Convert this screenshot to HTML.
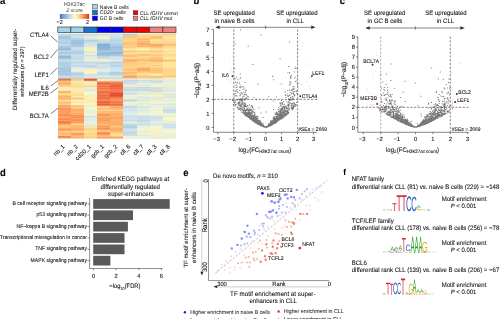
<!DOCTYPE html><html><head><meta charset="utf-8"><style>html,body{margin:0;padding:0;background:#fff;width:500px;height:319px;overflow:hidden}svg{display:block;will-change:transform}.w{width:500px;height:319px;overflow:hidden}text{font-family:"Liberation Sans",sans-serif;fill:#111;stroke:#111;stroke-width:0.8px;text-rendering:geometricPrecision}</style></head><body>
<div class="w"><svg width="500" height="319" viewBox="0 0 500 319">
<g font-weight="bold" style="fill:#000">
<text transform="translate(0,4.4) scale(1,1.05) scale(0.1)" font-size="95.0" style="font-weight:bold;fill:#000">a</text>
<text transform="translate(193.6,4.4) scale(1,1.05) scale(0.1)" font-size="95.0" style="font-weight:bold;fill:#000">b</text>
<text transform="translate(339.8,4.2) scale(1,1.05) scale(0.1)" font-size="95.0" style="font-weight:bold;fill:#000">c</text>
<text transform="translate(0,176) scale(1,1.05) scale(0.1)" font-size="95.0" style="font-weight:bold;fill:#000">d</text>
<text transform="translate(183.2,175.8) scale(1,1.05) scale(0.1)" font-size="95.0" style="font-weight:bold;fill:#000">e</text>
<text transform="translate(343.2,175.2) scale(1,1.05) scale(0.1)" font-size="80.0" style="font-weight:bold;fill:#000">f</text>
</g>
<defs><linearGradient id="cb" x1="0" x2="1" y1="0" y2="0">
<stop offset="0.000" stop-color="#4575b4"/>
<stop offset="0.125" stop-color="#77a3cd"/>
<stop offset="0.250" stop-color="#a2c4de"/>
<stop offset="0.375" stop-color="#cadeea"/>
<stop offset="0.500" stop-color="#fdfdc8"/>
<stop offset="0.625" stop-color="#fee094"/>
<stop offset="0.750" stop-color="#fdb068"/>
<stop offset="0.875" stop-color="#f47048"/>
<stop offset="1.000" stop-color="#d73027"/>
</linearGradient></defs>
<rect x="59.8" y="14" width="29.3" height="4.9" fill="url(#cb)"/>
<text transform="translate(74.4,5.6) scale(1,1.05) scale(0.1)" font-size="51.0" text-anchor="middle" style="fill:#444;stroke:#444;stroke-width:0.3px">H3K27ac</text>
<text transform="translate(74.45,11.5) scale(1,1.05) scale(0.1)" font-size="49.0" text-anchor="middle" style="fill:#444;stroke:#444;stroke-width:0.3px"><tspan font-style="italic">Z</tspan>-score</text>
<text transform="translate(59.6,24.4) scale(1,1.05) scale(0.1)" font-size="55.0" text-anchor="middle" >−2</text>
<text transform="translate(87.5,24.4) scale(1,1.05) scale(0.1)" font-size="55.0" text-anchor="middle" >2</text>
<rect x="92.3" y="4.3" width="5.3" height="4.6" fill="#a6d3e3" stroke="#444" stroke-width="0.5"/>
<text transform="translate(99.8,8.5) scale(1,1.05) scale(0.1)" font-size="50.0" style="fill:#222;stroke:#222;stroke-width:0.4px">Naive B cells</text>
<rect x="92.3" y="10.2" width="5.3" height="4.6" fill="#1b6fce" stroke="#444" stroke-width="0.5"/>
<text transform="translate(99.8,14.399999999999999) scale(1,1.05) scale(0.1)" font-size="50.0" style="fill:#222;stroke:#222;stroke-width:0.4px"><tspan font-style="italic">CD20</tspan><tspan baseline-shift="super" font-size="30.0">+</tspan> cells</text>
<rect x="92.3" y="16.0" width="5.3" height="4.6" fill="#0000f0" stroke="#444" stroke-width="0.5"/>
<text transform="translate(99.8,20.2) scale(1,1.05) scale(0.1)" font-size="50.0" style="fill:#222;stroke:#222;stroke-width:0.4px">GC B cells</text>
<rect x="133.2" y="10.7" width="4.6" height="4.2" fill="#ee0000" stroke="#444" stroke-width="0.5"/>
<text transform="translate(139.9,14.7) scale(1,1.05) scale(0.1)" font-size="50.0" style="fill:#222;stroke:#222;stroke-width:0.4px">CLL <tspan font-style="italic">IGHV</tspan> unmut</text>
<rect x="133.2" y="16.3" width="4.6" height="4.2" fill="#ee8080" stroke="#444" stroke-width="0.5"/>
<text transform="translate(139.9,20.3) scale(1,1.05) scale(0.1)" font-size="50.0" style="fill:#222;stroke:#222;stroke-width:0.4px">CLL <tspan font-style="italic">IGHV</tspan> mut</text>
<rect x="57.75" y="27" width="13.14" height="5.6" fill="#a6d3e3" stroke="#333" stroke-width="0.65"/>
<rect x="70.89" y="27" width="13.14" height="5.6" fill="#a6d3e3" stroke="#333" stroke-width="0.65"/>
<rect x="84.03" y="27" width="13.14" height="5.6" fill="#1b6fce" stroke="#333" stroke-width="0.65"/>
<rect x="97.17" y="27" width="13.14" height="5.6" fill="#0000f0" stroke="#333" stroke-width="0.65"/>
<rect x="110.31" y="27" width="13.14" height="5.6" fill="#0000f0" stroke="#333" stroke-width="0.65"/>
<rect x="123.44" y="27" width="13.14" height="5.6" fill="#ee0000" stroke="#333" stroke-width="0.65"/>
<rect x="136.58" y="27" width="13.14" height="5.6" fill="#ee0000" stroke="#333" stroke-width="0.65"/>
<rect x="149.72" y="27" width="13.14" height="5.6" fill="#ee8080" stroke="#333" stroke-width="0.65"/>
<rect x="162.86" y="27" width="13.14" height="5.6" fill="#ee8080" stroke="#333" stroke-width="0.65"/>
<defs><clipPath id="hc"><rect x="57.75" y="33.5" width="118.25" height="105.25"/></clipPath></defs>
<g clip-path="url(#hc)" shape-rendering="crispEdges">
<rect x="57.75" y="33" width="13.20" height="1" fill="#cadfea"/>
<rect x="70.89" y="33" width="13.20" height="1" fill="#dcebed"/>
<rect x="84.03" y="33" width="13.20" height="1" fill="#d0e2ea"/>
<rect x="97.17" y="33" width="13.20" height="1" fill="#d3e5ec"/>
<rect x="110.31" y="33" width="13.20" height="1" fill="#d1e4ec"/>
<rect x="123.44" y="33" width="13.20" height="1" fill="#bed6e6"/>
<rect x="136.58" y="33" width="13.20" height="1" fill="#fed88d"/>
<rect x="149.72" y="33" width="13.20" height="1" fill="#fed58b"/>
<rect x="162.86" y="33" width="13.20" height="1" fill="#fcae69"/>
<rect x="57.75" y="34" width="13.20" height="1" fill="#c5dbe8"/>
<rect x="70.89" y="34" width="13.20" height="1" fill="#c4dbe7"/>
<rect x="84.03" y="34" width="13.20" height="1" fill="#cce0e9"/>
<rect x="97.17" y="34" width="13.20" height="1" fill="#cde0e9"/>
<rect x="110.31" y="34" width="13.20" height="1" fill="#cadfe9"/>
<rect x="123.44" y="34" width="13.20" height="1" fill="#b3cbda"/>
<rect x="136.58" y="34" width="13.20" height="1" fill="#fee29d"/>
<rect x="149.72" y="34" width="13.20" height="1" fill="#fedf97"/>
<rect x="162.86" y="34" width="13.20" height="1" fill="#fdcf88"/>
<rect x="57.75" y="35" width="13.20" height="1" fill="#b8d3e5"/>
<rect x="70.89" y="35" width="13.20" height="1" fill="#c5dbe8"/>
<rect x="84.03" y="35" width="13.20" height="1" fill="#d2e4e9"/>
<rect x="97.17" y="35" width="13.20" height="1" fill="#e3ecdd"/>
<rect x="110.31" y="35" width="13.20" height="1" fill="#d6e7ed"/>
<rect x="123.44" y="35" width="13.20" height="1" fill="#e9ca9d"/>
<rect x="136.58" y="35" width="13.20" height="1" fill="#fecf86"/>
<rect x="149.72" y="35" width="13.20" height="1" fill="#fed48b"/>
<rect x="162.86" y="35" width="13.20" height="1" fill="#fddc95"/>
<rect x="57.75" y="36" width="13.20" height="1" fill="#adcbe2"/>
<rect x="70.89" y="36" width="13.20" height="1" fill="#d5e6ed"/>
<rect x="84.03" y="36" width="13.20" height="1" fill="#e4efe4"/>
<rect x="97.17" y="36" width="13.20" height="1" fill="#f9eeb8"/>
<rect x="110.31" y="36" width="13.20" height="1" fill="#d0e2eb"/>
<rect x="123.44" y="36" width="13.20" height="1" fill="#fcc57e"/>
<rect x="136.58" y="36" width="13.20" height="1" fill="#fed38b"/>
<rect x="149.72" y="36" width="13.20" height="1" fill="#fdc47b"/>
<rect x="162.86" y="36" width="13.20" height="1" fill="#f8e2ab"/>
<rect x="57.75" y="37" width="13.20" height="1" fill="#a3c4df"/>
<rect x="70.89" y="37" width="13.20" height="1" fill="#c9dee9"/>
<rect x="84.03" y="37" width="13.20" height="1" fill="#e2ebdb"/>
<rect x="97.17" y="37" width="13.20" height="1" fill="#f0f4d7"/>
<rect x="110.31" y="37" width="13.20" height="1" fill="#cee1eb"/>
<rect x="123.44" y="37" width="13.20" height="1" fill="#fec67d"/>
<rect x="136.58" y="37" width="13.20" height="1" fill="#fdd68f"/>
<rect x="149.72" y="37" width="13.20" height="1" fill="#fdb771"/>
<rect x="162.86" y="37" width="13.20" height="1" fill="#fde6a2"/>
<rect x="57.75" y="38" width="13.20" height="1" fill="#a8c8e0"/>
<rect x="70.89" y="38" width="13.20" height="1" fill="#bed6e6"/>
<rect x="84.03" y="38" width="13.20" height="1" fill="#dfebe1"/>
<rect x="97.17" y="38" width="13.20" height="1" fill="#f5f7ce"/>
<rect x="110.31" y="38" width="13.20" height="1" fill="#c5dce8"/>
<rect x="123.44" y="38" width="13.20" height="1" fill="#fed087"/>
<rect x="136.58" y="38" width="13.20" height="1" fill="#fcc07d"/>
<rect x="149.72" y="38" width="13.20" height="1" fill="#fdc67d"/>
<rect x="162.86" y="38" width="13.20" height="1" fill="#fee9a7"/>
<rect x="57.75" y="39" width="13.20" height="1" fill="#b6d1e4"/>
<rect x="70.89" y="39" width="13.20" height="1" fill="#b1cee3"/>
<rect x="84.03" y="39" width="13.20" height="1" fill="#d0e1e2"/>
<rect x="97.17" y="39" width="13.20" height="1" fill="#d6e5e1"/>
<rect x="110.31" y="39" width="13.20" height="1" fill="#c5dbe8"/>
<rect x="123.44" y="39" width="13.20" height="1" fill="#fed288"/>
<rect x="136.58" y="39" width="13.20" height="1" fill="#fcb570"/>
<rect x="149.72" y="39" width="13.20" height="1" fill="#fedb92"/>
<rect x="162.86" y="39" width="13.20" height="1" fill="#fedc95"/>
<rect x="57.75" y="40" width="13.20" height="1" fill="#b8d2e5"/>
<rect x="70.89" y="40" width="13.20" height="1" fill="#a1c3de"/>
<rect x="84.03" y="40" width="13.20" height="1" fill="#b2cee2"/>
<rect x="97.17" y="40" width="13.20" height="1" fill="#c5dbe8"/>
<rect x="110.31" y="40" width="13.20" height="1" fill="#b8d2e5"/>
<rect x="123.44" y="40" width="13.20" height="1" fill="#fed88e"/>
<rect x="136.58" y="40" width="13.20" height="1" fill="#fdc77e"/>
<rect x="149.72" y="40" width="13.20" height="1" fill="#fee39c"/>
<rect x="162.86" y="40" width="13.20" height="1" fill="#fee19c"/>
<rect x="57.75" y="41" width="13.20" height="1" fill="#bdd6e6"/>
<rect x="70.89" y="41" width="13.20" height="1" fill="#a6c6df"/>
<rect x="84.03" y="41" width="13.20" height="1" fill="#bed7e6"/>
<rect x="97.17" y="41" width="13.20" height="1" fill="#c6dce9"/>
<rect x="110.31" y="41" width="13.20" height="1" fill="#bed7e6"/>
<rect x="123.44" y="41" width="13.20" height="1" fill="#fed086"/>
<rect x="136.58" y="41" width="13.20" height="1" fill="#fdbd75"/>
<rect x="149.72" y="41" width="13.20" height="1" fill="#fed88e"/>
<rect x="162.86" y="41" width="13.20" height="1" fill="#fed68c"/>
<rect x="57.75" y="42" width="13.20" height="1" fill="#aac9e1"/>
<rect x="70.89" y="42" width="13.20" height="1" fill="#9bbedc"/>
<rect x="84.03" y="42" width="13.20" height="1" fill="#c4dbe8"/>
<rect x="97.17" y="42" width="13.20" height="1" fill="#bed6e6"/>
<rect x="110.31" y="42" width="13.20" height="1" fill="#c1d9e7"/>
<rect x="123.44" y="42" width="13.20" height="1" fill="#fec67c"/>
<rect x="136.58" y="42" width="13.20" height="1" fill="#fdb871"/>
<rect x="149.72" y="42" width="13.20" height="1" fill="#feda93"/>
<rect x="162.86" y="42" width="13.20" height="1" fill="#fed991"/>
<rect x="57.75" y="43" width="13.20" height="1" fill="#b8d2e5"/>
<rect x="70.89" y="43" width="13.20" height="1" fill="#9dc0dc"/>
<rect x="84.03" y="43" width="13.20" height="1" fill="#cfe2eb"/>
<rect x="97.17" y="43" width="13.20" height="1" fill="#a7c6de"/>
<rect x="110.31" y="43" width="13.20" height="1" fill="#b6d1e4"/>
<rect x="123.44" y="43" width="13.20" height="1" fill="#fdc178"/>
<rect x="136.58" y="43" width="13.20" height="1" fill="#fcae68"/>
<rect x="149.72" y="43" width="13.20" height="1" fill="#fdcd87"/>
<rect x="162.86" y="43" width="13.20" height="1" fill="#fecf85"/>
<rect x="57.75" y="44" width="13.20" height="1" fill="#c1d9e7"/>
<rect x="70.89" y="44" width="13.20" height="1" fill="#a6c6df"/>
<rect x="84.03" y="44" width="13.20" height="1" fill="#cfe2eb"/>
<rect x="97.17" y="44" width="13.20" height="1" fill="#89b1d5"/>
<rect x="110.31" y="44" width="13.20" height="1" fill="#aecce2"/>
<rect x="123.44" y="44" width="13.20" height="1" fill="#fdc47a"/>
<rect x="136.58" y="44" width="13.20" height="1" fill="#fba664"/>
<rect x="149.72" y="44" width="13.20" height="1" fill="#fba968"/>
<rect x="162.86" y="44" width="13.20" height="1" fill="#fdbd76"/>
<rect x="57.75" y="45" width="13.20" height="1" fill="#bad4e5"/>
<rect x="70.89" y="45" width="13.20" height="1" fill="#a7c7e0"/>
<rect x="84.03" y="45" width="13.20" height="1" fill="#d4e5ec"/>
<rect x="97.17" y="45" width="13.20" height="1" fill="#81acd2"/>
<rect x="110.31" y="45" width="13.20" height="1" fill="#accae1"/>
<rect x="123.44" y="45" width="13.20" height="1" fill="#fdcf85"/>
<rect x="136.58" y="45" width="13.20" height="1" fill="#fdbc74"/>
<rect x="149.72" y="45" width="13.20" height="1" fill="#fba765"/>
<rect x="162.86" y="45" width="13.20" height="1" fill="#fec77e"/>
<rect x="57.75" y="46" width="13.20" height="1" fill="#b0cde2"/>
<rect x="70.89" y="46" width="13.20" height="1" fill="#b2cee3"/>
<rect x="84.03" y="46" width="13.20" height="1" fill="#d8e6e6"/>
<rect x="97.17" y="46" width="13.20" height="1" fill="#8fb6d8"/>
<rect x="110.31" y="46" width="13.20" height="1" fill="#a7c7e0"/>
<rect x="123.44" y="46" width="13.20" height="1" fill="#fdc97f"/>
<rect x="136.58" y="46" width="13.20" height="1" fill="#fcae6b"/>
<rect x="149.72" y="46" width="13.20" height="1" fill="#fcb872"/>
<rect x="162.86" y="46" width="13.20" height="1" fill="#fed88d"/>
<rect x="57.75" y="47" width="13.20" height="1" fill="#a2c4de"/>
<rect x="70.89" y="47" width="13.20" height="1" fill="#c3dae8"/>
<rect x="84.03" y="47" width="13.20" height="1" fill="#f9f1ba"/>
<rect x="97.17" y="47" width="13.20" height="1" fill="#87b0d5"/>
<rect x="110.31" y="47" width="13.20" height="1" fill="#99bddb"/>
<rect x="123.44" y="47" width="13.20" height="1" fill="#fecc83"/>
<rect x="136.58" y="47" width="13.20" height="1" fill="#fddd97"/>
<rect x="149.72" y="47" width="13.20" height="1" fill="#fec87f"/>
<rect x="162.86" y="47" width="13.20" height="1" fill="#fedc94"/>
<rect x="57.75" y="48" width="13.20" height="1" fill="#9bbedc"/>
<rect x="70.89" y="48" width="13.20" height="1" fill="#c9deea"/>
<rect x="84.03" y="48" width="13.20" height="1" fill="#fcf1b7"/>
<rect x="97.17" y="48" width="13.20" height="1" fill="#8bb3d6"/>
<rect x="110.31" y="48" width="13.20" height="1" fill="#a2c3de"/>
<rect x="123.44" y="48" width="13.20" height="1" fill="#fee299"/>
<rect x="136.58" y="48" width="13.20" height="1" fill="#fdedac"/>
<rect x="149.72" y="48" width="13.20" height="1" fill="#fede94"/>
<rect x="162.86" y="48" width="13.20" height="1" fill="#fee49c"/>
<rect x="57.75" y="49" width="13.20" height="1" fill="#95bada"/>
<rect x="70.89" y="49" width="13.20" height="1" fill="#c7dde9"/>
<rect x="84.03" y="49" width="13.20" height="1" fill="#f1f1cf"/>
<rect x="97.17" y="49" width="13.20" height="1" fill="#98bcdb"/>
<rect x="110.31" y="49" width="13.20" height="1" fill="#a6c6df"/>
<rect x="123.44" y="49" width="13.20" height="1" fill="#fee9a6"/>
<rect x="136.58" y="49" width="13.20" height="1" fill="#fcf1b6"/>
<rect x="149.72" y="49" width="13.20" height="1" fill="#fede95"/>
<rect x="162.86" y="49" width="13.20" height="1" fill="#fee7a0"/>
<rect x="57.75" y="50" width="13.20" height="1" fill="#adcbe1"/>
<rect x="70.89" y="50" width="13.20" height="1" fill="#bfd7e7"/>
<rect x="84.03" y="50" width="13.20" height="1" fill="#f5f2c5"/>
<rect x="97.17" y="50" width="13.20" height="1" fill="#99bddb"/>
<rect x="110.31" y="50" width="13.20" height="1" fill="#a6c6df"/>
<rect x="123.44" y="50" width="13.20" height="1" fill="#fdd793"/>
<rect x="136.58" y="50" width="13.20" height="1" fill="#fce1a4"/>
<rect x="149.72" y="50" width="13.20" height="1" fill="#fedc93"/>
<rect x="162.86" y="50" width="13.20" height="1" fill="#fee69f"/>
<rect x="57.75" y="51" width="13.20" height="1" fill="#c8dde9"/>
<rect x="70.89" y="51" width="13.20" height="1" fill="#b4d0e3"/>
<rect x="84.03" y="51" width="13.20" height="1" fill="#eaeccc"/>
<rect x="97.17" y="51" width="13.20" height="1" fill="#b0cde2"/>
<rect x="110.31" y="51" width="13.20" height="1" fill="#accae1"/>
<rect x="123.44" y="51" width="13.20" height="1" fill="#fdc37b"/>
<rect x="136.58" y="51" width="13.20" height="1" fill="#fdcb85"/>
<rect x="149.72" y="51" width="13.20" height="1" fill="#fdc47b"/>
<rect x="162.86" y="51" width="13.20" height="1" fill="#fddd97"/>
<rect x="57.75" y="52" width="13.20" height="1" fill="#a4c4de"/>
<rect x="70.89" y="52" width="13.20" height="1" fill="#afcce2"/>
<rect x="84.03" y="52" width="13.20" height="1" fill="#d7e6e4"/>
<rect x="97.17" y="52" width="13.20" height="1" fill="#97bbd9"/>
<rect x="110.31" y="52" width="13.20" height="1" fill="#8ab2d5"/>
<rect x="123.44" y="52" width="13.20" height="1" fill="#fedd96"/>
<rect x="136.58" y="52" width="13.20" height="1" fill="#fee5a1"/>
<rect x="149.72" y="52" width="13.20" height="1" fill="#fedc95"/>
<rect x="162.86" y="52" width="13.20" height="1" fill="#faeab1"/>
<rect x="57.75" y="53" width="13.20" height="1" fill="#b3cfe3"/>
<rect x="70.89" y="53" width="13.20" height="1" fill="#bbd4e5"/>
<rect x="84.03" y="53" width="13.20" height="1" fill="#e9f0d4"/>
<rect x="97.17" y="53" width="13.20" height="1" fill="#98bcda"/>
<rect x="110.31" y="53" width="13.20" height="1" fill="#9cbfdc"/>
<rect x="123.44" y="53" width="13.20" height="1" fill="#fed88f"/>
<rect x="136.58" y="53" width="13.20" height="1" fill="#fdcf86"/>
<rect x="149.72" y="53" width="13.20" height="1" fill="#feda91"/>
<rect x="162.86" y="53" width="13.20" height="1" fill="#fee099"/>
<rect x="57.75" y="54" width="13.20" height="1" fill="#b7d2e4"/>
<rect x="70.89" y="54" width="13.20" height="1" fill="#bed6e6"/>
<rect x="84.03" y="54" width="13.20" height="1" fill="#eef2cf"/>
<rect x="97.17" y="54" width="13.20" height="1" fill="#95bad9"/>
<rect x="110.31" y="54" width="13.20" height="1" fill="#a3c4de"/>
<rect x="123.44" y="54" width="13.20" height="1" fill="#fed88e"/>
<rect x="136.58" y="54" width="13.20" height="1" fill="#fdc77e"/>
<rect x="149.72" y="54" width="13.20" height="1" fill="#fed48b"/>
<rect x="162.86" y="54" width="13.20" height="1" fill="#fedb90"/>
<rect x="57.75" y="55" width="13.20" height="1" fill="#b0cde2"/>
<rect x="70.89" y="55" width="13.20" height="1" fill="#cfe2eb"/>
<rect x="84.03" y="55" width="13.20" height="1" fill="#cbdfe5"/>
<rect x="97.17" y="55" width="13.20" height="1" fill="#9fc1db"/>
<rect x="110.31" y="55" width="13.20" height="1" fill="#aac9e0"/>
<rect x="123.44" y="55" width="13.20" height="1" fill="#fcbc77"/>
<rect x="136.58" y="55" width="13.20" height="1" fill="#fdc67d"/>
<rect x="149.72" y="55" width="13.20" height="1" fill="#fdc57d"/>
<rect x="162.86" y="55" width="13.20" height="1" fill="#fed98e"/>
<rect x="57.75" y="56" width="13.20" height="1" fill="#97bbda"/>
<rect x="70.89" y="56" width="13.20" height="1" fill="#c6dce8"/>
<rect x="84.03" y="56" width="13.20" height="1" fill="#d9e9ea"/>
<rect x="97.17" y="56" width="13.20" height="1" fill="#c1d8e4"/>
<rect x="110.31" y="56" width="13.20" height="1" fill="#c5dce8"/>
<rect x="123.44" y="56" width="13.20" height="1" fill="#fbc37f"/>
<rect x="136.58" y="56" width="13.20" height="1" fill="#fed38c"/>
<rect x="149.72" y="56" width="13.20" height="1" fill="#fdd08b"/>
<rect x="162.86" y="56" width="13.20" height="1" fill="#fedd94"/>
<rect x="57.75" y="57" width="13.20" height="1" fill="#97bcda"/>
<rect x="70.89" y="57" width="13.20" height="1" fill="#c5dbe8"/>
<rect x="84.03" y="57" width="13.20" height="1" fill="#e3efe0"/>
<rect x="97.17" y="57" width="13.20" height="1" fill="#c1d8e6"/>
<rect x="110.31" y="57" width="13.20" height="1" fill="#d2e4ec"/>
<rect x="123.44" y="57" width="13.20" height="1" fill="#fed68f"/>
<rect x="136.58" y="57" width="13.20" height="1" fill="#fedb91"/>
<rect x="149.72" y="57" width="13.20" height="1" fill="#fecf85"/>
<rect x="162.86" y="57" width="13.20" height="1" fill="#fee8a3"/>
<rect x="57.75" y="58" width="13.20" height="1" fill="#a7c6e0"/>
<rect x="70.89" y="58" width="13.20" height="1" fill="#c2d9e7"/>
<rect x="84.03" y="58" width="13.20" height="1" fill="#e4eede"/>
<rect x="97.17" y="58" width="13.20" height="1" fill="#cadfe5"/>
<rect x="110.31" y="58" width="13.20" height="1" fill="#cfe2eb"/>
<rect x="123.44" y="58" width="13.20" height="1" fill="#fed991"/>
<rect x="136.58" y="58" width="13.20" height="1" fill="#fdc77f"/>
<rect x="149.72" y="58" width="13.20" height="1" fill="#fdc178"/>
<rect x="162.86" y="58" width="13.20" height="1" fill="#fee7a1"/>
<rect x="57.75" y="59" width="13.20" height="1" fill="#bcd5e6"/>
<rect x="70.89" y="59" width="13.20" height="1" fill="#c6dce8"/>
<rect x="84.03" y="59" width="13.20" height="1" fill="#e8f0de"/>
<rect x="97.17" y="59" width="13.20" height="1" fill="#edf0ce"/>
<rect x="110.31" y="59" width="13.20" height="1" fill="#d6e6eb"/>
<rect x="123.44" y="59" width="13.20" height="1" fill="#fdba73"/>
<rect x="136.58" y="59" width="13.20" height="1" fill="#fdc57c"/>
<rect x="149.72" y="59" width="13.20" height="1" fill="#fdbf76"/>
<rect x="162.86" y="59" width="13.20" height="1" fill="#fed48b"/>
<rect x="57.75" y="60" width="13.20" height="1" fill="#c4dbe8"/>
<rect x="70.89" y="60" width="13.20" height="1" fill="#d2e4ea"/>
<rect x="84.03" y="60" width="13.20" height="1" fill="#ebefd5"/>
<rect x="97.17" y="60" width="13.20" height="1" fill="#f3efc4"/>
<rect x="110.31" y="60" width="13.20" height="1" fill="#e5efe2"/>
<rect x="123.44" y="60" width="13.20" height="1" fill="#fcad69"/>
<rect x="136.58" y="60" width="13.20" height="1" fill="#fcb974"/>
<rect x="149.72" y="60" width="13.20" height="1" fill="#fcb26c"/>
<rect x="162.86" y="60" width="13.20" height="1" fill="#fdc077"/>
<rect x="57.75" y="61" width="13.20" height="1" fill="#c6dce9"/>
<rect x="70.89" y="61" width="13.20" height="1" fill="#c8dde9"/>
<rect x="84.03" y="61" width="13.20" height="1" fill="#e1ebdd"/>
<rect x="97.17" y="61" width="13.20" height="1" fill="#eaeed1"/>
<rect x="110.31" y="61" width="13.20" height="1" fill="#cce0e8"/>
<rect x="123.44" y="61" width="13.20" height="1" fill="#fcb872"/>
<rect x="136.58" y="61" width="13.20" height="1" fill="#fdc980"/>
<rect x="149.72" y="61" width="13.20" height="1" fill="#fdbb73"/>
<rect x="162.86" y="61" width="13.20" height="1" fill="#fed087"/>
<rect x="57.75" y="62" width="13.20" height="1" fill="#accae1"/>
<rect x="70.89" y="62" width="13.20" height="1" fill="#c0d8e7"/>
<rect x="84.03" y="62" width="13.20" height="1" fill="#bfd7e5"/>
<rect x="97.17" y="62" width="13.20" height="1" fill="#c2d9e4"/>
<rect x="110.31" y="62" width="13.20" height="1" fill="#b5d1e4"/>
<rect x="123.44" y="62" width="13.20" height="1" fill="#fdc97f"/>
<rect x="136.58" y="62" width="13.20" height="1" fill="#fed88f"/>
<rect x="149.72" y="62" width="13.20" height="1" fill="#fed58a"/>
<rect x="162.86" y="62" width="13.20" height="1" fill="#fee49d"/>
<rect x="57.75" y="63" width="13.20" height="1" fill="#b4d0e4"/>
<rect x="70.89" y="63" width="13.20" height="1" fill="#c4dbe8"/>
<rect x="84.03" y="63" width="13.20" height="1" fill="#cbdfea"/>
<rect x="97.17" y="63" width="13.20" height="1" fill="#bfd7e7"/>
<rect x="110.31" y="63" width="13.20" height="1" fill="#c0d8e7"/>
<rect x="123.44" y="63" width="13.20" height="1" fill="#fecc81"/>
<rect x="136.58" y="63" width="13.20" height="1" fill="#fecb81"/>
<rect x="149.72" y="63" width="13.20" height="1" fill="#fed98f"/>
<rect x="162.86" y="63" width="13.20" height="1" fill="#fde7a3"/>
<rect x="57.75" y="64" width="13.20" height="1" fill="#b1cee3"/>
<rect x="70.89" y="64" width="13.20" height="1" fill="#cfe3eb"/>
<rect x="84.03" y="64" width="13.20" height="1" fill="#cee1eb"/>
<rect x="97.17" y="64" width="13.20" height="1" fill="#cfe2eb"/>
<rect x="110.31" y="64" width="13.20" height="1" fill="#c4dae8"/>
<rect x="123.44" y="64" width="13.20" height="1" fill="#fece83"/>
<rect x="136.58" y="64" width="13.20" height="1" fill="#fed288"/>
<rect x="149.72" y="64" width="13.20" height="1" fill="#fedb91"/>
<rect x="162.86" y="64" width="13.20" height="1" fill="#fee39d"/>
<rect x="57.75" y="65" width="13.20" height="1" fill="#b2cee3"/>
<rect x="70.89" y="65" width="13.20" height="1" fill="#c1d8e7"/>
<rect x="84.03" y="65" width="13.20" height="1" fill="#c3d9e8"/>
<rect x="97.17" y="65" width="13.20" height="1" fill="#d0e2eb"/>
<rect x="110.31" y="65" width="13.20" height="1" fill="#bad4e5"/>
<rect x="123.44" y="65" width="13.20" height="1" fill="#fece84"/>
<rect x="136.58" y="65" width="13.20" height="1" fill="#fed78d"/>
<rect x="149.72" y="65" width="13.20" height="1" fill="#fdcd83"/>
<rect x="162.86" y="65" width="13.20" height="1" fill="#fee8a6"/>
<rect x="57.75" y="66" width="13.20" height="1" fill="#b7d2e4"/>
<rect x="70.89" y="66" width="13.20" height="1" fill="#c8dde9"/>
<rect x="84.03" y="66" width="13.20" height="1" fill="#bed6e6"/>
<rect x="97.17" y="66" width="13.20" height="1" fill="#d0e2eb"/>
<rect x="110.31" y="66" width="13.20" height="1" fill="#bdd6e6"/>
<rect x="123.44" y="66" width="13.20" height="1" fill="#fed38c"/>
<rect x="136.58" y="66" width="13.20" height="1" fill="#fed68c"/>
<rect x="149.72" y="66" width="13.20" height="1" fill="#fed98f"/>
<rect x="162.86" y="66" width="13.20" height="1" fill="#fee5a1"/>
<rect x="57.75" y="67" width="13.20" height="1" fill="#accae1"/>
<rect x="70.89" y="67" width="13.20" height="1" fill="#dae9e9"/>
<rect x="84.03" y="67" width="13.20" height="1" fill="#c9dde5"/>
<rect x="97.17" y="67" width="13.20" height="1" fill="#cadee8"/>
<rect x="110.31" y="67" width="13.20" height="1" fill="#cbdfea"/>
<rect x="123.44" y="67" width="13.20" height="1" fill="#fed58c"/>
<rect x="136.58" y="67" width="13.20" height="1" fill="#fdc67e"/>
<rect x="149.72" y="67" width="13.20" height="1" fill="#fed48a"/>
<rect x="162.86" y="67" width="13.20" height="1" fill="#fedf97"/>
<rect x="57.75" y="68" width="13.20" height="1" fill="#aac9e0"/>
<rect x="70.89" y="68" width="13.20" height="1" fill="#e6efda"/>
<rect x="84.03" y="68" width="13.20" height="1" fill="#e9ead1"/>
<rect x="97.17" y="68" width="13.20" height="1" fill="#dbe9e5"/>
<rect x="110.31" y="68" width="13.20" height="1" fill="#d2e4ec"/>
<rect x="123.44" y="68" width="13.20" height="1" fill="#fdc87e"/>
<rect x="136.58" y="68" width="13.20" height="1" fill="#fba565"/>
<rect x="149.72" y="68" width="13.20" height="1" fill="#fdc57b"/>
<rect x="162.86" y="68" width="13.20" height="1" fill="#fed890"/>
<rect x="57.75" y="69" width="13.20" height="1" fill="#a5c5df"/>
<rect x="70.89" y="69" width="13.20" height="1" fill="#e3efe4"/>
<rect x="84.03" y="69" width="13.20" height="1" fill="#f0f4d7"/>
<rect x="97.17" y="69" width="13.20" height="1" fill="#dfebe1"/>
<rect x="110.31" y="69" width="13.20" height="1" fill="#cee1eb"/>
<rect x="123.44" y="69" width="13.20" height="1" fill="#fec87e"/>
<rect x="136.58" y="69" width="13.20" height="1" fill="#fba868"/>
<rect x="149.72" y="69" width="13.20" height="1" fill="#fdc47a"/>
<rect x="162.86" y="69" width="13.20" height="1" fill="#fdd993"/>
<rect x="57.75" y="70" width="13.20" height="1" fill="#adcbe2"/>
<rect x="70.89" y="70" width="13.20" height="1" fill="#e8f2e2"/>
<rect x="84.03" y="70" width="13.20" height="1" fill="#faf3bf"/>
<rect x="97.17" y="70" width="13.20" height="1" fill="#e2eee9"/>
<rect x="110.31" y="70" width="13.20" height="1" fill="#d8e8eb"/>
<rect x="123.44" y="70" width="13.20" height="1" fill="#fdbe78"/>
<rect x="136.58" y="70" width="13.20" height="1" fill="#fcad69"/>
<rect x="149.72" y="70" width="13.20" height="1" fill="#fdbd75"/>
<rect x="162.86" y="70" width="13.20" height="1" fill="#fecf85"/>
<rect x="57.75" y="71" width="13.20" height="1" fill="#a3c5df"/>
<rect x="70.89" y="71" width="13.20" height="1" fill="#e5efdd"/>
<rect x="84.03" y="71" width="13.20" height="1" fill="#fbf6bf"/>
<rect x="97.17" y="71" width="13.20" height="1" fill="#ddebed"/>
<rect x="110.31" y="71" width="13.20" height="1" fill="#cce0ea"/>
<rect x="123.44" y="71" width="13.20" height="1" fill="#fdd28a"/>
<rect x="136.58" y="71" width="13.20" height="1" fill="#fdbc74"/>
<rect x="149.72" y="71" width="13.20" height="1" fill="#fdca81"/>
<rect x="162.86" y="71" width="13.20" height="1" fill="#fed58a"/>
<rect x="57.75" y="72" width="13.20" height="1" fill="#a8c7e0"/>
<rect x="70.89" y="72" width="13.20" height="1" fill="#c6dbe6"/>
<rect x="84.03" y="72" width="13.20" height="1" fill="#fcf5bd"/>
<rect x="97.17" y="72" width="13.20" height="1" fill="#cbdfea"/>
<rect x="110.31" y="72" width="13.20" height="1" fill="#afcce2"/>
<rect x="123.44" y="72" width="13.20" height="1" fill="#fdb871"/>
<rect x="136.58" y="72" width="13.20" height="1" fill="#fecf84"/>
<rect x="149.72" y="72" width="13.20" height="1" fill="#fdc97f"/>
<rect x="162.86" y="72" width="13.20" height="1" fill="#fed98f"/>
<rect x="57.75" y="73" width="13.20" height="1" fill="#accae1"/>
<rect x="70.89" y="73" width="13.20" height="1" fill="#b1cee2"/>
<rect x="84.03" y="73" width="13.20" height="1" fill="#f5f3c6"/>
<rect x="97.17" y="73" width="13.20" height="1" fill="#c6dce9"/>
<rect x="110.31" y="73" width="13.20" height="1" fill="#aecbe2"/>
<rect x="123.44" y="73" width="13.20" height="1" fill="#fdbf76"/>
<rect x="136.58" y="73" width="13.20" height="1" fill="#fedd92"/>
<rect x="149.72" y="73" width="13.20" height="1" fill="#fed68c"/>
<rect x="162.86" y="73" width="13.20" height="1" fill="#fed38c"/>
<rect x="57.75" y="74" width="13.20" height="1" fill="#a2c4de"/>
<rect x="70.89" y="74" width="13.20" height="1" fill="#b8d2e4"/>
<rect x="84.03" y="74" width="13.20" height="1" fill="#d0e1e4"/>
<rect x="97.17" y="74" width="13.20" height="1" fill="#bdd5e4"/>
<rect x="110.31" y="74" width="13.20" height="1" fill="#b6d1e4"/>
<rect x="123.44" y="74" width="13.20" height="1" fill="#fdc67c"/>
<rect x="136.58" y="74" width="13.20" height="1" fill="#fee39c"/>
<rect x="149.72" y="74" width="13.20" height="1" fill="#fdecab"/>
<rect x="162.86" y="74" width="13.20" height="1" fill="#fed993"/>
<rect x="57.75" y="75" width="13.20" height="1" fill="#b7d2e4"/>
<rect x="70.89" y="75" width="13.20" height="1" fill="#bfd7e7"/>
<rect x="84.03" y="75" width="13.20" height="1" fill="#d6e4dc"/>
<rect x="97.17" y="75" width="13.20" height="1" fill="#d8e6dd"/>
<rect x="110.31" y="75" width="13.20" height="1" fill="#c6dce7"/>
<rect x="123.44" y="75" width="13.20" height="1" fill="#fdc37a"/>
<rect x="136.58" y="75" width="13.20" height="1" fill="#fdd791"/>
<rect x="149.72" y="75" width="13.20" height="1" fill="#fee29c"/>
<rect x="162.86" y="75" width="13.20" height="1" fill="#fed188"/>
<rect x="57.75" y="76" width="13.20" height="1" fill="#cce0e9"/>
<rect x="70.89" y="76" width="13.20" height="1" fill="#c9dee9"/>
<rect x="84.03" y="76" width="13.20" height="1" fill="#d9e8e5"/>
<rect x="97.17" y="76" width="13.20" height="1" fill="#e6eedb"/>
<rect x="110.31" y="76" width="13.20" height="1" fill="#deebe2"/>
<rect x="123.44" y="76" width="13.20" height="1" fill="#f99960"/>
<rect x="136.58" y="76" width="13.20" height="1" fill="#fdc37c"/>
<rect x="149.72" y="76" width="13.20" height="1" fill="#fdc179"/>
<rect x="162.86" y="76" width="13.20" height="1" fill="#fdc079"/>
<rect x="57.75" y="77" width="13.20" height="1" fill="#c4d6e2"/>
<rect x="70.89" y="77" width="13.20" height="1" fill="#c4d8e3"/>
<rect x="84.03" y="77" width="13.20" height="1" fill="#dce5e0"/>
<rect x="97.17" y="77" width="13.20" height="1" fill="#c9dee5"/>
<rect x="110.31" y="77" width="13.20" height="1" fill="#c7dde7"/>
<rect x="123.44" y="77" width="13.20" height="1" fill="#f9b276"/>
<rect x="136.58" y="77" width="13.20" height="1" fill="#fbcd8c"/>
<rect x="149.72" y="77" width="13.20" height="1" fill="#fcc780"/>
<rect x="162.86" y="77" width="13.20" height="1" fill="#fbdf9f"/>
<rect x="57.75" y="78" width="13.20" height="1" fill="#cfb2a7"/>
<rect x="70.89" y="78" width="13.20" height="1" fill="#d6d0bb"/>
<rect x="84.03" y="78" width="13.20" height="1" fill="#dcaca2"/>
<rect x="97.17" y="78" width="13.20" height="1" fill="#cadcdf"/>
<rect x="110.31" y="78" width="13.20" height="1" fill="#cedfe0"/>
<rect x="123.44" y="78" width="13.20" height="1" fill="#e5d9b3"/>
<rect x="136.58" y="78" width="13.20" height="1" fill="#eae4be"/>
<rect x="149.72" y="78" width="13.20" height="1" fill="#eddaae"/>
<rect x="162.86" y="78" width="13.20" height="1" fill="#eeefcf"/>
<rect x="57.75" y="79" width="13.20" height="1" fill="#eb7250"/>
<rect x="70.89" y="79" width="13.20" height="1" fill="#f9c783"/>
<rect x="84.03" y="79" width="13.20" height="1" fill="#e25540"/>
<rect x="97.17" y="79" width="13.20" height="1" fill="#f7ebb3"/>
<rect x="110.31" y="79" width="13.20" height="1" fill="#f5e7b3"/>
<rect x="123.44" y="79" width="13.20" height="1" fill="#e3ecda"/>
<rect x="136.58" y="79" width="13.20" height="1" fill="#edf0d3"/>
<rect x="149.72" y="79" width="13.20" height="1" fill="#eaeed1"/>
<rect x="162.86" y="79" width="13.20" height="1" fill="#eaeed6"/>
<rect x="57.75" y="80" width="13.20" height="1" fill="#f8985e"/>
<rect x="70.89" y="80" width="13.20" height="1" fill="#fcd48e"/>
<rect x="84.03" y="80" width="13.20" height="1" fill="#f07b54"/>
<rect x="97.17" y="80" width="13.20" height="1" fill="#f4ebc2"/>
<rect x="110.31" y="80" width="13.20" height="1" fill="#e4e5da"/>
<rect x="123.44" y="80" width="13.20" height="1" fill="#c3dae6"/>
<rect x="136.58" y="80" width="13.20" height="1" fill="#cddfe5"/>
<rect x="149.72" y="80" width="13.20" height="1" fill="#cce0e6"/>
<rect x="162.86" y="80" width="13.20" height="1" fill="#e2ede7"/>
<rect x="57.75" y="81" width="13.20" height="1" fill="#fdbe76"/>
<rect x="70.89" y="81" width="13.20" height="1" fill="#f1e7bc"/>
<rect x="84.03" y="81" width="13.20" height="1" fill="#ebddc0"/>
<rect x="97.17" y="81" width="13.20" height="1" fill="#f7a671"/>
<rect x="110.31" y="81" width="13.20" height="1" fill="#f6b07c"/>
<rect x="123.44" y="81" width="13.20" height="1" fill="#c4dae8"/>
<rect x="136.58" y="81" width="13.20" height="1" fill="#d5e5e2"/>
<rect x="149.72" y="81" width="13.20" height="1" fill="#c7dce8"/>
<rect x="162.86" y="81" width="13.20" height="1" fill="#dfece3"/>
<rect x="57.75" y="82" width="13.20" height="1" fill="#fdbb73"/>
<rect x="70.89" y="82" width="13.20" height="1" fill="#fcebad"/>
<rect x="84.03" y="82" width="13.20" height="1" fill="#ecefd8"/>
<rect x="97.17" y="82" width="13.20" height="1" fill="#f48453"/>
<rect x="110.31" y="82" width="13.20" height="1" fill="#f68352"/>
<rect x="123.44" y="82" width="13.20" height="1" fill="#c9deea"/>
<rect x="136.58" y="82" width="13.20" height="1" fill="#d9e7e4"/>
<rect x="149.72" y="82" width="13.20" height="1" fill="#cfe1e4"/>
<rect x="162.86" y="82" width="13.20" height="1" fill="#e8f0e1"/>
<rect x="57.75" y="83" width="13.20" height="1" fill="#fcab68"/>
<rect x="70.89" y="83" width="13.20" height="1" fill="#fee29c"/>
<rect x="84.03" y="83" width="13.20" height="1" fill="#fbf0b6"/>
<rect x="97.17" y="83" width="13.20" height="1" fill="#eb6140"/>
<rect x="110.31" y="83" width="13.20" height="1" fill="#f57a4d"/>
<rect x="123.44" y="83" width="13.20" height="1" fill="#ccdee5"/>
<rect x="136.58" y="83" width="13.20" height="1" fill="#e7eedd"/>
<rect x="149.72" y="83" width="13.20" height="1" fill="#e4eee0"/>
<rect x="162.86" y="83" width="13.20" height="1" fill="#f5f3c9"/>
<rect x="57.75" y="84" width="13.20" height="1" fill="#fdbf76"/>
<rect x="70.89" y="84" width="13.20" height="1" fill="#fedc95"/>
<rect x="84.03" y="84" width="13.20" height="1" fill="#fee7a4"/>
<rect x="97.17" y="84" width="13.20" height="1" fill="#f57d4e"/>
<rect x="110.31" y="84" width="13.20" height="1" fill="#f06a44"/>
<rect x="123.44" y="84" width="13.20" height="1" fill="#e8e8c6"/>
<rect x="136.58" y="84" width="13.20" height="1" fill="#e6f0e2"/>
<rect x="149.72" y="84" width="13.20" height="1" fill="#edf1d3"/>
<rect x="162.86" y="84" width="13.20" height="1" fill="#edefd2"/>
<rect x="57.75" y="85" width="13.20" height="1" fill="#fecc82"/>
<rect x="70.89" y="85" width="13.20" height="1" fill="#fee49e"/>
<rect x="84.03" y="85" width="13.20" height="1" fill="#fee097"/>
<rect x="97.17" y="85" width="13.20" height="1" fill="#f68251"/>
<rect x="110.31" y="85" width="13.20" height="1" fill="#ee6643"/>
<rect x="123.44" y="85" width="13.20" height="1" fill="#e7eedd"/>
<rect x="136.58" y="85" width="13.20" height="1" fill="#d8e7e7"/>
<rect x="149.72" y="85" width="13.20" height="1" fill="#f3f3cc"/>
<rect x="162.86" y="85" width="13.20" height="1" fill="#ebf1d7"/>
<rect x="57.75" y="86" width="13.20" height="1" fill="#fdd18b"/>
<rect x="70.89" y="86" width="13.20" height="1" fill="#fed68f"/>
<rect x="84.03" y="86" width="13.20" height="1" fill="#fcd590"/>
<rect x="97.17" y="86" width="13.20" height="1" fill="#f27148"/>
<rect x="110.31" y="86" width="13.20" height="1" fill="#ec5f3f"/>
<rect x="123.44" y="86" width="13.20" height="1" fill="#f5edbc"/>
<rect x="136.58" y="86" width="13.20" height="1" fill="#ebefd0"/>
<rect x="149.72" y="86" width="13.20" height="1" fill="#f2efc7"/>
<rect x="162.86" y="86" width="13.20" height="1" fill="#f0ebc4"/>
<rect x="57.75" y="87" width="13.20" height="1" fill="#faeeb6"/>
<rect x="70.89" y="87" width="13.20" height="1" fill="#fee39c"/>
<rect x="84.03" y="87" width="13.20" height="1" fill="#ededd4"/>
<rect x="97.17" y="87" width="13.20" height="1" fill="#f68653"/>
<rect x="110.31" y="87" width="13.20" height="1" fill="#f16f47"/>
<rect x="123.44" y="87" width="13.20" height="1" fill="#ccdee0"/>
<rect x="136.58" y="87" width="13.20" height="1" fill="#c2d8e1"/>
<rect x="149.72" y="87" width="13.20" height="1" fill="#d0e1e4"/>
<rect x="162.86" y="87" width="13.20" height="1" fill="#dfeae3"/>
<rect x="57.75" y="88" width="13.20" height="1" fill="#fdf0b2"/>
<rect x="70.89" y="88" width="13.20" height="1" fill="#fee9a7"/>
<rect x="84.03" y="88" width="13.20" height="1" fill="#ecefd1"/>
<rect x="97.17" y="88" width="13.20" height="1" fill="#f2764b"/>
<rect x="110.31" y="88" width="13.20" height="1" fill="#ef6844"/>
<rect x="123.44" y="88" width="13.20" height="1" fill="#cce0ea"/>
<rect x="136.58" y="88" width="13.20" height="1" fill="#cde1ea"/>
<rect x="149.72" y="88" width="13.20" height="1" fill="#cadfe9"/>
<rect x="162.86" y="88" width="13.20" height="1" fill="#e2ebd8"/>
<rect x="57.75" y="89" width="13.20" height="1" fill="#fcf3b9"/>
<rect x="70.89" y="89" width="13.20" height="1" fill="#fcf0b5"/>
<rect x="84.03" y="89" width="13.20" height="1" fill="#e3ecdb"/>
<rect x="97.17" y="89" width="13.20" height="1" fill="#f78954"/>
<rect x="110.31" y="89" width="13.20" height="1" fill="#f57d4e"/>
<rect x="123.44" y="89" width="13.20" height="1" fill="#c2d9e7"/>
<rect x="136.58" y="89" width="13.20" height="1" fill="#c3dae8"/>
<rect x="149.72" y="89" width="13.20" height="1" fill="#d0e3eb"/>
<rect x="162.86" y="89" width="13.20" height="1" fill="#e0ece4"/>
<rect x="57.75" y="90" width="13.20" height="1" fill="#fae4ab"/>
<rect x="70.89" y="90" width="13.20" height="1" fill="#f5e8bb"/>
<rect x="84.03" y="90" width="13.20" height="1" fill="#d8e7e3"/>
<rect x="97.17" y="90" width="13.20" height="1" fill="#f78e57"/>
<rect x="110.31" y="90" width="13.20" height="1" fill="#f47d4f"/>
<rect x="123.44" y="90" width="13.20" height="1" fill="#c2d9e5"/>
<rect x="136.58" y="90" width="13.20" height="1" fill="#c8dce5"/>
<rect x="149.72" y="90" width="13.20" height="1" fill="#c5d9e2"/>
<rect x="162.86" y="90" width="13.20" height="1" fill="#d8e6e1"/>
<rect x="57.75" y="91" width="13.20" height="1" fill="#fbbc82"/>
<rect x="70.89" y="91" width="13.20" height="1" fill="#fde9a7"/>
<rect x="84.03" y="91" width="13.20" height="1" fill="#eff4d4"/>
<rect x="97.17" y="91" width="13.20" height="1" fill="#f06f47"/>
<rect x="110.31" y="91" width="13.20" height="1" fill="#f4754b"/>
<rect x="123.44" y="91" width="13.20" height="1" fill="#dfeadb"/>
<rect x="136.58" y="91" width="13.20" height="1" fill="#e5ebce"/>
<rect x="149.72" y="91" width="13.20" height="1" fill="#ebe0b9"/>
<rect x="162.86" y="91" width="13.20" height="1" fill="#ececca"/>
<rect x="57.75" y="92" width="13.20" height="1" fill="#fbb476"/>
<rect x="70.89" y="92" width="13.20" height="1" fill="#fde9a7"/>
<rect x="84.03" y="92" width="13.20" height="1" fill="#f5f6ce"/>
<rect x="97.17" y="92" width="13.20" height="1" fill="#f17047"/>
<rect x="110.31" y="92" width="13.20" height="1" fill="#f16a45"/>
<rect x="123.44" y="92" width="13.20" height="1" fill="#d8e7e5"/>
<rect x="136.58" y="92" width="13.20" height="1" fill="#eeeac2"/>
<rect x="149.72" y="92" width="13.20" height="1" fill="#f3e4b2"/>
<rect x="162.86" y="92" width="13.20" height="1" fill="#eff1cd"/>
<rect x="57.75" y="93" width="13.20" height="1" fill="#fed78f"/>
<rect x="70.89" y="93" width="13.20" height="1" fill="#fee199"/>
<rect x="84.03" y="93" width="13.20" height="1" fill="#f7f7cc"/>
<rect x="97.17" y="93" width="13.20" height="1" fill="#f57e4f"/>
<rect x="110.31" y="93" width="13.20" height="1" fill="#e54f37"/>
<rect x="123.44" y="93" width="13.20" height="1" fill="#c7dce8"/>
<rect x="136.58" y="93" width="13.20" height="1" fill="#e4eee1"/>
<rect x="149.72" y="93" width="13.20" height="1" fill="#eaefd8"/>
<rect x="162.86" y="93" width="13.20" height="1" fill="#e5efe1"/>
<rect x="57.75" y="94" width="13.20" height="1" fill="#fede95"/>
<rect x="70.89" y="94" width="13.20" height="1" fill="#fedf97"/>
<rect x="84.03" y="94" width="13.20" height="1" fill="#f8f6c7"/>
<rect x="97.17" y="94" width="13.20" height="1" fill="#f4774b"/>
<rect x="110.31" y="94" width="13.20" height="1" fill="#e65238"/>
<rect x="123.44" y="94" width="13.20" height="1" fill="#d7e6e6"/>
<rect x="136.58" y="94" width="13.20" height="1" fill="#ddeae4"/>
<rect x="149.72" y="94" width="13.20" height="1" fill="#e5efdd"/>
<rect x="162.86" y="94" width="13.20" height="1" fill="#d1e2e6"/>
<rect x="57.75" y="95" width="13.20" height="1" fill="#fdc37a"/>
<rect x="70.89" y="95" width="13.20" height="1" fill="#fddb96"/>
<rect x="84.03" y="95" width="13.20" height="1" fill="#f4efc4"/>
<rect x="97.17" y="95" width="13.20" height="1" fill="#ef6e46"/>
<rect x="110.31" y="95" width="13.20" height="1" fill="#e24934"/>
<rect x="123.44" y="95" width="13.20" height="1" fill="#eef4d9"/>
<rect x="136.58" y="95" width="13.20" height="1" fill="#f4f6cf"/>
<rect x="149.72" y="95" width="13.20" height="1" fill="#f8f5c5"/>
<rect x="162.86" y="95" width="13.20" height="1" fill="#eaefd2"/>
<rect x="57.75" y="96" width="13.20" height="1" fill="#fcaf6b"/>
<rect x="70.89" y="96" width="13.20" height="1" fill="#fdedaf"/>
<rect x="84.03" y="96" width="13.20" height="1" fill="#fcebab"/>
<rect x="97.17" y="96" width="13.20" height="1" fill="#f4794d"/>
<rect x="110.31" y="96" width="13.20" height="1" fill="#ed6140"/>
<rect x="123.44" y="96" width="13.20" height="1" fill="#ebf1d4"/>
<rect x="136.58" y="96" width="13.20" height="1" fill="#efedc8"/>
<rect x="149.72" y="96" width="13.20" height="1" fill="#f9f2bb"/>
<rect x="162.86" y="96" width="13.20" height="1" fill="#dbe8e5"/>
<rect x="57.75" y="97" width="13.20" height="1" fill="#fdbe76"/>
<rect x="70.89" y="97" width="13.20" height="1" fill="#fed790"/>
<rect x="84.03" y="97" width="13.20" height="1" fill="#fdf3b6"/>
<rect x="97.17" y="97" width="13.20" height="1" fill="#ef6a45"/>
<rect x="110.31" y="97" width="13.20" height="1" fill="#f17249"/>
<rect x="123.44" y="97" width="13.20" height="1" fill="#e6f0de"/>
<rect x="136.58" y="97" width="13.20" height="1" fill="#d8e7e8"/>
<rect x="149.72" y="97" width="13.20" height="1" fill="#dfeadc"/>
<rect x="162.86" y="97" width="13.20" height="1" fill="#e3e9d7"/>
<rect x="57.75" y="98" width="13.20" height="1" fill="#fcb16d"/>
<rect x="70.89" y="98" width="13.20" height="1" fill="#fdc67e"/>
<rect x="84.03" y="98" width="13.20" height="1" fill="#fceeb2"/>
<rect x="97.17" y="98" width="13.20" height="1" fill="#f3784c"/>
<rect x="110.31" y="98" width="13.20" height="1" fill="#f89058"/>
<rect x="123.44" y="98" width="13.20" height="1" fill="#eff1d2"/>
<rect x="136.58" y="98" width="13.20" height="1" fill="#dceaec"/>
<rect x="149.72" y="98" width="13.20" height="1" fill="#ddebe8"/>
<rect x="162.86" y="98" width="13.20" height="1" fill="#eaefd4"/>
<rect x="57.75" y="99" width="13.20" height="1" fill="#fdbf7a"/>
<rect x="70.89" y="99" width="13.20" height="1" fill="#fbd595"/>
<rect x="84.03" y="99" width="13.20" height="1" fill="#f8efbc"/>
<rect x="97.17" y="99" width="13.20" height="1" fill="#f1784c"/>
<rect x="110.31" y="99" width="13.20" height="1" fill="#f88f5a"/>
<rect x="123.44" y="99" width="13.20" height="1" fill="#dde3cf"/>
<rect x="136.58" y="99" width="13.20" height="1" fill="#dbeaeb"/>
<rect x="149.72" y="99" width="13.20" height="1" fill="#e4eddc"/>
<rect x="162.86" y="99" width="13.20" height="1" fill="#eef3d2"/>
<rect x="57.75" y="100" width="13.20" height="1" fill="#fddf99"/>
<rect x="70.89" y="100" width="13.20" height="1" fill="#faf1bb"/>
<rect x="84.03" y="100" width="13.20" height="1" fill="#f9efbc"/>
<rect x="97.17" y="100" width="13.20" height="1" fill="#f79159"/>
<rect x="110.31" y="100" width="13.20" height="1" fill="#f99b5f"/>
<rect x="123.44" y="100" width="13.20" height="1" fill="#bad2de"/>
<rect x="136.58" y="100" width="13.20" height="1" fill="#d7e7e9"/>
<rect x="149.72" y="100" width="13.20" height="1" fill="#e8eed8"/>
<rect x="162.86" y="100" width="13.20" height="1" fill="#dce9e0"/>
<rect x="57.75" y="101" width="13.20" height="1" fill="#fdce84"/>
<rect x="70.89" y="101" width="13.20" height="1" fill="#fdeeaf"/>
<rect x="84.03" y="101" width="13.20" height="1" fill="#fde8a8"/>
<rect x="97.17" y="101" width="13.20" height="1" fill="#ef6b45"/>
<rect x="110.31" y="101" width="13.20" height="1" fill="#f37e50"/>
<rect x="123.44" y="101" width="13.20" height="1" fill="#e1e7d2"/>
<rect x="136.58" y="101" width="13.20" height="1" fill="#f2f3ce"/>
<rect x="149.72" y="101" width="13.20" height="1" fill="#f3f2cd"/>
<rect x="162.86" y="101" width="13.20" height="1" fill="#f0f4d6"/>
<rect x="57.75" y="102" width="13.20" height="1" fill="#fcbe78"/>
<rect x="70.89" y="102" width="13.20" height="1" fill="#fce3a3"/>
<rect x="84.03" y="102" width="13.20" height="1" fill="#fdf3b8"/>
<rect x="97.17" y="102" width="13.20" height="1" fill="#ec6140"/>
<rect x="110.31" y="102" width="13.20" height="1" fill="#f3794c"/>
<rect x="123.44" y="102" width="13.20" height="1" fill="#ecf0d3"/>
<rect x="136.58" y="102" width="13.20" height="1" fill="#f1efc6"/>
<rect x="149.72" y="102" width="13.20" height="1" fill="#faf3bf"/>
<rect x="162.86" y="102" width="13.20" height="1" fill="#f0f4d4"/>
<rect x="57.75" y="103" width="13.20" height="1" fill="#fdc47d"/>
<rect x="70.89" y="103" width="13.20" height="1" fill="#f4f1c9"/>
<rect x="84.03" y="103" width="13.20" height="1" fill="#f8f3c2"/>
<rect x="97.17" y="103" width="13.20" height="1" fill="#f1754a"/>
<rect x="110.31" y="103" width="13.20" height="1" fill="#f68754"/>
<rect x="123.44" y="103" width="13.20" height="1" fill="#f8f3c2"/>
<rect x="136.58" y="103" width="13.20" height="1" fill="#efecc7"/>
<rect x="149.72" y="103" width="13.20" height="1" fill="#eff3d6"/>
<rect x="162.86" y="103" width="13.20" height="1" fill="#e8efd3"/>
<rect x="57.75" y="104" width="13.20" height="1" fill="#fdcf88"/>
<rect x="70.89" y="104" width="13.20" height="1" fill="#f8f1c1"/>
<rect x="84.03" y="104" width="13.20" height="1" fill="#faf5c0"/>
<rect x="97.17" y="104" width="13.20" height="1" fill="#e75a3d"/>
<rect x="110.31" y="104" width="13.20" height="1" fill="#ef6c46"/>
<rect x="123.44" y="104" width="13.20" height="1" fill="#e4eee5"/>
<rect x="136.58" y="104" width="13.20" height="1" fill="#e6eede"/>
<rect x="149.72" y="104" width="13.20" height="1" fill="#dae9e8"/>
<rect x="162.86" y="104" width="13.20" height="1" fill="#d6e6e4"/>
<rect x="57.75" y="105" width="13.20" height="1" fill="#faa96e"/>
<rect x="70.89" y="105" width="13.20" height="1" fill="#fcc987"/>
<rect x="84.03" y="105" width="13.20" height="1" fill="#fbf0b8"/>
<rect x="97.17" y="105" width="13.20" height="1" fill="#ee8b5e"/>
<rect x="110.31" y="105" width="13.20" height="1" fill="#f17e50"/>
<rect x="123.44" y="105" width="13.20" height="1" fill="#dbeaed"/>
<rect x="136.58" y="105" width="13.20" height="1" fill="#e7efde"/>
<rect x="149.72" y="105" width="13.20" height="1" fill="#e1eee9"/>
<rect x="162.86" y="105" width="13.20" height="1" fill="#eaf1d8"/>
<rect x="57.75" y="106" width="13.20" height="1" fill="#fba767"/>
<rect x="70.89" y="106" width="13.20" height="1" fill="#fdc179"/>
<rect x="84.03" y="106" width="13.20" height="1" fill="#f5edc0"/>
<rect x="97.17" y="106" width="13.20" height="1" fill="#fcc57e"/>
<rect x="110.31" y="106" width="13.20" height="1" fill="#fbb874"/>
<rect x="123.44" y="106" width="13.20" height="1" fill="#c3dae8"/>
<rect x="136.58" y="106" width="13.20" height="1" fill="#d7e7e8"/>
<rect x="149.72" y="106" width="13.20" height="1" fill="#e4efe5"/>
<rect x="162.86" y="106" width="13.20" height="1" fill="#dceae5"/>
<rect x="57.75" y="107" width="13.20" height="1" fill="#fcac69"/>
<rect x="70.89" y="107" width="13.20" height="1" fill="#fece84"/>
<rect x="84.03" y="107" width="13.20" height="1" fill="#f4f5d0"/>
<rect x="97.17" y="107" width="13.20" height="1" fill="#fdd891"/>
<rect x="110.31" y="107" width="13.20" height="1" fill="#fba866"/>
<rect x="123.44" y="107" width="13.20" height="1" fill="#c3dae8"/>
<rect x="136.58" y="107" width="13.20" height="1" fill="#d4e5ea"/>
<rect x="149.72" y="107" width="13.20" height="1" fill="#e7f0e1"/>
<rect x="162.86" y="107" width="13.20" height="1" fill="#e0ede3"/>
<rect x="57.75" y="108" width="13.20" height="1" fill="#fa995d"/>
<rect x="70.89" y="108" width="13.20" height="1" fill="#fdc57d"/>
<rect x="84.03" y="108" width="13.20" height="1" fill="#f3f6d1"/>
<rect x="97.17" y="108" width="13.20" height="1" fill="#fcb973"/>
<rect x="110.31" y="108" width="13.20" height="1" fill="#fcb873"/>
<rect x="123.44" y="108" width="13.20" height="1" fill="#d5e6ed"/>
<rect x="136.58" y="108" width="13.20" height="1" fill="#e6f0e0"/>
<rect x="149.72" y="108" width="13.20" height="1" fill="#f3f3ce"/>
<rect x="162.86" y="108" width="13.20" height="1" fill="#d7e6e5"/>
<rect x="57.75" y="109" width="13.20" height="1" fill="#f99159"/>
<rect x="70.89" y="109" width="13.20" height="1" fill="#faa668"/>
<rect x="84.03" y="109" width="13.20" height="1" fill="#f0f4d3"/>
<rect x="97.17" y="109" width="13.20" height="1" fill="#fdc47c"/>
<rect x="110.31" y="109" width="13.20" height="1" fill="#fcc27e"/>
<rect x="123.44" y="109" width="13.20" height="1" fill="#d1e3ec"/>
<rect x="136.58" y="109" width="13.20" height="1" fill="#e1ede3"/>
<rect x="149.72" y="109" width="13.20" height="1" fill="#eff3d6"/>
<rect x="162.86" y="109" width="13.20" height="1" fill="#cadfe9"/>
<rect x="57.75" y="110" width="13.20" height="1" fill="#fba565"/>
<rect x="70.89" y="110" width="13.20" height="1" fill="#fcb470"/>
<rect x="84.03" y="110" width="13.20" height="1" fill="#e9f1e0"/>
<rect x="97.17" y="110" width="13.20" height="1" fill="#fed48d"/>
<rect x="110.31" y="110" width="13.20" height="1" fill="#fccd8c"/>
<rect x="123.44" y="110" width="13.20" height="1" fill="#d1e3eb"/>
<rect x="136.58" y="110" width="13.20" height="1" fill="#dae9e7"/>
<rect x="149.72" y="110" width="13.20" height="1" fill="#ebf0db"/>
<rect x="162.86" y="110" width="13.20" height="1" fill="#c5dbe8"/>
<rect x="57.75" y="111" width="13.20" height="1" fill="#fa9d5f"/>
<rect x="70.89" y="111" width="13.20" height="1" fill="#fbaf6e"/>
<rect x="84.03" y="111" width="13.20" height="1" fill="#e6efe2"/>
<rect x="97.17" y="111" width="13.20" height="1" fill="#fdbb73"/>
<rect x="110.31" y="111" width="13.20" height="1" fill="#fdba73"/>
<rect x="123.44" y="111" width="13.20" height="1" fill="#d7e8ed"/>
<rect x="136.58" y="111" width="13.20" height="1" fill="#e4efe4"/>
<rect x="149.72" y="111" width="13.20" height="1" fill="#f8f5c5"/>
<rect x="162.86" y="111" width="13.20" height="1" fill="#c9dee9"/>
<rect x="57.75" y="112" width="13.20" height="1" fill="#fa9e60"/>
<rect x="70.89" y="112" width="13.20" height="1" fill="#fdb972"/>
<rect x="84.03" y="112" width="13.20" height="1" fill="#e4eee2"/>
<rect x="97.17" y="112" width="13.20" height="1" fill="#fdc279"/>
<rect x="110.31" y="112" width="13.20" height="1" fill="#fdbd75"/>
<rect x="123.44" y="112" width="13.20" height="1" fill="#d9e8e9"/>
<rect x="136.58" y="112" width="13.20" height="1" fill="#ebf3d9"/>
<rect x="149.72" y="112" width="13.20" height="1" fill="#f9f9c8"/>
<rect x="162.86" y="112" width="13.20" height="1" fill="#cce0e9"/>
<rect x="57.75" y="113" width="13.20" height="1" fill="#fba261"/>
<rect x="70.89" y="113" width="13.20" height="1" fill="#fcaa67"/>
<rect x="84.03" y="113" width="13.20" height="1" fill="#f8f4c4"/>
<rect x="97.17" y="113" width="13.20" height="1" fill="#fcb570"/>
<rect x="110.31" y="113" width="13.20" height="1" fill="#fcb06b"/>
<rect x="123.44" y="113" width="13.20" height="1" fill="#e5f0e3"/>
<rect x="136.58" y="113" width="13.20" height="1" fill="#edf3da"/>
<rect x="149.72" y="113" width="13.20" height="1" fill="#e8f1e2"/>
<rect x="162.86" y="113" width="13.20" height="1" fill="#e3efe1"/>
<rect x="57.75" y="114" width="13.20" height="1" fill="#f9955a"/>
<rect x="70.89" y="114" width="13.20" height="1" fill="#fcab68"/>
<rect x="84.03" y="114" width="13.20" height="1" fill="#eef4db"/>
<rect x="97.17" y="114" width="13.20" height="1" fill="#f9975c"/>
<rect x="110.31" y="114" width="13.20" height="1" fill="#fcb06c"/>
<rect x="123.44" y="114" width="13.20" height="1" fill="#dcebed"/>
<rect x="136.58" y="114" width="13.20" height="1" fill="#eef5db"/>
<rect x="149.72" y="114" width="13.20" height="1" fill="#f6f7cc"/>
<rect x="162.86" y="114" width="13.20" height="1" fill="#f3f7d2"/>
<rect x="57.75" y="115" width="13.20" height="1" fill="#f78b56"/>
<rect x="70.89" y="115" width="13.20" height="1" fill="#f9975d"/>
<rect x="84.03" y="115" width="13.20" height="1" fill="#edf2d4"/>
<rect x="97.17" y="115" width="13.20" height="1" fill="#f9965c"/>
<rect x="110.31" y="115" width="13.20" height="1" fill="#fcb06c"/>
<rect x="123.44" y="115" width="13.20" height="1" fill="#d4e5ec"/>
<rect x="136.58" y="115" width="13.20" height="1" fill="#d8e8e7"/>
<rect x="149.72" y="115" width="13.20" height="1" fill="#e2ebd8"/>
<rect x="162.86" y="115" width="13.20" height="1" fill="#f2efc4"/>
<rect x="57.75" y="116" width="13.20" height="1" fill="#fba665"/>
<rect x="70.89" y="116" width="13.20" height="1" fill="#f9975c"/>
<rect x="84.03" y="116" width="13.20" height="1" fill="#d6e6e6"/>
<rect x="97.17" y="116" width="13.20" height="1" fill="#fcb16c"/>
<rect x="110.31" y="116" width="13.20" height="1" fill="#fcb06a"/>
<rect x="123.44" y="116" width="13.20" height="1" fill="#c9dee9"/>
<rect x="136.58" y="116" width="13.20" height="1" fill="#c6dce8"/>
<rect x="149.72" y="116" width="13.20" height="1" fill="#d1e3e5"/>
<rect x="162.86" y="116" width="13.20" height="1" fill="#f0f3d2"/>
<rect x="57.75" y="117" width="13.20" height="1" fill="#fbaa69"/>
<rect x="70.89" y="117" width="13.20" height="1" fill="#f78955"/>
<rect x="84.03" y="117" width="13.20" height="1" fill="#d3e4e7"/>
<rect x="97.17" y="117" width="13.20" height="1" fill="#fba663"/>
<rect x="110.31" y="117" width="13.20" height="1" fill="#fcac67"/>
<rect x="123.44" y="117" width="13.20" height="1" fill="#cee1eb"/>
<rect x="136.58" y="117" width="13.20" height="1" fill="#c9dee9"/>
<rect x="149.72" y="117" width="13.20" height="1" fill="#d0e2e7"/>
<rect x="162.86" y="117" width="13.20" height="1" fill="#fbf5bd"/>
<rect x="57.75" y="118" width="13.20" height="1" fill="#f99159"/>
<rect x="70.89" y="118" width="13.20" height="1" fill="#fba665"/>
<rect x="84.03" y="118" width="13.20" height="1" fill="#e6f0da"/>
<rect x="97.17" y="118" width="13.20" height="1" fill="#fba060"/>
<rect x="110.31" y="118" width="13.20" height="1" fill="#fba161"/>
<rect x="123.44" y="118" width="13.20" height="1" fill="#d7e8ed"/>
<rect x="136.58" y="118" width="13.20" height="1" fill="#cadee9"/>
<rect x="149.72" y="118" width="13.20" height="1" fill="#cbdfea"/>
<rect x="162.86" y="118" width="13.20" height="1" fill="#faf7c4"/>
<rect x="57.75" y="119" width="13.20" height="1" fill="#f88e57"/>
<rect x="70.89" y="119" width="13.20" height="1" fill="#f99159"/>
<rect x="84.03" y="119" width="13.20" height="1" fill="#e1ecdd"/>
<rect x="97.17" y="119" width="13.20" height="1" fill="#fba261"/>
<rect x="110.31" y="119" width="13.20" height="1" fill="#fdb36c"/>
<rect x="123.44" y="119" width="13.20" height="1" fill="#cde1ea"/>
<rect x="136.58" y="119" width="13.20" height="1" fill="#cde0ea"/>
<rect x="149.72" y="119" width="13.20" height="1" fill="#d4e6ed"/>
<rect x="162.86" y="119" width="13.20" height="1" fill="#f7f7cc"/>
<rect x="57.75" y="120" width="13.20" height="1" fill="#fa9d5f"/>
<rect x="70.89" y="120" width="13.20" height="1" fill="#f88d57"/>
<rect x="84.03" y="120" width="13.20" height="1" fill="#e1ece2"/>
<rect x="97.17" y="120" width="13.20" height="1" fill="#fa995d"/>
<rect x="110.31" y="120" width="13.20" height="1" fill="#fcb570"/>
<rect x="123.44" y="120" width="13.20" height="1" fill="#c6dbe7"/>
<rect x="136.58" y="120" width="13.20" height="1" fill="#c2d9e7"/>
<rect x="149.72" y="120" width="13.20" height="1" fill="#d0e3ea"/>
<rect x="162.86" y="120" width="13.20" height="1" fill="#f1f4d0"/>
<rect x="57.75" y="121" width="13.20" height="1" fill="#f78653"/>
<rect x="70.89" y="121" width="13.20" height="1" fill="#fba262"/>
<rect x="84.03" y="121" width="13.20" height="1" fill="#e6f0e0"/>
<rect x="97.17" y="121" width="13.20" height="1" fill="#fcaf6b"/>
<rect x="110.31" y="121" width="13.20" height="1" fill="#fcaf6b"/>
<rect x="123.44" y="121" width="13.20" height="1" fill="#dbe8dd"/>
<rect x="136.58" y="121" width="13.20" height="1" fill="#c5dbe7"/>
<rect x="149.72" y="121" width="13.20" height="1" fill="#e4ecdf"/>
<rect x="162.86" y="121" width="13.20" height="1" fill="#eaedcb"/>
<rect x="57.75" y="122" width="13.20" height="1" fill="#f4764b"/>
<rect x="70.89" y="122" width="13.20" height="1" fill="#fa9e61"/>
<rect x="84.03" y="122" width="13.20" height="1" fill="#ebf1d8"/>
<rect x="97.17" y="122" width="13.20" height="1" fill="#fba866"/>
<rect x="110.31" y="122" width="13.20" height="1" fill="#fba96a"/>
<rect x="123.44" y="122" width="13.20" height="1" fill="#e4edd8"/>
<rect x="136.58" y="122" width="13.20" height="1" fill="#dae9e4"/>
<rect x="149.72" y="122" width="13.20" height="1" fill="#ebeed4"/>
<rect x="162.86" y="122" width="13.20" height="1" fill="#e9efd5"/>
<rect x="57.75" y="123" width="13.20" height="1" fill="#f9945a"/>
<rect x="70.89" y="123" width="13.20" height="1" fill="#fdbe77"/>
<rect x="84.03" y="123" width="13.20" height="1" fill="#e9f2e2"/>
<rect x="97.17" y="123" width="13.20" height="1" fill="#fcaf6a"/>
<rect x="110.31" y="123" width="13.20" height="1" fill="#fcb671"/>
<rect x="123.44" y="123" width="13.20" height="1" fill="#d7e7e4"/>
<rect x="136.58" y="123" width="13.20" height="1" fill="#d2e4eb"/>
<rect x="149.72" y="123" width="13.20" height="1" fill="#dce9e5"/>
<rect x="162.86" y="123" width="13.20" height="1" fill="#dceae8"/>
<rect x="57.75" y="124" width="13.20" height="1" fill="#fbab6a"/>
<rect x="70.89" y="124" width="13.20" height="1" fill="#fed88f"/>
<rect x="84.03" y="124" width="13.20" height="1" fill="#e1ede7"/>
<rect x="97.17" y="124" width="13.20" height="1" fill="#fdc17a"/>
<rect x="110.31" y="124" width="13.20" height="1" fill="#fba665"/>
<rect x="123.44" y="124" width="13.20" height="1" fill="#c1d9e6"/>
<rect x="136.58" y="124" width="13.20" height="1" fill="#c8dde8"/>
<rect x="149.72" y="124" width="13.20" height="1" fill="#d9e8ea"/>
<rect x="162.86" y="124" width="13.20" height="1" fill="#cadfe9"/>
<rect x="57.75" y="125" width="13.20" height="1" fill="#fdc178"/>
<rect x="70.89" y="125" width="13.20" height="1" fill="#fcbc79"/>
<rect x="84.03" y="125" width="13.20" height="1" fill="#e1e6d2"/>
<rect x="97.17" y="125" width="13.20" height="1" fill="#faa86a"/>
<rect x="110.31" y="125" width="13.20" height="1" fill="#fdbb73"/>
<rect x="123.44" y="125" width="13.20" height="1" fill="#bbd4e5"/>
<rect x="136.58" y="125" width="13.20" height="1" fill="#dceae3"/>
<rect x="149.72" y="125" width="13.20" height="1" fill="#e7f0d9"/>
<rect x="162.86" y="125" width="13.20" height="1" fill="#d3e5ec"/>
<rect x="57.75" y="126" width="13.20" height="1" fill="#fdca80"/>
<rect x="70.89" y="126" width="13.20" height="1" fill="#fdba73"/>
<rect x="84.03" y="126" width="13.20" height="1" fill="#fbe9ab"/>
<rect x="97.17" y="126" width="13.20" height="1" fill="#fa9f62"/>
<rect x="110.31" y="126" width="13.20" height="1" fill="#fec67c"/>
<rect x="123.44" y="126" width="13.20" height="1" fill="#afcce2"/>
<rect x="136.58" y="126" width="13.20" height="1" fill="#e5efdf"/>
<rect x="149.72" y="126" width="13.20" height="1" fill="#eaf2e1"/>
<rect x="162.86" y="126" width="13.20" height="1" fill="#cee1eb"/>
<rect x="57.75" y="127" width="13.20" height="1" fill="#fdbd75"/>
<rect x="70.89" y="127" width="13.20" height="1" fill="#fdb872"/>
<rect x="84.03" y="127" width="13.20" height="1" fill="#fee7a2"/>
<rect x="97.17" y="127" width="13.20" height="1" fill="#fba161"/>
<rect x="110.31" y="127" width="13.20" height="1" fill="#fdba71"/>
<rect x="123.44" y="127" width="13.20" height="1" fill="#b7d1e4"/>
<rect x="136.58" y="127" width="13.20" height="1" fill="#eef4dc"/>
<rect x="149.72" y="127" width="13.20" height="1" fill="#f5f7d0"/>
<rect x="162.86" y="127" width="13.20" height="1" fill="#cfe2ea"/>
<rect x="57.75" y="128" width="13.20" height="1" fill="#faab6a"/>
<rect x="70.89" y="128" width="13.20" height="1" fill="#fcac69"/>
<rect x="84.03" y="128" width="13.20" height="1" fill="#fed28a"/>
<rect x="97.17" y="128" width="13.20" height="1" fill="#f88f58"/>
<rect x="110.31" y="128" width="13.20" height="1" fill="#fcb06c"/>
<rect x="123.44" y="128" width="13.20" height="1" fill="#c8dde9"/>
<rect x="136.58" y="128" width="13.20" height="1" fill="#edf4df"/>
<rect x="149.72" y="128" width="13.20" height="1" fill="#fdf2b7"/>
<rect x="162.86" y="128" width="13.20" height="1" fill="#ddebe4"/>
<rect x="57.75" y="129" width="13.20" height="1" fill="#f89e62"/>
<rect x="70.89" y="129" width="13.20" height="1" fill="#fcaf6b"/>
<rect x="84.03" y="129" width="13.20" height="1" fill="#fed78d"/>
<rect x="97.17" y="129" width="13.20" height="1" fill="#faa666"/>
<rect x="110.31" y="129" width="13.20" height="1" fill="#fcaf6c"/>
<rect x="123.44" y="129" width="13.20" height="1" fill="#d3e4e8"/>
<rect x="136.58" y="129" width="13.20" height="1" fill="#eff5d8"/>
<rect x="149.72" y="129" width="13.20" height="1" fill="#fdf4b7"/>
<rect x="162.86" y="129" width="13.20" height="1" fill="#eef4d5"/>
<rect x="57.75" y="130" width="13.20" height="1" fill="#fbaa67"/>
<rect x="70.89" y="130" width="13.20" height="1" fill="#fcb46e"/>
<rect x="84.03" y="130" width="13.20" height="1" fill="#fedc92"/>
<rect x="97.17" y="130" width="13.20" height="1" fill="#fdc077"/>
<rect x="110.31" y="130" width="13.20" height="1" fill="#fcb16b"/>
<rect x="123.44" y="130" width="13.20" height="1" fill="#cce0ea"/>
<rect x="136.58" y="130" width="13.20" height="1" fill="#eff2ce"/>
<rect x="149.72" y="130" width="13.20" height="1" fill="#faf5c0"/>
<rect x="162.86" y="130" width="13.20" height="1" fill="#f2f5d2"/>
<rect x="57.75" y="131" width="13.20" height="1" fill="#fdcc82"/>
<rect x="70.89" y="131" width="13.20" height="1" fill="#fed289"/>
<rect x="84.03" y="131" width="13.20" height="1" fill="#fee19c"/>
<rect x="97.17" y="131" width="13.20" height="1" fill="#fecb81"/>
<rect x="110.31" y="131" width="13.20" height="1" fill="#fdbc74"/>
<rect x="123.44" y="131" width="13.20" height="1" fill="#cadfea"/>
<rect x="136.58" y="131" width="13.20" height="1" fill="#e9f0da"/>
<rect x="149.72" y="131" width="13.20" height="1" fill="#e9f2df"/>
<rect x="162.86" y="131" width="13.20" height="1" fill="#f5f8d3"/>
<rect x="57.75" y="132" width="13.20" height="1" fill="#fdc078"/>
<rect x="70.89" y="132" width="13.20" height="1" fill="#fdc47b"/>
<rect x="84.03" y="132" width="13.20" height="1" fill="#feda93"/>
<rect x="97.17" y="132" width="13.20" height="1" fill="#fa9b5f"/>
<rect x="110.31" y="132" width="13.20" height="1" fill="#fece84"/>
<rect x="123.44" y="132" width="13.20" height="1" fill="#bad4e5"/>
<rect x="136.58" y="132" width="13.20" height="1" fill="#eff0ca"/>
<rect x="149.72" y="132" width="13.20" height="1" fill="#eaf1dc"/>
<rect x="162.86" y="132" width="13.20" height="1" fill="#eaf3e1"/>
<rect x="57.75" y="133" width="13.20" height="1" fill="#fcbe77"/>
<rect x="70.89" y="133" width="13.20" height="1" fill="#fa9c5f"/>
<rect x="84.03" y="133" width="13.20" height="1" fill="#feda91"/>
<rect x="97.17" y="133" width="13.20" height="1" fill="#f58150"/>
<rect x="110.31" y="133" width="13.20" height="1" fill="#fed389"/>
<rect x="123.44" y="133" width="13.20" height="1" fill="#c7dce9"/>
<rect x="136.58" y="133" width="13.20" height="1" fill="#faf3bc"/>
<rect x="149.72" y="133" width="13.20" height="1" fill="#eaf0d9"/>
<rect x="162.86" y="133" width="13.20" height="1" fill="#e9f1d8"/>
<rect x="57.75" y="134" width="13.20" height="1" fill="#fdba73"/>
<rect x="70.89" y="134" width="13.20" height="1" fill="#fa985d"/>
<rect x="84.03" y="134" width="13.20" height="1" fill="#fdce86"/>
<rect x="97.17" y="134" width="13.20" height="1" fill="#faa161"/>
<rect x="110.31" y="134" width="13.20" height="1" fill="#fede95"/>
<rect x="123.44" y="134" width="13.20" height="1" fill="#c2d9e8"/>
<rect x="136.58" y="134" width="13.20" height="1" fill="#e9efd9"/>
<rect x="149.72" y="134" width="13.20" height="1" fill="#f4f5ce"/>
<rect x="162.86" y="134" width="13.20" height="1" fill="#edf1d6"/>
<rect x="57.75" y="135" width="13.20" height="1" fill="#fcc983"/>
<rect x="70.89" y="135" width="13.20" height="1" fill="#fdb76f"/>
<rect x="84.03" y="135" width="13.20" height="1" fill="#fedd97"/>
<rect x="97.17" y="135" width="13.20" height="1" fill="#fdb46d"/>
<rect x="110.31" y="135" width="13.20" height="1" fill="#fedf96"/>
<rect x="123.44" y="135" width="13.20" height="1" fill="#d0e2e6"/>
<rect x="136.58" y="135" width="13.20" height="1" fill="#dceae6"/>
<rect x="149.72" y="135" width="13.20" height="1" fill="#ecf2da"/>
<rect x="162.86" y="135" width="13.20" height="1" fill="#e9f1de"/>
<rect x="57.75" y="136" width="13.20" height="1" fill="#f38454"/>
<rect x="70.89" y="136" width="13.20" height="1" fill="#fdba72"/>
<rect x="84.03" y="136" width="13.20" height="1" fill="#fed187"/>
<rect x="97.17" y="136" width="13.20" height="1" fill="#fdbb73"/>
<rect x="110.31" y="136" width="13.20" height="1" fill="#fdc57e"/>
<rect x="123.44" y="136" width="13.20" height="1" fill="#f0f2d0"/>
<rect x="136.58" y="136" width="13.20" height="1" fill="#f1f5d5"/>
<rect x="149.72" y="136" width="13.20" height="1" fill="#f2efc9"/>
<rect x="162.86" y="136" width="13.20" height="1" fill="#efecca"/>
<rect x="57.75" y="137" width="13.20" height="1" fill="#f7925f"/>
<rect x="70.89" y="137" width="13.20" height="1" fill="#fcb06d"/>
<rect x="84.03" y="137" width="13.20" height="1" fill="#fdd48d"/>
<rect x="97.17" y="137" width="13.20" height="1" fill="#fa9d60"/>
<rect x="110.31" y="137" width="13.20" height="1" fill="#faa464"/>
<rect x="123.44" y="137" width="13.20" height="1" fill="#f2f2cc"/>
<rect x="136.58" y="137" width="13.20" height="1" fill="#e7efdd"/>
<rect x="149.72" y="137" width="13.20" height="1" fill="#ebedd1"/>
<rect x="162.86" y="137" width="13.20" height="1" fill="#f1f1cc"/>
<rect x="57.75" y="138" width="13.20" height="1" fill="#fcc380"/>
<rect x="70.89" y="138" width="13.20" height="1" fill="#fdc980"/>
<rect x="84.03" y="138" width="13.20" height="1" fill="#fed991"/>
<rect x="97.17" y="138" width="13.20" height="1" fill="#fcbf7c"/>
<rect x="110.31" y="138" width="13.20" height="1" fill="#fcbd77"/>
<rect x="123.44" y="138" width="13.20" height="1" fill="#e7eed6"/>
<rect x="136.58" y="138" width="13.20" height="1" fill="#deebe6"/>
<rect x="149.72" y="138" width="13.20" height="1" fill="#ede4c3"/>
<rect x="162.86" y="138" width="13.20" height="1" fill="#eaedd2"/>
</g>
<text transform="translate(48.8,36.9) scale(1,1.05) scale(0.1)" font-size="60.0" text-anchor="end" >CTLA4</text>
<line x1="50.5" y1="35.5" x2="57.5" y2="42" stroke="#333" stroke-width="0.65"/>
<text transform="translate(48.8,59.3) scale(1,1.05) scale(0.1)" font-size="60.0" text-anchor="end" >BCL2</text>
<line x1="50.5" y1="58" x2="57.5" y2="49.5" stroke="#333" stroke-width="0.65"/>
<text transform="translate(48.8,76.7) scale(1,1.05) scale(0.1)" font-size="60.0" text-anchor="end" >LEF1</text>
<line x1="50.5" y1="74.5" x2="57.5" y2="67.8" stroke="#333" stroke-width="0.65"/>
<text transform="translate(48.8,89.5) scale(1,1.05) scale(0.1)" font-size="60.0" text-anchor="end" >IL6</text>
<line x1="50.7" y1="86" x2="57.9" y2="80.6" stroke="#333" stroke-width="0.65"/>
<text transform="translate(48.8,96.2) scale(1,1.05) scale(0.1)" font-size="60.0" text-anchor="end" >MEF2B</text>
<line x1="50.7" y1="93.2" x2="57.9" y2="87.5" stroke="#333" stroke-width="0.65"/>
<text transform="translate(48.8,117.5) scale(1,1.05) scale(0.1)" font-size="60.0" text-anchor="end" >BCL7A</text>
<line x1="50.7" y1="113.9" x2="57.9" y2="108.2" stroke="#333" stroke-width="0.65"/>
<text transform="translate(16.7,69.4) rotate(-90) scale(0.1)" font-size="62.5" text-anchor="middle">Differentially regulated super-</text>
<text transform="translate(24.2,71.6) rotate(-90) scale(0.1)" font-size="56.0" text-anchor="middle">enhancers (<tspan font-style="italic">n</tspan> = 297)</text>
<text transform="translate(65.22,146.8) rotate(-45) scale(0.1)" font-size="60" text-anchor="end">nb_1</text>
<text transform="translate(78.36,146.8) rotate(-45) scale(0.1)" font-size="60" text-anchor="end">nb_2</text>
<text transform="translate(91.50,146.8) rotate(-45) scale(0.1)" font-size="60" text-anchor="end">cd20_1</text>
<text transform="translate(104.64,146.8) rotate(-45) scale(0.1)" font-size="60" text-anchor="end">gcb_1</text>
<text transform="translate(117.78,146.8) rotate(-45) scale(0.1)" font-size="60" text-anchor="end">gcb_2</text>
<text transform="translate(130.91,146.8) rotate(-45) scale(0.1)" font-size="60" text-anchor="end">cll_6</text>
<text transform="translate(144.05,146.8) rotate(-45) scale(0.1)" font-size="60" text-anchor="end">cll_7</text>
<text transform="translate(157.19,146.8) rotate(-45) scale(0.1)" font-size="60" text-anchor="end">cll_3</text>
<text transform="translate(170.33,146.8) rotate(-45) scale(0.1)" font-size="60" text-anchor="end">cll_8</text>
<path d="M252.7 117.7h1v1h-1zM275.4 121.4h1v1h-1zM247.4 115.2h1v1h-1zM277.2 116.9h1v1h-1zM278.3 117.8h1v1h-1zM274.0 119.6h1v1h-1zM242.2 102.8h1v1h-1zM255.7 121.0h1v1h-1zM272.0 123.6h1v1h-1zM259.4 123.4h1v1h-1zM288.8 95.0h1v1h-1zM292.6 97.2h1v1h-1zM262.1 124.9h1v1h-1zM281.6 106.2h1v1h-1zM264.3 126.5h1v1h-1zM258.0 124.1h1v1h-1zM266.7 126.0h1v1h-1zM261.8 124.5h1v1h-1zM249.4 111.7h1v1h-1zM249.6 108.4h1v1h-1zM266.6 126.3h1v1h-1zM280.2 113.2h1v1h-1zM281.2 103.5h1v1h-1zM290.6 89.3h1v1h-1zM256.3 121.6h1v1h-1zM259.2 122.4h1v1h-1zM275.5 118.6h1v1h-1zM245.3 110.0h1v1h-1zM270.5 123.2h1v1h-1zM261.9 125.0h1v1h-1zM278.6 114.4h1v1h-1zM284.1 113.1h1v1h-1zM280.8 118.0h1v1h-1zM283.7 106.9h1v1h-1zM275.3 119.8h1v1h-1zM261.3 123.5h1v1h-1zM280.4 118.1h1v1h-1zM275.4 122.1h1v1h-1zM282.0 103.1h1v1h-1zM276.5 120.2h1v1h-1zM255.7 122.1h1v1h-1zM255.1 119.1h1v1h-1zM240.2 77.6h1v1h-1zM235.5 84.9h1v1h-1zM263.4 126.0h1v1h-1zM235.3 95.1h1v1h-1zM274.3 116.0h1v1h-1zM250.8 113.0h1v1h-1zM250.6 115.8h1v1h-1zM250.8 114.8h1v1h-1zM289.7 98.6h1v1h-1zM240.9 111.6h1v1h-1zM286.2 107.9h1v1h-1zM253.0 117.0h1v1h-1zM246.8 114.0h1v1h-1zM278.0 113.6h1v1h-1zM252.0 107.1h1v1h-1zM286.6 111.0h1v1h-1zM269.3 124.8h1v1h-1zM263.1 125.6h1v1h-1zM258.3 122.4h1v1h-1zM271.0 123.9h1v1h-1zM276.4 117.0h1v1h-1zM287.8 104.5h1v1h-1zM247.4 110.3h1v1h-1zM281.5 116.7h1v1h-1zM262.1 125.7h1v1h-1zM274.8 121.0h1v1h-1zM262.1 125.2h1v1h-1zM259.2 123.8h1v1h-1zM268.6 124.2h1v1h-1zM275.7 121.2h1v1h-1zM277.6 114.2h1v1h-1zM255.0 122.2h1v1h-1zM252.5 117.1h1v1h-1zM267.4 126.0h1v1h-1zM249.0 104.4h1v1h-1zM277.8 113.5h1v1h-1zM256.9 122.9h1v1h-1zM247.8 116.0h1v1h-1zM239.6 100.1h1v1h-1zM272.3 122.4h1v1h-1zM269.9 123.4h1v1h-1zM277.1 119.1h1v1h-1zM272.6 123.7h1v1h-1zM272.6 123.2h1v1h-1zM236.9 99.5h1v1h-1zM244.5 93.7h1v1h-1zM271.2 124.1h1v1h-1zM270.9 124.6h1v1h-1zM248.8 117.1h1v1h-1zM274.8 121.7h1v1h-1zM239.7 77.7h1v1h-1zM244.4 104.8h1v1h-1zM255.5 122.2h1v1h-1zM268.3 124.8h1v1h-1zM293.8 71.5h1v1h-1zM263.9 126.4h1v1h-1zM258.4 121.2h1v1h-1zM292.0 106.8h1v1h-1zM245.4 110.6h1v1h-1zM269.3 124.9h1v1h-1zM258.7 122.7h1v1h-1zM295.2 66.4h1v1h-1zM286.6 114.0h1v1h-1zM269.2 125.2h1v1h-1zM284.8 106.2h1v1h-1zM258.5 123.3h1v1h-1zM249.1 117.8h1v1h-1zM280.5 118.6h1v1h-1zM292.9 105.1h1v1h-1zM244.8 103.4h1v1h-1zM274.3 123.0h1v1h-1zM262.0 125.6h1v1h-1zM267.3 125.8h1v1h-1zM257.2 117.8h1v1h-1zM237.6 79.2h1v1h-1zM251.7 114.4h1v1h-1zM268.8 124.1h1v1h-1zM271.5 123.6h1v1h-1zM236.5 103.6h1v1h-1zM278.5 119.0h1v1h-1zM266.0 126.7h1v1h-1zM279.9 115.3h1v1h-1zM242.7 104.3h1v1h-1zM287.9 106.4h1v1h-1zM244.7 112.1h1v1h-1zM244.0 114.0h1v1h-1zM278.0 119.8h1v1h-1zM243.7 112.8h1v1h-1zM293.0 106.5h1v1h-1zM292.9 91.7h1v1h-1zM249.0 115.0h1v1h-1zM264.1 126.1h1v1h-1zM251.8 118.3h1v1h-1zM255.6 120.0h1v1h-1zM257.6 123.9h1v1h-1zM257.8 123.1h1v1h-1zM239.6 86.1h1v1h-1zM248.5 116.7h1v1h-1zM273.5 122.5h1v1h-1zM257.6 122.5h1v1h-1zM291.3 90.1h1v1h-1zM290.4 76.0h1v1h-1zM245.9 112.2h1v1h-1zM255.4 119.4h1v1h-1zM283.4 104.5h1v1h-1zM277.3 117.5h1v1h-1zM274.0 122.6h1v1h-1zM275.4 120.6h1v1h-1zM238.5 107.7h1v1h-1zM246.3 97.9h1v1h-1zM276.4 118.1h1v1h-1zM278.7 114.1h1v1h-1zM260.0 124.5h1v1h-1zM275.1 122.2h1v1h-1zM274.9 120.7h1v1h-1zM269.0 125.3h1v1h-1zM269.4 124.8h1v1h-1zM296.3 90.5h1v1h-1zM260.0 120.9h1v1h-1zM264.2 126.7h1v1h-1zM282.8 114.9h1v1h-1zM289.5 94.6h1v1h-1zM258.8 123.9h1v1h-1zM272.7 122.9h1v1h-1zM261.5 124.1h1v1h-1zM278.9 114.8h1v1h-1zM234.9 99.5h1v1h-1zM244.0 107.5h1v1h-1zM279.1 117.7h1v1h-1zM246.7 113.0h1v1h-1zM278.3 118.7h1v1h-1zM247.7 116.2h1v1h-1zM265.8 126.6h1v1h-1zM245.7 90.0h1v1h-1zM279.9 118.3h1v1h-1zM280.8 112.9h1v1h-1zM267.7 125.9h1v1h-1zM281.7 114.3h1v1h-1zM273.7 119.6h1v1h-1zM270.4 123.1h1v1h-1zM266.7 126.3h1v1h-1zM269.7 123.8h1v1h-1zM282.6 106.7h1v1h-1zM282.4 110.8h1v1h-1zM277.8 118.4h1v1h-1zM278.6 119.4h1v1h-1zM288.5 108.1h1v1h-1zM242.7 111.6h1v1h-1zM274.1 121.9h1v1h-1zM280.2 116.0h1v1h-1zM259.7 124.3h1v1h-1zM275.2 119.6h1v1h-1zM258.5 107.2h1v1h-1zM279.0 114.9h1v1h-1zM234.9 90.7h1v1h-1zM279.0 119.6h1v1h-1zM288.2 98.2h1v1h-1zM271.2 123.6h1v1h-1zM247.1 116.1h1v1h-1zM283.3 112.2h1v1h-1zM260.4 125.3h1v1h-1zM236.9 106.6h1v1h-1zM234.8 101.8h1v1h-1zM272.2 122.5h1v1h-1zM258.2 123.1h1v1h-1zM238.8 100.7h1v1h-1zM276.0 119.7h1v1h-1zM245.7 112.8h1v1h-1zM256.4 122.9h1v1h-1zM284.9 112.4h1v1h-1zM282.5 116.7h1v1h-1zM242.5 109.1h1v1h-1zM262.5 126.1h1v1h-1zM287.6 96.1h1v1h-1zM279.7 105.8h1v1h-1zM243.5 105.9h1v1h-1zM260.9 124.4h1v1h-1zM253.1 115.8h1v1h-1zM262.0 125.3h1v1h-1zM247.4 108.7h1v1h-1zM281.4 117.2h1v1h-1zM289.1 99.1h1v1h-1zM277.2 119.9h1v1h-1zM287.9 103.9h1v1h-1zM285.5 111.1h1v1h-1zM273.5 121.4h1v1h-1zM257.1 120.8h1v1h-1zM265.7 126.7h1v1h-1zM279.9 116.4h1v1h-1zM242.2 100.3h1v1h-1zM258.7 124.1h1v1h-1zM256.0 122.5h1v1h-1zM236.4 95.6h1v1h-1zM240.4 109.4h1v1h-1zM253.9 114.1h1v1h-1zM270.7 124.0h1v1h-1zM256.7 121.8h1v1h-1zM259.2 122.4h1v1h-1zM248.1 113.1h1v1h-1zM256.6 119.7h1v1h-1zM266.7 126.4h1v1h-1zM244.9 114.7h1v1h-1zM269.0 124.6h1v1h-1zM282.0 115.3h1v1h-1zM285.5 114.6h1v1h-1zM275.1 119.3h1v1h-1zM269.6 125.0h1v1h-1zM254.7 120.3h1v1h-1zM284.1 114.1h1v1h-1zM269.9 122.5h1v1h-1zM265.4 126.8h1v1h-1zM279.8 117.7h1v1h-1zM272.7 117.9h1v1h-1zM256.8 122.5h1v1h-1zM279.9 118.0h1v1h-1zM240.2 93.7h1v1h-1zM272.4 123.4h1v1h-1zM284.6 114.9h1v1h-1zM286.8 107.8h1v1h-1zM251.0 118.2h1v1h-1zM288.2 108.9h1v1h-1zM256.0 117.5h1v1h-1zM254.8 122.0h1v1h-1zM282.8 116.3h1v1h-1zM284.4 113.7h1v1h-1zM241.7 99.3h1v1h-1zM247.4 116.2h1v1h-1zM263.5 126.2h1v1h-1zM257.0 120.7h1v1h-1zM239.4 108.5h1v1h-1zM247.7 114.8h1v1h-1zM248.9 108.5h1v1h-1zM276.4 119.8h1v1h-1zM280.5 110.4h1v1h-1zM247.8 110.3h1v1h-1zM246.8 112.4h1v1h-1zM245.9 97.1h1v1h-1zM291.5 92.8h1v1h-1zM271.8 123.9h1v1h-1zM290.6 103.1h1v1h-1zM274.9 120.7h1v1h-1zM246.1 113.2h1v1h-1zM257.7 121.8h1v1h-1zM235.0 104.8h1v1h-1zM261.6 124.7h1v1h-1zM279.6 113.9h1v1h-1zM251.1 116.9h1v1h-1zM268.6 124.5h1v1h-1zM244.3 98.7h1v1h-1zM256.8 123.2h1v1h-1zM261.3 125.2h1v1h-1zM249.8 118.7h1v1h-1zM272.9 120.7h1v1h-1zM286.7 108.4h1v1h-1zM249.0 116.7h1v1h-1zM251.4 115.7h1v1h-1zM267.8 124.9h1v1h-1zM268.7 123.8h1v1h-1zM289.6 99.7h1v1h-1zM251.6 118.8h1v1h-1zM269.1 125.4h1v1h-1zM232.1 99.9h1v1h-1zM282.2 116.2h1v1h-1zM276.4 118.8h1v1h-1zM274.1 117.1h1v1h-1zM234.3 43.2h1v1h-1zM284.5 114.3h1v1h-1zM292.4 107.7h1v1h-1zM267.6 125.4h1v1h-1zM263.6 125.9h1v1h-1zM283.4 115.5h1v1h-1zM255.7 121.0h1v1h-1zM292.2 103.1h1v1h-1zM267.9 125.0h1v1h-1zM269.7 125.1h1v1h-1zM272.6 121.2h1v1h-1zM244.3 106.0h1v1h-1zM283.3 114.7h1v1h-1zM254.1 116.8h1v1h-1zM271.4 124.1h1v1h-1zM238.0 104.3h1v1h-1zM236.8 107.5h1v1h-1zM248.0 116.9h1v1h-1zM241.5 107.6h1v1h-1zM271.8 123.7h1v1h-1zM285.0 105.8h1v1h-1zM288.4 109.5h1v1h-1zM289.0 84.2h1v1h-1zM281.5 115.0h1v1h-1zM257.1 122.2h1v1h-1zM250.1 118.6h1v1h-1zM270.1 124.7h1v1h-1zM268.5 124.9h1v1h-1zM244.0 105.3h1v1h-1zM240.6 102.3h1v1h-1zM275.6 117.6h1v1h-1zM244.6 113.0h1v1h-1zM286.1 106.6h1v1h-1zM276.0 117.1h1v1h-1zM256.3 118.0h1v1h-1zM287.2 90.1h1v1h-1zM293.7 104.1h1v1h-1zM247.4 108.2h1v1h-1zM281.7 117.8h1v1h-1zM275.6 121.8h1v1h-1zM272.9 118.4h1v1h-1zM253.4 118.3h1v1h-1zM284.1 115.5h1v1h-1zM257.6 122.2h1v1h-1zM273.9 123.0h1v1h-1zM246.9 112.2h1v1h-1zM272.9 122.3h1v1h-1zM272.6 122.7h1v1h-1zM260.7 124.7h1v1h-1zM273.9 122.9h1v1h-1zM250.7 117.6h1v1h-1zM266.7 126.5h1v1h-1zM239.1 102.4h1v1h-1zM287.2 111.0h1v1h-1zM261.3 123.5h1v1h-1zM268.4 125.1h1v1h-1zM255.3 122.4h1v1h-1zM273.4 122.4h1v1h-1zM274.1 121.9h1v1h-1zM288.3 105.5h1v1h-1zM283.6 104.0h1v1h-1zM245.5 110.4h1v1h-1zM277.0 116.2h1v1h-1zM265.4 126.9h1v1h-1zM267.3 125.5h1v1h-1zM247.4 112.5h1v1h-1zM272.6 122.1h1v1h-1zM276.0 114.1h1v1h-1zM280.1 117.4h1v1h-1zM247.4 114.6h1v1h-1zM289.6 92.0h1v1h-1zM267.6 125.8h1v1h-1zM281.9 109.5h1v1h-1zM260.9 125.5h1v1h-1zM273.2 121.2h1v1h-1zM250.6 118.8h1v1h-1zM280.9 100.0h1v1h-1zM275.9 96.5h1v1h-1zM280.7 109.3h1v1h-1zM264.4 126.5h1v1h-1zM247.0 105.2h1v1h-1zM256.2 121.2h1v1h-1zM283.3 106.3h1v1h-1zM293.7 95.6h1v1h-1zM238.5 106.5h1v1h-1zM268.2 124.6h1v1h-1zM276.0 121.3h1v1h-1zM265.7 111.5h1v1h-1zM270.1 124.5h1v1h-1zM281.6 115.2h1v1h-1zM263.7 126.5h1v1h-1zM266.7 126.1h1v1h-1zM235.5 90.2h1v1h-1zM286.2 113.8h1v1h-1zM271.2 123.1h1v1h-1zM262.4 125.6h1v1h-1zM272.2 123.8h1v1h-1zM294.1 94.9h1v1h-1zM292.0 89.5h1v1h-1zM274.1 119.8h1v1h-1zM235.8 87.0h1v1h-1zM268.5 124.1h1v1h-1zM278.7 119.4h1v1h-1zM279.7 109.5h1v1h-1zM263.4 126.3h1v1h-1zM272.6 119.8h1v1h-1zM272.1 124.2h1v1h-1zM241.4 103.7h1v1h-1zM262.2 125.9h1v1h-1zM277.0 119.8h1v1h-1zM254.4 118.7h1v1h-1zM270.1 123.7h1v1h-1zM246.4 108.3h1v1h-1zM269.8 124.3h1v1h-1zM243.6 93.8h1v1h-1zM282.2 117.1h1v1h-1zM248.3 111.0h1v1h-1zM283.1 115.1h1v1h-1zM245.2 104.4h1v1h-1zM253.8 121.4h1v1h-1zM283.8 109.0h1v1h-1zM253.2 114.8h1v1h-1zM271.9 75.7h1v1h-1zM239.4 87.0h1v1h-1zM257.8 117.6h1v1h-1zM294.1 103.0h1v1h-1zM275.6 119.9h1v1h-1zM258.7 122.3h1v1h-1zM253.4 119.2h1v1h-1zM238.8 108.9h1v1h-1zM234.7 105.2h1v1h-1zM272.6 122.6h1v1h-1zM287.5 102.5h1v1h-1zM249.0 112.1h1v1h-1zM271.5 123.6h1v1h-1zM273.9 122.3h1v1h-1zM256.4 115.8h1v1h-1zM289.5 84.6h1v1h-1zM248.3 113.4h1v1h-1zM274.8 120.8h1v1h-1zM271.5 123.3h1v1h-1zM241.3 86.6h1v1h-1zM266.5 126.5h1v1h-1zM240.9 103.7h1v1h-1zM280.0 114.9h1v1h-1zM244.3 113.5h1v1h-1zM250.3 117.1h1v1h-1zM275.2 117.9h1v1h-1zM287.0 110.1h1v1h-1zM285.7 113.3h1v1h-1zM269.1 124.4h1v1h-1zM280.0 110.3h1v1h-1zM280.7 111.7h1v1h-1zM290.1 76.9h1v1h-1zM270.0 124.9h1v1h-1zM246.6 116.1h1v1h-1zM255.8 116.4h1v1h-1zM270.2 125.0h1v1h-1zM247.6 106.4h1v1h-1zM270.0 122.1h1v1h-1zM284.7 115.4h1v1h-1zM259.7 123.5h1v1h-1zM252.6 107.5h1v1h-1zM283.8 107.7h1v1h-1zM252.4 117.2h1v1h-1zM276.1 120.5h1v1h-1zM235.2 81.5h1v1h-1zM292.3 86.0h1v1h-1zM275.8 122.0h1v1h-1zM291.4 105.1h1v1h-1zM264.2 126.5h1v1h-1zM249.0 113.8h1v1h-1zM276.4 117.0h1v1h-1zM267.2 125.7h1v1h-1zM262.3 126.0h1v1h-1zM277.3 119.8h1v1h-1zM242.8 111.6h1v1h-1zM284.9 110.3h1v1h-1zM270.7 124.5h1v1h-1zM244.5 103.6h1v1h-1zM255.9 117.6h1v1h-1zM256.2 122.4h1v1h-1zM272.2 123.2h1v1h-1zM253.2 116.8h1v1h-1zM260.3 124.9h1v1h-1zM265.8 126.6h1v1h-1zM248.4 112.0h1v1h-1zM276.8 116.2h1v1h-1zM241.8 102.6h1v1h-1zM269.4 124.8h1v1h-1zM264.6 126.7h1v1h-1zM263.6 126.5h1v1h-1zM274.2 120.3h1v1h-1zM242.1 103.7h1v1h-1zM272.0 121.2h1v1h-1zM257.1 123.5h1v1h-1zM269.4 125.0h1v1h-1zM269.3 125.3h1v1h-1zM285.5 106.7h1v1h-1zM296.3 80.5h1v1h-1zM272.4 123.6h1v1h-1zM272.8 122.9h1v1h-1zM264.7 126.8h1v1h-1zM251.8 113.5h1v1h-1zM237.2 92.0h1v1h-1zM285.1 95.1h1v1h-1zM242.5 97.8h1v1h-1zM251.7 114.1h1v1h-1zM280.1 103.2h1v1h-1zM290.4 82.2h1v1h-1zM251.2 117.6h1v1h-1zM242.8 110.4h1v1h-1zM293.3 102.4h1v1h-1zM264.7 126.2h1v1h-1zM271.5 123.0h1v1h-1zM249.2 116.0h1v1h-1zM249.9 113.6h1v1h-1zM258.8 123.6h1v1h-1zM254.6 116.9h1v1h-1zM248.4 114.0h1v1h-1zM259.0 124.2h1v1h-1zM252.4 118.2h1v1h-1zM248.0 111.9h1v1h-1zM268.6 125.8h1v1h-1zM258.0 124.0h1v1h-1zM264.1 126.6h1v1h-1zM272.4 121.4h1v1h-1zM295.4 76.6h1v1h-1zM259.4 120.0h1v1h-1zM287.9 95.7h1v1h-1zM257.3 123.0h1v1h-1zM246.5 115.6h1v1h-1zM261.5 124.8h1v1h-1zM263.4 125.8h1v1h-1zM270.7 124.7h1v1h-1zM243.6 102.2h1v1h-1zM276.7 112.2h1v1h-1zM295.2 104.4h1v1h-1zM248.8 110.8h1v1h-1zM244.9 111.7h1v1h-1zM246.3 109.0h1v1h-1zM281.6 105.9h1v1h-1zM280.0 114.2h1v1h-1zM259.2 124.5h1v1h-1zM250.2 117.9h1v1h-1zM279.4 114.4h1v1h-1zM272.1 122.4h1v1h-1zM283.3 106.0h1v1h-1zM240.3 109.9h1v1h-1zM290.7 75.1h1v1h-1zM268.0 124.5h1v1h-1zM293.9 91.1h1v1h-1zM271.7 120.5h1v1h-1zM272.3 122.5h1v1h-1zM258.3 124.0h1v1h-1zM277.7 119.7h1v1h-1zM296.4 68.2h1v1h-1zM255.3 116.0h1v1h-1zM293.7 86.4h1v1h-1zM273.9 118.3h1v1h-1zM257.6 122.7h1v1h-1zM284.4 114.3h1v1h-1zM288.6 104.8h1v1h-1zM280.3 115.8h1v1h-1zM275.5 119.8h1v1h-1zM252.5 117.2h1v1h-1zM261.7 125.3h1v1h-1zM281.9 113.8h1v1h-1zM286.4 112.3h1v1h-1zM258.1 122.9h1v1h-1zM286.2 111.3h1v1h-1zM266.4 126.6h1v1h-1zM282.1 116.1h1v1h-1zM276.9 117.2h1v1h-1zM256.0 121.0h1v1h-1zM274.1 117.8h1v1h-1zM241.7 97.8h1v1h-1zM270.0 124.9h1v1h-1zM279.9 112.5h1v1h-1zM241.6 100.7h1v1h-1zM256.3 122.2h1v1h-1zM273.7 122.9h1v1h-1zM244.3 114.2h1v1h-1zM246.2 114.5h1v1h-1zM282.2 116.8h1v1h-1zM254.5 120.1h1v1h-1zM243.4 87.5h1v1h-1zM266.8 125.8h1v1h-1zM294.1 77.5h1v1h-1zM262.7 125.8h1v1h-1zM239.9 104.5h1v1h-1zM234.9 93.1h1v1h-1zM269.5 125.4h1v1h-1zM284.2 107.2h1v1h-1zM233.3 99.9h1v1h-1zM286.4 107.3h1v1h-1zM251.4 109.4h1v1h-1zM243.9 106.2h1v1h-1zM284.1 110.3h1v1h-1zM246.6 112.1h1v1h-1zM253.5 111.8h1v1h-1zM255.2 119.9h1v1h-1zM271.9 120.4h1v1h-1zM275.2 119.6h1v1h-1zM294.2 88.6h1v1h-1zM264.0 126.4h1v1h-1zM268.2 96.2h1v1h-1zM265.5 126.8h1v1h-1zM277.5 118.9h1v1h-1zM235.2 104.1h1v1h-1zM278.4 117.5h1v1h-1zM269.1 125.1h1v1h-1zM244.2 112.5h1v1h-1zM239.3 89.7h1v1h-1zM278.5 118.8h1v1h-1zM249.0 114.5h1v1h-1zM272.7 123.4h1v1h-1zM248.6 109.4h1v1h-1zM295.1 103.9h1v1h-1zM266.2 126.6h1v1h-1zM273.5 123.1h1v1h-1zM266.4 126.6h1v1h-1zM251.5 111.6h1v1h-1zM273.1 117.9h1v1h-1zM282.1 107.7h1v1h-1zM274.3 122.9h1v1h-1zM274.9 120.1h1v1h-1zM268.3 125.2h1v1h-1zM244.7 89.6h1v1h-1zM273.4 119.2h1v1h-1zM290.0 97.1h1v1h-1zM244.4 110.1h1v1h-1zM256.1 118.9h1v1h-1zM254.2 119.4h1v1h-1zM257.2 122.8h1v1h-1zM245.0 114.5h1v1h-1zM256.3 121.4h1v1h-1zM273.9 119.7h1v1h-1zM291.2 103.5h1v1h-1zM267.3 125.7h1v1h-1zM240.7 105.8h1v1h-1zM259.7 124.7h1v1h-1zM262.0 125.7h1v1h-1zM240.8 99.9h1v1h-1zM262.8 125.9h1v1h-1zM265.5 126.8h1v1h-1zM264.7 126.5h1v1h-1zM254.3 119.5h1v1h-1zM273.7 121.4h1v1h-1zM258.3 121.1h1v1h-1zM280.5 113.0h1v1h-1zM288.5 109.8h1v1h-1zM242.4 110.0h1v1h-1zM261.4 124.7h1v1h-1zM259.9 123.4h1v1h-1zM258.9 119.8h1v1h-1zM283.5 115.8h1v1h-1zM238.7 105.1h1v1h-1zM249.4 116.1h1v1h-1zM285.6 114.9h1v1h-1zM286.3 100.8h1v1h-1zM293.1 107.6h1v1h-1zM255.4 119.7h1v1h-1zM247.4 115.8h1v1h-1zM251.0 116.6h1v1h-1zM244.1 99.5h1v1h-1zM290.6 105.6h1v1h-1zM284.4 114.0h1v1h-1zM280.7 117.2h1v1h-1zM249.9 115.7h1v1h-1zM270.3 124.5h1v1h-1zM256.6 123.1h1v1h-1zM279.7 118.1h1v1h-1zM246.1 110.1h1v1h-1zM248.0 109.4h1v1h-1zM261.0 125.5h1v1h-1zM269.7 124.8h1v1h-1zM272.7 123.3h1v1h-1zM238.8 102.0h1v1h-1zM292.7 107.2h1v1h-1zM281.0 114.8h1v1h-1zM276.9 119.4h1v1h-1zM281.4 118.2h1v1h-1zM291.7 97.8h1v1h-1zM259.8 121.1h1v1h-1zM266.5 126.6h1v1h-1zM275.2 120.1h1v1h-1zM257.7 123.2h1v1h-1zM256.9 121.6h1v1h-1zM275.8 119.9h1v1h-1zM280.4 110.3h1v1h-1zM234.5 95.7h1v1h-1zM258.4 122.5h1v1h-1zM274.5 120.4h1v1h-1zM255.9 121.4h1v1h-1zM267.7 125.7h1v1h-1zM257.5 120.5h1v1h-1zM289.4 99.4h1v1h-1zM243.7 106.2h1v1h-1zM275.8 119.0h1v1h-1zM255.1 120.0h1v1h-1zM296.0 104.4h1v1h-1zM250.0 118.1h1v1h-1zM262.4 125.3h1v1h-1zM285.4 97.0h1v1h-1zM284.0 112.5h1v1h-1zM271.6 123.6h1v1h-1zM235.2 82.1h1v1h-1zM246.8 113.6h1v1h-1zM282.4 117.0h1v1h-1zM283.8 112.9h1v1h-1zM287.1 110.6h1v1h-1zM252.2 116.3h1v1h-1zM295.1 105.8h1v1h-1zM279.5 108.2h1v1h-1zM242.9 112.6h1v1h-1zM292.7 91.5h1v1h-1zM294.6 67.9h1v1h-1zM268.0 126.1h1v1h-1zM262.5 125.7h1v1h-1zM288.6 99.6h1v1h-1zM248.8 113.3h1v1h-1zM271.3 124.6h1v1h-1zM281.7 117.4h1v1h-1zM270.3 120.3h1v1h-1zM278.8 119.6h1v1h-1zM247.1 113.3h1v1h-1zM257.1 123.2h1v1h-1zM276.9 116.4h1v1h-1zM260.6 123.8h1v1h-1zM249.2 113.8h1v1h-1zM271.0 122.0h1v1h-1zM237.6 102.4h1v1h-1zM268.8 124.6h1v1h-1zM262.6 124.6h1v1h-1zM243.4 110.0h1v1h-1zM245.6 94.0h1v1h-1zM260.0 121.6h1v1h-1zM243.2 107.6h1v1h-1zM248.4 113.1h1v1h-1zM261.9 125.3h1v1h-1zM286.0 108.0h1v1h-1zM248.8 116.8h1v1h-1zM250.6 106.4h1v1h-1zM254.9 119.8h1v1h-1zM271.1 124.0h1v1h-1zM236.4 88.9h1v1h-1zM255.9 119.9h1v1h-1zM260.8 125.1h1v1h-1zM254.1 120.2h1v1h-1zM242.5 96.1h1v1h-1zM262.7 124.9h1v1h-1zM266.0 126.5h1v1h-1zM286.5 93.4h1v1h-1zM257.8 122.6h1v1h-1zM292.0 109.3h1v1h-1zM282.4 111.6h1v1h-1zM280.7 112.8h1v1h-1zM249.8 115.7h1v1h-1zM257.0 122.6h1v1h-1zM289.1 101.7h1v1h-1zM260.7 124.7h1v1h-1zM248.9 114.5h1v1h-1zM273.2 117.4h1v1h-1zM256.0 121.9h1v1h-1zM280.7 116.3h1v1h-1zM295.7 90.9h1v1h-1zM268.1 126.0h1v1h-1zM249.0 113.1h1v1h-1zM239.5 104.9h1v1h-1zM259.0 122.3h1v1h-1zM276.3 121.1h1v1h-1zM248.2 116.1h1v1h-1zM236.6 86.4h1v1h-1zM275.1 121.4h1v1h-1zM244.5 102.6h1v1h-1zM279.8 101.9h1v1h-1zM254.0 121.5h1v1h-1zM267.0 125.8h1v1h-1zM259.4 123.3h1v1h-1zM271.5 122.1h1v1h-1zM275.8 117.4h1v1h-1zM257.0 121.9h1v1h-1zM267.0 126.4h1v1h-1zM285.4 110.5h1v1h-1zM280.0 114.9h1v1h-1zM267.0 126.4h1v1h-1zM231.7 99.2h1v1h-1zM277.1 121.1h1v1h-1zM252.9 111.2h1v1h-1zM240.4 102.5h1v1h-1zM278.8 113.4h1v1h-1zM236.0 76.8h1v1h-1zM270.0 124.0h1v1h-1zM239.7 73.4h1v1h-1zM293.1 105.5h1v1h-1zM253.6 119.4h1v1h-1zM248.8 109.9h1v1h-1zM252.0 110.7h1v1h-1zM241.4 101.1h1v1h-1zM254.8 120.9h1v1h-1zM274.6 122.4h1v1h-1zM275.7 113.3h1v1h-1zM281.2 108.3h1v1h-1zM280.9 110.5h1v1h-1zM268.5 125.8h1v1h-1zM273.3 122.0h1v1h-1zM284.5 113.6h1v1h-1zM278.6 119.6h1v1h-1zM233.9 67.9h1v1h-1zM276.0 121.2h1v1h-1zM296.8 84.1h1v1h-1zM285.8 110.6h1v1h-1zM261.9 125.1h1v1h-1zM284.2 109.7h1v1h-1zM251.3 119.3h1v1h-1zM296.0 102.0h1v1h-1zM259.8 124.2h1v1h-1zM266.6 126.5h1v1h-1zM251.4 112.7h1v1h-1zM241.7 106.4h1v1h-1zM278.7 115.1h1v1h-1zM261.8 125.2h1v1h-1zM236.4 83.8h1v1h-1zM281.4 109.2h1v1h-1zM284.5 113.6h1v1h-1zM252.0 111.4h1v1h-1zM291.6 109.0h1v1h-1zM278.3 116.0h1v1h-1zM279.0 116.7h1v1h-1zM242.5 108.9h1v1h-1zM254.3 115.2h1v1h-1zM276.8 120.1h1v1h-1zM266.0 126.7h1v1h-1zM266.9 125.9h1v1h-1zM241.9 109.1h1v1h-1zM259.9 124.0h1v1h-1zM240.1 98.2h1v1h-1zM270.5 121.3h1v1h-1zM278.9 111.7h1v1h-1zM272.9 116.5h1v1h-1zM281.7 108.0h1v1h-1zM238.7 103.1h1v1h-1zM243.2 102.6h1v1h-1zM265.5 126.8h1v1h-1zM272.5 122.9h1v1h-1zM274.8 122.7h1v1h-1zM269.1 125.1h1v1h-1zM269.6 124.0h1v1h-1zM250.6 117.9h1v1h-1zM277.6 118.7h1v1h-1zM279.1 118.3h1v1h-1zM274.3 118.8h1v1h-1zM273.1 109.0h1v1h-1zM274.0 119.4h1v1h-1zM271.5 123.5h1v1h-1zM269.2 125.2h1v1h-1zM257.2 119.6h1v1h-1zM252.9 120.1h1v1h-1zM262.8 124.7h1v1h-1zM251.4 118.2h1v1h-1zM276.6 111.9h1v1h-1zM253.6 120.9h1v1h-1zM233.9 103.3h1v1h-1zM272.3 123.6h1v1h-1zM283.6 110.6h1v1h-1zM273.7 122.7h1v1h-1zM255.9 117.6h1v1h-1zM259.9 121.8h1v1h-1zM271.5 124.0h1v1h-1zM278.4 111.0h1v1h-1zM257.6 123.7h1v1h-1zM253.5 97.0h1v1h-1zM251.6 116.9h1v1h-1zM256.0 99.3h1v1h-1zM261.1 124.7h1v1h-1zM289.4 80.9h1v1h-1zM291.2 105.5h1v1h-1zM283.4 115.1h1v1h-1zM287.2 95.2h1v1h-1zM234.5 78.3h1v1h-1zM250.9 116.5h1v1h-1zM256.9 123.3h1v1h-1zM262.8 126.1h1v1h-1zM239.4 104.0h1v1h-1zM274.6 117.8h1v1h-1zM250.5 116.7h1v1h-1zM276.8 113.5h1v1h-1zM244.0 108.4h1v1h-1zM244.2 109.4h1v1h-1zM282.1 114.3h1v1h-1zM250.4 115.3h1v1h-1zM253.1 111.4h1v1h-1zM264.4 126.7h1v1h-1zM263.0 126.1h1v1h-1zM281.5 112.6h1v1h-1zM256.8 123.0h1v1h-1zM268.9 123.7h1v1h-1zM258.8 121.5h1v1h-1zM265.2 126.9h1v1h-1zM279.4 115.6h1v1h-1zM265.9 126.1h1v1h-1zM277.7 114.5h1v1h-1zM284.4 111.3h1v1h-1zM255.4 117.1h1v1h-1zM271.4 123.9h1v1h-1zM288.1 112.3h1v1h-1zM279.0 119.1h1v1h-1zM272.4 75.7h1v1h-1zM288.7 104.0h1v1h-1zM252.9 120.5h1v1h-1zM287.1 110.5h1v1h-1zM277.6 109.2h1v1h-1zM266.7 125.8h1v1h-1zM277.9 110.9h1v1h-1zM263.9 126.3h1v1h-1zM239.9 107.5h1v1h-1zM293.0 88.7h1v1h-1zM269.4 124.1h1v1h-1zM256.1 117.7h1v1h-1zM283.2 111.8h1v1h-1zM277.5 118.5h1v1h-1zM244.9 112.2h1v1h-1zM286.9 113.4h1v1h-1zM277.8 117.1h1v1h-1zM282.8 116.2h1v1h-1zM281.9 103.8h1v1h-1zM244.9 105.9h1v1h-1zM278.7 110.7h1v1h-1zM244.8 109.6h1v1h-1zM248.2 116.1h1v1h-1zM277.0 119.6h1v1h-1zM283.6 109.6h1v1h-1zM236.9 82.2h1v1h-1zM275.7 115.9h1v1h-1zM253.9 121.1h1v1h-1zM242.7 85.9h1v1h-1zM250.8 110.2h1v1h-1zM281.3 115.8h1v1h-1zM247.3 109.2h1v1h-1zM274.3 119.8h1v1h-1zM271.4 121.9h1v1h-1zM271.1 124.7h1v1h-1zM245.5 99.1h1v1h-1zM252.5 118.9h1v1h-1zM287.9 112.9h1v1h-1zM262.7 117.1h1v1h-1zM243.6 105.5h1v1h-1zM283.2 101.3h1v1h-1zM283.9 109.4h1v1h-1zM257.2 116.1h1v1h-1zM263.3 126.4h1v1h-1zM253.2 116.4h1v1h-1zM266.4 126.4h1v1h-1zM260.8 123.6h1v1h-1zM257.6 120.9h1v1h-1zM260.1 124.8h1v1h-1zM271.1 123.7h1v1h-1zM289.2 107.5h1v1h-1zM260.4 125.0h1v1h-1zM280.6 113.5h1v1h-1zM240.8 99.3h1v1h-1zM274.2 121.2h1v1h-1zM257.0 122.2h1v1h-1zM264.0 125.8h1v1h-1zM251.1 105.2h1v1h-1zM261.2 125.5h1v1h-1zM258.2 120.8h1v1h-1zM251.6 105.6h1v1h-1zM260.5 125.0h1v1h-1zM276.6 112.5h1v1h-1zM251.9 116.5h1v1h-1zM237.9 108.8h1v1h-1zM286.0 111.2h1v1h-1zM270.9 123.2h1v1h-1zM276.5 119.4h1v1h-1zM287.4 112.0h1v1h-1zM240.0 29.5h1v1h-1zM264.6 126.7h1v1h-1zM266.4 126.2h1v1h-1zM285.8 110.2h1v1h-1zM269.9 123.5h1v1h-1zM249.8 110.1h1v1h-1zM242.9 113.1h1v1h-1zM254.7 121.4h1v1h-1zM249.1 116.6h1v1h-1zM237.8 103.1h1v1h-1zM272.0 122.8h1v1h-1zM271.4 120.9h1v1h-1zM277.8 113.5h1v1h-1zM282.4 113.4h1v1h-1zM288.1 108.7h1v1h-1zM269.0 125.4h1v1h-1zM283.3 116.8h1v1h-1zM286.2 108.5h1v1h-1zM250.8 115.8h1v1h-1zM251.8 120.1h1v1h-1zM270.8 124.0h1v1h-1zM256.5 118.8h1v1h-1zM274.1 120.9h1v1h-1zM268.9 125.6h1v1h-1zM274.6 122.5h1v1h-1zM243.4 91.8h1v1h-1zM281.9 111.8h1v1h-1zM261.8 124.9h1v1h-1zM235.4 104.0h1v1h-1zM283.9 112.1h1v1h-1zM293.0 93.1h1v1h-1zM256.1 121.8h1v1h-1zM284.4 106.2h1v1h-1zM258.9 121.8h1v1h-1zM274.0 120.0h1v1h-1zM245.7 114.0h1v1h-1zM280.1 113.9h1v1h-1zM281.1 108.1h1v1h-1zM278.8 114.1h1v1h-1zM262.7 126.0h1v1h-1zM254.8 117.8h1v1h-1zM271.4 124.3h1v1h-1zM271.3 123.7h1v1h-1zM242.5 89.2h1v1h-1zM280.9 108.2h1v1h-1zM281.5 116.8h1v1h-1zM254.0 118.8h1v1h-1zM269.9 121.4h1v1h-1zM259.0 124.5h1v1h-1zM255.7 120.4h1v1h-1zM267.9 123.6h1v1h-1zM245.1 113.9h1v1h-1zM270.0 123.2h1v1h-1zM272.7 123.2h1v1h-1zM260.7 125.4h1v1h-1zM271.0 124.0h1v1h-1zM239.6 84.4h1v1h-1zM260.4 125.1h1v1h-1zM259.7 123.7h1v1h-1zM291.5 108.0h1v1h-1zM254.5 119.7h1v1h-1zM254.3 120.3h1v1h-1zM273.3 119.4h1v1h-1zM261.5 125.2h1v1h-1zM262.3 126.0h1v1h-1zM256.5 121.7h1v1h-1zM290.7 99.8h1v1h-1zM260.3 124.6h1v1h-1zM281.4 113.5h1v1h-1zM285.5 113.8h1v1h-1zM243.9 110.1h1v1h-1zM260.8 125.4h1v1h-1zM266.6 126.1h1v1h-1zM278.4 114.1h1v1h-1zM234.6 100.3h1v1h-1zM276.5 121.1h1v1h-1zM268.2 126.1h1v1h-1zM238.7 98.7h1v1h-1zM289.0 72.5h1v1h-1zM282.1 113.8h1v1h-1zM243.3 112.7h1v1h-1zM266.1 126.6h1v1h-1zM257.6 121.4h1v1h-1zM272.2 123.1h1v1h-1zM241.1 92.1h1v1h-1zM285.1 114.8h1v1h-1zM271.1 123.8h1v1h-1zM274.7 118.1h1v1h-1zM251.9 106.0h1v1h-1zM278.6 117.5h1v1h-1zM252.7 120.6h1v1h-1zM286.8 105.0h1v1h-1zM251.3 112.5h1v1h-1zM267.7 125.3h1v1h-1zM270.4 124.9h1v1h-1zM253.8 118.2h1v1h-1zM274.4 121.3h1v1h-1zM266.1 126.1h1v1h-1zM260.9 123.9h1v1h-1zM254.9 120.2h1v1h-1zM262.3 125.5h1v1h-1zM251.0 119.0h1v1h-1zM284.3 108.1h1v1h-1zM274.4 120.3h1v1h-1zM280.8 83.4h1v1h-1zM254.4 114.3h1v1h-1zM269.4 124.0h1v1h-1zM256.2 122.4h1v1h-1zM251.5 117.0h1v1h-1zM242.5 99.5h1v1h-1zM284.5 112.5h1v1h-1zM243.6 110.0h1v1h-1zM257.2 122.7h1v1h-1zM248.2 110.3h1v1h-1zM244.8 103.5h1v1h-1zM278.2 115.0h1v1h-1zM246.5 112.0h1v1h-1zM254.4 115.9h1v1h-1zM243.4 107.5h1v1h-1zM261.2 124.9h1v1h-1zM245.6 105.5h1v1h-1zM288.1 112.1h1v1h-1zM287.0 107.7h1v1h-1zM271.4 123.3h1v1h-1zM272.6 122.6h1v1h-1zM251.0 117.6h1v1h-1zM257.9 119.9h1v1h-1zM270.2 121.8h1v1h-1zM249.8 118.0h1v1h-1zM258.5 123.3h1v1h-1zM264.5 126.3h1v1h-1zM263.8 126.4h1v1h-1zM277.1 121.0h1v1h-1zM272.1 124.1h1v1h-1zM261.2 122.8h1v1h-1zM272.1 123.2h1v1h-1zM259.9 124.5h1v1h-1zM254.5 118.9h1v1h-1zM241.7 108.8h1v1h-1zM284.7 94.4h1v1h-1zM254.1 112.0h1v1h-1zM297.0 94.1h1v1h-1zM260.4 121.9h1v1h-1zM260.5 125.1h1v1h-1zM255.3 121.6h1v1h-1zM276.3 121.2h1v1h-1zM281.6 108.8h1v1h-1zM261.2 123.3h1v1h-1zM258.0 121.8h1v1h-1zM273.1 121.2h1v1h-1zM245.0 91.8h1v1h-1zM284.5 109.4h1v1h-1zM292.3 98.5h1v1h-1zM259.3 124.3h1v1h-1zM279.4 110.1h1v1h-1zM274.9 114.1h1v1h-1zM270.3 124.0h1v1h-1zM267.2 125.6h1v1h-1zM258.3 123.5h1v1h-1zM278.8 117.9h1v1h-1zM288.1 98.9h1v1h-1zM271.9 123.5h1v1h-1zM268.9 124.7h1v1h-1zM246.3 112.1h1v1h-1zM288.3 109.7h1v1h-1zM252.7 116.5h1v1h-1zM266.7 126.2h1v1h-1zM273.1 119.0h1v1h-1zM283.3 106.9h1v1h-1zM282.4 113.4h1v1h-1zM271.6 122.8h1v1h-1zM264.9 126.8h1v1h-1zM274.6 112.7h1v1h-1zM291.0 104.8h1v1h-1zM271.2 124.2h1v1h-1zM234.0 77.8h1v1h-1zM249.3 114.0h1v1h-1zM260.1 124.7h1v1h-1zM278.6 115.5h1v1h-1zM234.2 102.1h1v1h-1zM241.2 105.3h1v1h-1zM269.8 124.6h1v1h-1zM273.5 120.7h1v1h-1zM290.8 107.7h1v1h-1zM279.5 102.7h1v1h-1zM278.4 111.6h1v1h-1zM256.6 119.3h1v1h-1zM275.7 115.7h1v1h-1zM271.0 123.2h1v1h-1zM278.8 118.4h1v1h-1zM257.9 119.9h1v1h-1zM276.3 112.3h1v1h-1zM272.7 100.4h1v1h-1zM280.1 118.3h1v1h-1zM260.0 125.0h1v1h-1zM253.2 118.1h1v1h-1zM262.5 124.9h1v1h-1zM262.4 125.8h1v1h-1zM275.2 119.6h1v1h-1zM264.2 126.3h1v1h-1zM293.4 106.2h1v1h-1zM239.5 92.8h1v1h-1zM247.2 112.4h1v1h-1zM289.6 102.3h1v1h-1zM272.5 123.1h1v1h-1zM250.4 115.4h1v1h-1zM269.9 124.8h1v1h-1zM244.8 113.9h1v1h-1zM274.8 121.9h1v1h-1zM268.1 125.7h1v1h-1zM245.7 106.6h1v1h-1zM252.3 118.0h1v1h-1zM249.9 108.6h1v1h-1zM253.6 117.0h1v1h-1zM245.8 94.6h1v1h-1zM275.4 118.7h1v1h-1zM278.6 118.1h1v1h-1zM292.4 86.1h1v1h-1zM293.5 93.9h1v1h-1zM279.8 118.6h1v1h-1zM264.3 126.7h1v1h-1zM273.0 121.2h1v1h-1zM257.5 120.7h1v1h-1zM275.4 118.5h1v1h-1zM272.7 123.4h1v1h-1zM263.2 125.8h1v1h-1zM253.1 121.1h1v1h-1zM288.6 103.5h1v1h-1zM240.9 111.7h1v1h-1zM271.5 120.5h1v1h-1zM273.9 122.5h1v1h-1zM275.6 121.0h1v1h-1zM273.2 120.3h1v1h-1zM266.7 126.1h1v1h-1zM244.8 105.3h1v1h-1zM253.9 117.2h1v1h-1zM294.9 81.1h1v1h-1zM243.2 102.4h1v1h-1zM292.2 103.4h1v1h-1zM294.2 105.4h1v1h-1zM272.0 122.9h1v1h-1zM274.4 121.5h1v1h-1zM254.8 116.8h1v1h-1zM278.3 117.7h1v1h-1zM253.2 120.6h1v1h-1zM269.8 122.0h1v1h-1zM263.3 126.3h1v1h-1zM292.9 108.3h1v1h-1zM244.9 112.0h1v1h-1zM268.5 125.5h1v1h-1zM261.2 125.0h1v1h-1zM259.7 122.5h1v1h-1zM260.7 123.4h1v1h-1zM291.2 93.5h1v1h-1zM268.1 125.5h1v1h-1zM244.7 97.8h1v1h-1zM247.2 105.1h1v1h-1zM269.9 125.0h1v1h-1zM248.2 110.2h1v1h-1zM257.1 121.6h1v1h-1zM236.6 106.6h1v1h-1zM294.3 94.4h1v1h-1zM241.8 97.4h1v1h-1zM292.4 102.4h1v1h-1zM258.6 124.2h1v1h-1zM244.2 105.9h1v1h-1zM260.8 122.9h1v1h-1zM250.5 112.5h1v1h-1zM239.5 94.9h1v1h-1zM259.2 124.3h1v1h-1zM278.2 117.2h1v1h-1zM276.7 114.5h1v1h-1zM281.2 117.2h1v1h-1zM275.0 119.8h1v1h-1zM243.0 104.6h1v1h-1zM269.3 124.9h1v1h-1zM240.2 105.9h1v1h-1zM259.6 124.2h1v1h-1zM240.1 108.2h1v1h-1zM254.0 117.3h1v1h-1zM254.8 119.3h1v1h-1zM249.6 118.3h1v1h-1zM288.0 101.2h1v1h-1zM277.0 117.9h1v1h-1zM262.5 125.6h1v1h-1zM266.3 126.7h1v1h-1zM254.8 121.9h1v1h-1zM260.3 124.2h1v1h-1zM248.2 115.9h1v1h-1zM251.8 116.2h1v1h-1zM278.8 115.0h1v1h-1zM248.5 113.3h1v1h-1zM273.9 122.5h1v1h-1zM280.2 112.4h1v1h-1zM255.6 118.3h1v1h-1zM249.8 108.8h1v1h-1zM262.6 123.2h1v1h-1zM281.5 115.2h1v1h-1zM257.7 122.1h1v1h-1zM284.7 91.4h1v1h-1zM257.4 121.9h1v1h-1zM252.4 119.5h1v1h-1zM275.2 120.3h1v1h-1zM273.7 117.4h1v1h-1zM278.1 107.3h1v1h-1zM282.7 115.4h1v1h-1zM257.4 122.5h1v1h-1zM272.4 123.4h1v1h-1zM261.3 125.1h1v1h-1zM266.8 125.9h1v1h-1zM257.8 120.7h1v1h-1zM274.8 120.3h1v1h-1zM263.0 126.0h1v1h-1zM280.7 109.2h1v1h-1zM267.3 126.0h1v1h-1zM266.9 126.4h1v1h-1zM239.9 105.5h1v1h-1zM248.7 114.8h1v1h-1zM259.4 123.6h1v1h-1zM277.1 119.6h1v1h-1zM249.9 114.4h1v1h-1zM247.8 113.3h1v1h-1zM271.4 124.3h1v1h-1zM266.7 126.5h1v1h-1zM256.1 122.1h1v1h-1zM232.8 103.9h1v1h-1zM237.6 98.9h1v1h-1zM282.1 112.1h1v1h-1zM259.8 124.2h1v1h-1zM280.6 115.2h1v1h-1zM265.9 126.4h1v1h-1zM276.6 115.5h1v1h-1zM257.3 122.2h1v1h-1zM253.7 119.4h1v1h-1zM274.8 122.0h1v1h-1zM273.4 121.8h1v1h-1zM257.3 123.6h1v1h-1zM250.6 117.6h1v1h-1zM260.5 112.5h1v1h-1zM258.6 121.5h1v1h-1zM256.9 121.9h1v1h-1zM278.7 115.2h1v1h-1zM275.3 120.4h1v1h-1zM246.4 114.5h1v1h-1zM280.3 117.1h1v1h-1zM261.5 125.4h1v1h-1zM247.5 114.4h1v1h-1zM259.9 123.5h1v1h-1zM292.6 87.9h1v1h-1zM281.8 102.1h1v1h-1zM288.1 66.1h1v1h-1zM262.0 125.5h1v1h-1zM270.7 122.8h1v1h-1zM280.8 117.1h1v1h-1zM239.2 98.9h1v1h-1zM253.7 117.1h1v1h-1zM279.6 114.2h1v1h-1zM275.6 115.7h1v1h-1zM275.3 119.1h1v1h-1zM270.5 124.1h1v1h-1zM264.5 126.4h1v1h-1zM275.9 111.7h1v1h-1zM258.8 124.0h1v1h-1zM278.5 113.0h1v1h-1zM239.6 100.2h1v1h-1zM289.2 89.7h1v1h-1zM243.9 111.6h1v1h-1zM247.9 96.6h1v1h-1zM263.1 126.3h1v1h-1zM270.7 123.3h1v1h-1zM279.1 117.5h1v1h-1zM280.9 109.5h1v1h-1zM293.3 99.3h1v1h-1zM272.0 122.1h1v1h-1zM237.7 102.1h1v1h-1zM289.3 98.8h1v1h-1zM270.1 125.1h1v1h-1zM272.0 123.7h1v1h-1zM233.5 93.4h1v1h-1zM245.0 110.8h1v1h-1zM266.7 126.4h1v1h-1zM290.4 78.1h1v1h-1zM247.0 115.3h1v1h-1zM262.0 125.7h1v1h-1zM258.2 122.3h1v1h-1zM292.8 105.8h1v1h-1zM259.4 124.6h1v1h-1zM269.8 124.6h1v1h-1zM282.3 114.3h1v1h-1zM252.8 119.3h1v1h-1zM278.6 115.4h1v1h-1zM291.4 98.8h1v1h-1zM257.5 121.3h1v1h-1zM256.0 121.9h1v1h-1zM286.3 107.4h1v1h-1zM282.6 108.7h1v1h-1zM289.6 82.5h1v1h-1zM281.4 116.4h1v1h-1zM252.0 120.3h1v1h-1zM257.5 83.7h1v1h-1zM250.3 112.1h1v1h-1zM287.6 104.9h1v1h-1zM284.9 109.8h1v1h-1zM279.4 116.0h1v1h-1zM276.3 119.3h1v1h-1zM239.4 95.3h1v1h-1zM268.6 124.9h1v1h-1zM254.0 121.6h1v1h-1zM241.8 93.3h1v1h-1zM257.7 123.4h1v1h-1zM244.4 113.5h1v1h-1zM272.6 122.2h1v1h-1zM254.4 112.8h1v1h-1zM241.2 108.1h1v1h-1zM262.1 125.3h1v1h-1zM276.9 119.9h1v1h-1zM271.3 124.1h1v1h-1zM249.3 116.5h1v1h-1zM255.8 119.2h1v1h-1zM250.6 114.7h1v1h-1zM282.8 112.8h1v1h-1zM239.9 87.3h1v1h-1zM238.7 98.5h1v1h-1zM283.8 113.7h1v1h-1zM266.2 126.5h1v1h-1zM282.9 111.0h1v1h-1zM291.8 96.1h1v1h-1zM280.1 118.6h1v1h-1zM239.0 82.5h1v1h-1zM273.9 123.1h1v1h-1zM258.5 122.2h1v1h-1zM243.6 105.5h1v1h-1zM252.3 115.5h1v1h-1zM257.0 121.4h1v1h-1zM271.5 120.3h1v1h-1zM279.2 119.1h1v1h-1zM275.8 120.8h1v1h-1zM270.5 124.4h1v1h-1zM247.1 95.8h1v1h-1zM270.0 123.8h1v1h-1zM275.4 120.4h1v1h-1zM296.3 92.8h1v1h-1zM268.0 125.6h1v1h-1zM256.9 122.8h1v1h-1zM253.3 108.9h1v1h-1zM252.3 120.1h1v1h-1zM236.7 90.8h1v1h-1zM269.2 123.4h1v1h-1zM281.5 106.6h1v1h-1zM262.2 125.6h1v1h-1zM244.8 104.3h1v1h-1zM275.7 119.6h1v1h-1zM275.1 118.6h1v1h-1zM282.4 116.8h1v1h-1zM252.7 118.2h1v1h-1zM287.0 112.9h1v1h-1zM251.9 119.9h1v1h-1zM261.2 124.1h1v1h-1zM273.5 122.3h1v1h-1zM246.6 109.2h1v1h-1zM246.6 108.3h1v1h-1zM269.4 123.2h1v1h-1zM258.3 124.0h1v1h-1zM272.4 123.1h1v1h-1zM252.3 117.3h1v1h-1zM240.9 98.9h1v1h-1zM281.5 112.6h1v1h-1zM282.0 114.2h1v1h-1zM273.1 119.9h1v1h-1zM264.0 126.5h1v1h-1zM250.8 108.9h1v1h-1zM280.2 104.7h1v1h-1zM279.5 118.9h1v1h-1zM279.8 111.6h1v1h-1zM281.5 115.7h1v1h-1zM273.1 119.9h1v1h-1zM253.8 117.2h1v1h-1zM277.5 118.2h1v1h-1zM278.8 114.7h1v1h-1zM291.0 107.0h1v1h-1zM280.1 109.8h1v1h-1zM274.9 120.4h1v1h-1zM278.4 115.9h1v1h-1zM243.6 95.6h1v1h-1zM284.2 108.0h1v1h-1zM264.0 126.3h1v1h-1zM267.2 125.9h1v1h-1zM245.5 115.5h1v1h-1zM267.7 126.0h1v1h-1zM242.4 112.3h1v1h-1zM281.9 117.0h1v1h-1zM266.3 126.3h1v1h-1zM254.3 119.4h1v1h-1zM284.9 111.1h1v1h-1zM280.7 111.5h1v1h-1zM288.1 111.7h1v1h-1zM277.2 113.9h1v1h-1zM284.8 91.6h1v1h-1zM272.1 123.1h1v1h-1zM247.7 45.7h1v1h-1zM260.4 34.5h1v1h-1zM289.1 41.5h1v1h-1zM279.6 58.3h1v1h-1zM252.4 63.9h1v1h-1zM287.5 72.3h1v1h-1zM244.5 82.1h1v1h-1zM273.2 79.3h1v1h-1z" fill="#4a4a4a" fill-opacity="0.75"/>
<path d="M297.8 83.1h.9v.9h-.9zM233.3 89.3h.9v.9h-.9zM299.2 83.0h.9v.9h-.9zM297.5 76.0h.9v.9h-.9zM232.8 98.2h.9v.9h-.9zM231.4 71.2h.9v.9h-.9zM233.1 70.2h.9v.9h-.9zM297.6 87.5h.9v.9h-.9zM231.3 80.6h.9v.9h-.9zM297.3 78.2h.9v.9h-.9zM300.3 96.6h.9v.9h-.9zM232.1 95.5h.9v.9h-.9zM298.2 85.7h.9v.9h-.9zM298.2 48.9h.9v.9h-.9zM297.2 61.5h.9v.9h-.9zM232.8 85.9h.9v.9h-.9zM223.3 95.2h.9v.9h-.9zM229.8 68.7h.9v.9h-.9zM226.3 95.8h.9v.9h-.9zM221.8 96.3h.9v.9h-.9zM232.2 90.3h.9v.9h-.9zM228.9 57.6h.9v.9h-.9zM228.6 81.8h.9v.9h-.9zM221.5 97.9h.9v.9h-.9zM300.2 70.2h.9v.9h-.9zM310.3 88.8h.9v.9h-.9zM310.6 77.1h.9v.9h-.9zM306.5 95.5h.9v.9h-.9zM308.3 86.0h.9v.9h-.9zM300.0 95.7h.9v.9h-.9zM301.1 84.1h.9v.9h-.9zM299.4 94.1h.9v.9h-.9zM308.5 64.2h.9v.9h-.9zM309.2 77.3h.9v.9h-.9zM306.3 94.6h.9v.9h-.9zM308.7 61.3h.9v.9h-.9zM306.0 81.7h.9v.9h-.9zM298.8 98.0h.9v.9h-.9zM302.7 42.7h.9v.9h-.9zM302.6 45.3h.9v.9h-.9z" fill="#f07070" fill-opacity="0.45"/>
<g stroke="#333" stroke-width="0.6" fill="none">
<path d="M213.5 29.4V132.3H317"/>
<path d="M211.6 127.4H213.5"/>
<path d="M211.6 113.4H213.5"/>
<path d="M211.6 99.4H213.5"/>
<path d="M211.6 85.4H213.5"/>
<path d="M211.6 71.4H213.5"/>
<path d="M211.6 57.4H213.5"/>
<path d="M211.6 43.4H213.5"/>
<path d="M211.6 29.4H213.5"/>
<path d="M217.8 132.3V134.2"/>
<path d="M233.8 132.3V134.2"/>
<path d="M249.8 132.3V134.2"/>
<path d="M265.7 132.3V134.2"/>
<path d="M281.6 132.3V134.2"/>
<path d="M297.6 132.3V134.2"/>
<path d="M313.5 132.3V134.2"/>
</g>
<g stroke="#333" stroke-width="0.6" stroke-dasharray="2.3,1.45" fill="none">
<path d="M233.8 29.4V132.3M297.6 29.4V132.3M213.5 99.4H317"/>
</g>
<text transform="translate(209.6,129.5) scale(1,1.05) scale(0.1)" font-size="58.0" text-anchor="end" >0</text>
<text transform="translate(209.6,115.5) scale(1,1.05) scale(0.1)" font-size="58.0" text-anchor="end" >1</text>
<text transform="translate(209.6,101.5) scale(1,1.05) scale(0.1)" font-size="58.0" text-anchor="end" >2</text>
<text transform="translate(209.6,87.5) scale(1,1.05) scale(0.1)" font-size="58.0" text-anchor="end" >3</text>
<text transform="translate(209.6,73.5) scale(1,1.05) scale(0.1)" font-size="58.0" text-anchor="end" >4</text>
<text transform="translate(209.6,59.50000000000001) scale(1,1.05) scale(0.1)" font-size="58.0" text-anchor="end" >5</text>
<text transform="translate(209.6,45.50000000000001) scale(1,1.05) scale(0.1)" font-size="58.0" text-anchor="end" >6</text>
<text transform="translate(209.6,31.500000000000007) scale(1,1.05) scale(0.1)" font-size="58.0" text-anchor="end" >7</text>
<text transform="translate(216.65,141.3) scale(1,1.05) scale(0.1)" font-size="58.0" text-anchor="middle" >−3</text>
<text transform="translate(232.6,141.3) scale(1,1.05) scale(0.1)" font-size="58.0" text-anchor="middle" >−2</text>
<text transform="translate(248.55,141.3) scale(1,1.05) scale(0.1)" font-size="58.0" text-anchor="middle" >−1</text>
<text transform="translate(265.7,141.3) scale(1,1.05) scale(0.1)" font-size="58.0" text-anchor="middle" >0</text>
<text transform="translate(281.65,141.3) scale(1,1.05) scale(0.1)" font-size="58.0" text-anchor="middle" >1</text>
<text transform="translate(297.59999999999997,141.3) scale(1,1.05) scale(0.1)" font-size="58.0" text-anchor="middle" >2</text>
<text transform="translate(313.54999999999995,141.3) scale(1,1.05) scale(0.1)" font-size="58.0" text-anchor="middle" >3</text>
<text transform="translate(238.4,151.6) scale(1,1.1) scale(0.1)" font-size="60.0">log<tspan font-size="43.0" dy="15.0">2</tspan><tspan dy="-15.0" dx="4.0">(FC</tspan><tspan font-size="44.0" dy="16.0">H3K27ac count</tspan><tspan dy="-16.0">)</tspan></text>
<text transform="translate(298.2,130.6) scale(1,1.05) scale(0.1)" font-size="50.0" >#SEs = 2669</text>
<g stroke="#333" stroke-width="0.6" fill="none"><path d="M217 27.3H314M265.6 25.6V29"/></g>
<path d="M215.2 27.3L219.6 25.5V29.1Z" fill="#333"/><path d="M315.6 27.3L311.2 25.5V29.1Z" fill="#333"/>
<text transform="translate(234.2,15.4) scale(1,1.05) scale(0.1)" font-size="60.0" text-anchor="middle" >SE upregulated</text>
<text transform="translate(234.5,22.6) scale(1,1.05) scale(0.1)" font-size="60.0" text-anchor="middle" >in naive B cells</text>
<text transform="translate(296.9,15.4) scale(1,1.05) scale(0.1)" font-size="60.0" text-anchor="middle" >SE upregulated</text>
<text transform="translate(295.2,22.6) scale(1,1.05) scale(0.1)" font-size="60.0" text-anchor="middle" >in CLL</text>
<circle cx="232.5" cy="76.2" r="0.95" fill="#6a1818"/>
<text transform="translate(228.9,76.9) scale(1,1.05) scale(0.1)" font-size="50.0" text-anchor="end" >IL6</text>
<circle cx="311.9" cy="75.9" r="0.95" fill="#6a1818"/>
<text transform="translate(312.3,75.1) scale(1,1.05) scale(0.1)" font-size="50.0" >LEF1</text>
<circle cx="300.3" cy="96.3" r="0.95" fill="#6a1818"/>
<text transform="translate(301.8,97.6) scale(1,1.05) scale(0.1)" font-size="50.0" >CTLA4</text>
<path d="M397.6 117.8h1v1h-1zM393.2 117.7h1v1h-1zM428.8 118.5h1v1h-1zM427.5 122.1h1v1h-1zM413.5 126.5h1v1h-1zM444.6 102.7h1v1h-1zM400.5 106.1h1v1h-1zM428.4 114.1h1v1h-1zM389.7 96.2h1v1h-1zM423.6 123.7h1v1h-1zM420.1 124.4h1v1h-1zM424.2 122.2h1v1h-1zM397.0 106.0h1v1h-1zM399.9 116.8h1v1h-1zM392.8 110.5h1v1h-1zM430.8 120.6h1v1h-1zM403.6 122.1h1v1h-1zM421.0 124.9h1v1h-1zM397.9 116.9h1v1h-1zM428.5 121.9h1v1h-1zM422.0 124.4h1v1h-1zM432.6 117.3h1v1h-1zM392.8 117.2h1v1h-1zM424.8 119.5h1v1h-1zM424.3 123.7h1v1h-1zM407.7 124.1h1v1h-1zM403.7 122.1h1v1h-1zM420.1 124.6h1v1h-1zM382.4 107.5h1v1h-1zM422.5 124.2h1v1h-1zM412.5 126.3h1v1h-1zM431.9 117.4h1v1h-1zM406.7 118.8h1v1h-1zM441.7 107.0h1v1h-1zM416.9 126.3h1v1h-1zM381.5 109.2h1v1h-1zM427.0 120.6h1v1h-1zM406.7 121.4h1v1h-1zM420.8 124.5h1v1h-1zM428.2 121.9h1v1h-1zM397.8 110.9h1v1h-1zM447.2 97.4h1v1h-1zM404.0 116.7h1v1h-1zM397.1 117.0h1v1h-1zM429.8 111.1h1v1h-1zM448.2 101.2h1v1h-1zM443.7 107.7h1v1h-1zM401.8 117.4h1v1h-1zM424.7 120.5h1v1h-1zM422.1 123.8h1v1h-1zM417.3 125.1h1v1h-1zM412.1 125.8h1v1h-1zM411.6 126.1h1v1h-1zM431.5 119.1h1v1h-1zM426.4 116.9h1v1h-1zM424.0 120.7h1v1h-1zM416.1 126.6h1v1h-1zM448.9 109.7h1v1h-1zM385.9 105.9h1v1h-1zM420.2 125.1h1v1h-1zM403.4 122.6h1v1h-1zM411.1 120.7h1v1h-1zM423.0 123.8h1v1h-1zM403.5 122.6h1v1h-1zM384.3 106.7h1v1h-1zM414.9 126.4h1v1h-1zM426.4 122.7h1v1h-1zM389.0 113.6h1v1h-1zM385.7 109.3h1v1h-1zM392.0 106.7h1v1h-1zM386.4 97.5h1v1h-1zM438.1 115.8h1v1h-1zM427.3 122.0h1v1h-1zM432.4 110.2h1v1h-1zM439.6 116.6h1v1h-1zM438.1 114.5h1v1h-1zM423.9 123.6h1v1h-1zM428.4 121.5h1v1h-1zM430.1 119.4h1v1h-1zM391.6 108.7h1v1h-1zM423.7 122.5h1v1h-1zM408.0 124.1h1v1h-1zM404.7 120.7h1v1h-1zM386.5 105.9h1v1h-1zM429.6 116.7h1v1h-1zM439.5 108.8h1v1h-1zM443.8 98.5h1v1h-1zM429.9 119.8h1v1h-1zM397.1 114.3h1v1h-1zM434.4 113.9h1v1h-1zM406.1 123.7h1v1h-1zM403.0 121.2h1v1h-1zM431.1 118.7h1v1h-1zM403.1 118.7h1v1h-1zM381.8 109.2h1v1h-1zM413.4 126.4h1v1h-1zM435.6 115.8h1v1h-1zM408.2 124.3h1v1h-1zM409.5 122.0h1v1h-1zM399.9 97.0h1v1h-1zM438.8 113.7h1v1h-1zM384.0 108.2h1v1h-1zM409.4 124.7h1v1h-1zM404.8 122.1h1v1h-1zM401.2 116.4h1v1h-1zM411.0 125.4h1v1h-1zM425.6 123.2h1v1h-1zM380.8 98.7h1v1h-1zM433.1 117.7h1v1h-1zM430.8 121.1h1v1h-1zM434.5 117.3h1v1h-1zM408.0 124.9h1v1h-1zM396.8 119.5h1v1h-1zM411.5 125.8h1v1h-1zM434.9 113.9h1v1h-1zM419.5 125.2h1v1h-1zM381.0 101.7h1v1h-1zM396.4 114.5h1v1h-1zM381.9 108.3h1v1h-1zM445.2 112.7h1v1h-1zM403.2 118.4h1v1h-1zM425.5 122.9h1v1h-1zM391.3 99.7h1v1h-1zM430.6 120.4h1v1h-1zM404.9 119.6h1v1h-1zM444.2 113.4h1v1h-1zM415.8 126.6h1v1h-1zM380.5 74.2h1v1h-1zM428.5 121.6h1v1h-1zM446.6 111.1h1v1h-1zM426.6 121.3h1v1h-1zM418.5 125.9h1v1h-1zM406.4 122.9h1v1h-1zM423.8 123.0h1v1h-1zM424.0 121.8h1v1h-1zM396.0 116.5h1v1h-1zM396.7 118.1h1v1h-1zM428.5 113.4h1v1h-1zM415.3 126.8h1v1h-1zM419.5 125.3h1v1h-1zM396.3 115.7h1v1h-1zM417.7 125.5h1v1h-1zM449.6 86.5h1v1h-1zM435.6 108.8h1v1h-1zM416.4 126.2h1v1h-1zM391.6 94.0h1v1h-1zM404.2 120.5h1v1h-1zM397.5 118.4h1v1h-1zM393.2 109.2h1v1h-1zM426.5 120.2h1v1h-1zM429.1 119.6h1v1h-1zM436.6 117.5h1v1h-1zM430.0 119.1h1v1h-1zM420.6 123.5h1v1h-1zM424.1 123.1h1v1h-1zM398.9 117.3h1v1h-1zM432.5 119.9h1v1h-1zM424.4 123.6h1v1h-1zM445.1 113.5h1v1h-1zM394.5 116.4h1v1h-1zM444.2 112.6h1v1h-1zM414.1 126.6h1v1h-1zM401.5 122.0h1v1h-1zM428.0 119.3h1v1h-1zM396.0 115.9h1v1h-1zM444.3 112.6h1v1h-1zM392.7 114.0h1v1h-1zM434.3 119.2h1v1h-1zM402.1 120.8h1v1h-1zM410.8 125.2h1v1h-1zM379.0 109.5h1v1h-1zM394.8 117.1h1v1h-1zM385.6 108.2h1v1h-1zM433.9 118.7h1v1h-1zM406.9 123.9h1v1h-1zM433.7 108.7h1v1h-1zM434.2 110.8h1v1h-1zM434.4 118.3h1v1h-1zM416.7 126.5h1v1h-1zM422.1 120.4h1v1h-1zM395.8 108.6h1v1h-1zM425.2 117.1h1v1h-1zM422.2 123.5h1v1h-1zM388.7 112.3h1v1h-1zM423.8 122.1h1v1h-1zM448.3 99.7h1v1h-1zM430.9 118.8h1v1h-1zM447.5 91.6h1v1h-1zM426.3 121.9h1v1h-1zM428.4 122.1h1v1h-1zM413.2 126.2h1v1h-1zM429.9 120.3h1v1h-1zM440.8 112.9h1v1h-1zM417.6 125.7h1v1h-1zM425.9 120.7h1v1h-1zM385.7 84.0h1v1h-1zM433.0 117.5h1v1h-1zM437.1 118.0h1v1h-1zM386.4 94.1h1v1h-1zM432.0 120.1h1v1h-1zM428.4 121.7h1v1h-1zM389.2 114.4h1v1h-1zM435.8 116.2h1v1h-1zM400.0 118.7h1v1h-1zM400.2 119.3h1v1h-1zM444.7 104.2h1v1h-1zM426.1 122.8h1v1h-1zM421.0 124.9h1v1h-1zM385.3 109.4h1v1h-1zM418.4 125.7h1v1h-1zM405.7 122.0h1v1h-1zM408.9 123.7h1v1h-1zM432.5 116.3h1v1h-1zM402.6 122.4h1v1h-1zM419.4 125.3h1v1h-1zM392.3 116.6h1v1h-1zM402.8 121.8h1v1h-1zM398.8 117.3h1v1h-1zM396.4 115.0h1v1h-1zM420.5 124.9h1v1h-1zM417.7 126.3h1v1h-1zM437.0 113.1h1v1h-1zM410.6 124.0h1v1h-1zM410.7 125.0h1v1h-1zM383.6 106.5h1v1h-1zM417.1 126.2h1v1h-1zM421.0 124.3h1v1h-1zM396.7 116.8h1v1h-1zM390.4 110.5h1v1h-1zM429.5 120.5h1v1h-1zM437.6 114.2h1v1h-1zM447.6 91.4h1v1h-1zM393.6 116.2h1v1h-1zM438.9 106.3h1v1h-1zM409.6 123.6h1v1h-1zM400.6 120.5h1v1h-1zM428.1 117.4h1v1h-1zM406.2 123.9h1v1h-1zM417.8 125.2h1v1h-1zM427.0 122.7h1v1h-1zM392.9 116.5h1v1h-1zM407.1 123.2h1v1h-1zM387.3 112.4h1v1h-1zM412.7 126.1h1v1h-1zM414.3 126.7h1v1h-1zM437.4 113.4h1v1h-1zM404.7 100.9h1v1h-1zM428.9 116.1h1v1h-1zM435.5 104.3h1v1h-1zM400.8 120.8h1v1h-1zM390.7 116.2h1v1h-1zM390.2 101.3h1v1h-1zM400.7 119.5h1v1h-1zM422.0 123.3h1v1h-1zM400.6 116.1h1v1h-1zM424.3 117.2h1v1h-1zM400.0 112.9h1v1h-1zM443.0 114.3h1v1h-1zM439.8 114.5h1v1h-1zM404.8 121.2h1v1h-1zM428.1 118.5h1v1h-1zM431.2 118.7h1v1h-1zM424.0 122.7h1v1h-1zM392.8 116.2h1v1h-1zM422.8 121.9h1v1h-1zM439.0 114.7h1v1h-1zM434.7 115.2h1v1h-1zM421.1 124.7h1v1h-1zM402.8 121.6h1v1h-1zM424.0 122.4h1v1h-1zM391.8 117.0h1v1h-1zM420.6 124.1h1v1h-1zM447.9 81.9h1v1h-1zM404.0 122.1h1v1h-1zM434.1 110.5h1v1h-1zM424.1 123.0h1v1h-1zM420.3 124.7h1v1h-1zM410.6 125.5h1v1h-1zM415.8 126.5h1v1h-1zM434.2 119.2h1v1h-1zM390.3 109.4h1v1h-1zM421.8 124.1h1v1h-1zM417.4 125.8h1v1h-1zM393.9 101.5h1v1h-1zM391.8 105.9h1v1h-1zM413.1 126.3h1v1h-1zM406.4 121.7h1v1h-1zM407.8 124.4h1v1h-1zM397.7 118.6h1v1h-1zM405.7 122.3h1v1h-1zM396.1 116.1h1v1h-1zM430.3 119.5h1v1h-1zM419.8 125.4h1v1h-1zM406.7 124.2h1v1h-1zM421.7 124.5h1v1h-1zM428.8 117.9h1v1h-1zM417.0 126.4h1v1h-1zM394.8 115.0h1v1h-1zM399.6 109.8h1v1h-1zM429.7 119.5h1v1h-1zM424.6 120.9h1v1h-1zM441.1 115.3h1v1h-1zM444.6 109.2h1v1h-1zM424.4 123.4h1v1h-1zM417.3 105.3h1v1h-1zM400.1 115.1h1v1h-1zM401.4 121.6h1v1h-1zM406.7 123.4h1v1h-1zM388.5 114.7h1v1h-1zM441.8 96.3h1v1h-1zM383.4 89.0h1v1h-1zM407.9 123.0h1v1h-1zM434.3 118.5h1v1h-1zM417.3 126.1h1v1h-1zM427.8 107.6h1v1h-1zM438.3 115.8h1v1h-1zM403.0 122.2h1v1h-1zM404.4 123.5h1v1h-1zM444.2 106.0h1v1h-1zM395.5 118.0h1v1h-1zM413.5 126.4h1v1h-1zM430.9 120.7h1v1h-1zM425.4 122.3h1v1h-1zM393.2 114.9h1v1h-1zM434.5 106.1h1v1h-1zM409.5 125.3h1v1h-1zM400.5 117.4h1v1h-1zM444.2 113.0h1v1h-1zM389.3 114.1h1v1h-1zM381.2 94.9h1v1h-1zM413.3 126.0h1v1h-1zM402.7 116.5h1v1h-1zM398.1 118.4h1v1h-1zM442.7 109.8h1v1h-1zM388.0 95.3h1v1h-1zM392.9 117.6h1v1h-1zM430.5 118.2h1v1h-1zM386.8 100.4h1v1h-1zM446.2 108.3h1v1h-1zM438.7 113.7h1v1h-1zM401.6 115.3h1v1h-1zM421.1 122.8h1v1h-1zM401.4 119.5h1v1h-1zM428.0 119.2h1v1h-1zM391.4 116.9h1v1h-1zM423.8 121.3h1v1h-1zM422.5 123.7h1v1h-1zM426.2 123.1h1v1h-1zM427.8 120.1h1v1h-1zM385.7 113.5h1v1h-1zM425.4 122.5h1v1h-1zM435.0 118.2h1v1h-1zM387.1 114.0h1v1h-1zM433.3 118.7h1v1h-1zM407.9 124.6h1v1h-1zM392.6 115.8h1v1h-1zM413.7 126.4h1v1h-1zM425.4 119.7h1v1h-1zM389.7 108.4h1v1h-1zM407.0 123.5h1v1h-1zM396.2 118.2h1v1h-1zM441.5 108.7h1v1h-1zM389.7 112.1h1v1h-1zM402.2 121.3h1v1h-1zM404.5 123.4h1v1h-1zM408.6 124.6h1v1h-1zM431.2 119.3h1v1h-1zM423.5 123.7h1v1h-1zM431.2 114.7h1v1h-1zM393.0 108.4h1v1h-1zM436.1 110.0h1v1h-1zM402.8 121.3h1v1h-1zM409.1 121.5h1v1h-1zM391.7 116.0h1v1h-1zM439.4 115.9h1v1h-1zM435.2 112.9h1v1h-1zM431.4 116.8h1v1h-1zM411.0 125.0h1v1h-1zM410.8 123.7h1v1h-1zM417.8 125.3h1v1h-1zM419.5 125.0h1v1h-1zM408.4 124.4h1v1h-1zM423.1 124.1h1v1h-1zM391.0 111.9h1v1h-1zM407.1 122.5h1v1h-1zM403.2 120.7h1v1h-1zM400.8 117.8h1v1h-1zM401.2 121.5h1v1h-1zM411.4 125.8h1v1h-1zM399.5 120.7h1v1h-1zM419.8 125.3h1v1h-1zM436.7 103.9h1v1h-1zM404.9 121.5h1v1h-1zM425.9 122.3h1v1h-1zM431.3 120.1h1v1h-1zM405.9 123.8h1v1h-1zM420.6 122.5h1v1h-1zM406.6 123.0h1v1h-1zM429.1 113.2h1v1h-1zM412.2 126.2h1v1h-1zM410.4 124.2h1v1h-1zM438.0 109.4h1v1h-1zM445.2 108.9h1v1h-1zM389.8 94.7h1v1h-1zM391.4 105.6h1v1h-1zM423.6 123.4h1v1h-1zM434.8 117.1h1v1h-1zM437.9 108.4h1v1h-1zM426.0 122.3h1v1h-1zM394.2 108.9h1v1h-1zM401.0 117.6h1v1h-1zM446.5 100.9h1v1h-1zM401.8 120.2h1v1h-1zM443.2 96.0h1v1h-1zM421.8 124.6h1v1h-1zM431.7 113.1h1v1h-1zM412.5 125.8h1v1h-1zM435.8 116.7h1v1h-1zM401.0 119.5h1v1h-1zM406.5 119.5h1v1h-1zM395.8 114.5h1v1h-1zM394.9 118.6h1v1h-1zM410.0 123.6h1v1h-1zM398.5 116.7h1v1h-1zM434.4 114.7h1v1h-1zM422.8 121.7h1v1h-1zM401.8 120.5h1v1h-1zM441.8 113.1h1v1h-1zM390.7 102.5h1v1h-1zM397.8 114.4h1v1h-1zM423.2 123.1h1v1h-1zM433.4 106.7h1v1h-1zM443.1 113.0h1v1h-1zM391.9 116.1h1v1h-1zM419.6 125.4h1v1h-1zM434.6 116.5h1v1h-1zM395.1 113.8h1v1h-1zM387.6 112.0h1v1h-1zM418.2 125.7h1v1h-1zM438.2 113.3h1v1h-1zM397.4 117.5h1v1h-1zM429.9 120.0h1v1h-1zM385.6 107.2h1v1h-1zM433.8 111.7h1v1h-1zM423.8 123.8h1v1h-1zM430.2 113.8h1v1h-1zM399.5 114.4h1v1h-1zM438.7 94.1h1v1h-1zM403.8 121.1h1v1h-1zM441.6 103.3h1v1h-1zM397.8 119.1h1v1h-1zM434.0 118.1h1v1h-1zM444.0 108.2h1v1h-1zM409.4 125.4h1v1h-1zM436.3 117.3h1v1h-1zM401.7 121.0h1v1h-1zM386.0 73.6h1v1h-1zM406.4 123.6h1v1h-1zM393.0 114.7h1v1h-1zM386.3 103.5h1v1h-1zM403.9 119.4h1v1h-1zM406.4 123.2h1v1h-1zM444.1 104.9h1v1h-1zM383.0 104.9h1v1h-1zM402.1 122.0h1v1h-1zM412.5 126.3h1v1h-1zM431.2 117.4h1v1h-1zM399.7 114.9h1v1h-1zM411.3 124.7h1v1h-1zM422.5 123.4h1v1h-1zM437.0 116.7h1v1h-1zM444.1 107.0h1v1h-1zM440.4 95.5h1v1h-1zM423.2 122.6h1v1h-1zM409.2 124.3h1v1h-1zM401.1 121.2h1v1h-1zM430.0 120.4h1v1h-1zM411.2 124.8h1v1h-1zM406.4 118.6h1v1h-1zM396.1 108.5h1v1h-1zM407.9 123.8h1v1h-1zM389.7 116.0h1v1h-1zM440.8 106.1h1v1h-1zM428.4 117.3h1v1h-1zM417.9 125.5h1v1h-1zM425.2 120.7h1v1h-1zM424.7 121.6h1v1h-1zM389.8 109.9h1v1h-1zM404.5 120.9h1v1h-1zM410.5 124.3h1v1h-1zM389.4 113.9h1v1h-1zM417.3 126.3h1v1h-1zM409.7 124.6h1v1h-1zM402.5 121.3h1v1h-1zM402.4 122.0h1v1h-1zM423.1 124.1h1v1h-1zM412.7 125.4h1v1h-1zM449.0 105.4h1v1h-1zM397.9 120.4h1v1h-1zM412.3 125.6h1v1h-1zM397.8 115.4h1v1h-1zM407.2 121.6h1v1h-1zM407.5 123.6h1v1h-1zM424.2 122.7h1v1h-1zM395.4 117.4h1v1h-1zM403.6 121.9h1v1h-1zM435.9 115.9h1v1h-1zM440.5 111.5h1v1h-1zM428.5 113.2h1v1h-1zM417.0 125.6h1v1h-1zM426.6 122.4h1v1h-1zM422.5 124.6h1v1h-1zM432.9 119.7h1v1h-1zM379.0 107.2h1v1h-1zM447.7 110.4h1v1h-1zM420.1 125.2h1v1h-1zM410.5 125.3h1v1h-1zM425.0 121.9h1v1h-1zM397.2 110.3h1v1h-1zM436.5 114.8h1v1h-1zM411.9 124.7h1v1h-1zM426.9 122.6h1v1h-1zM405.4 123.2h1v1h-1zM423.9 122.1h1v1h-1zM395.2 113.5h1v1h-1zM403.3 119.7h1v1h-1zM396.1 109.3h1v1h-1zM439.0 116.0h1v1h-1zM409.1 125.1h1v1h-1zM416.7 126.4h1v1h-1zM430.6 119.0h1v1h-1zM419.7 125.6h1v1h-1zM424.2 123.1h1v1h-1zM418.9 125.3h1v1h-1zM399.1 107.6h1v1h-1zM432.5 118.1h1v1h-1zM432.7 113.6h1v1h-1zM432.7 118.4h1v1h-1zM397.4 117.3h1v1h-1zM407.3 123.7h1v1h-1zM411.2 125.1h1v1h-1zM408.4 123.9h1v1h-1zM438.4 100.2h1v1h-1zM393.8 100.8h1v1h-1zM432.5 118.5h1v1h-1zM446.9 87.6h1v1h-1zM425.5 120.1h1v1h-1zM434.3 117.9h1v1h-1zM435.8 117.5h1v1h-1zM387.4 115.0h1v1h-1zM405.8 121.9h1v1h-1zM418.6 125.2h1v1h-1zM400.6 115.9h1v1h-1zM413.4 125.8h1v1h-1zM396.5 116.0h1v1h-1zM423.8 123.2h1v1h-1zM436.8 105.1h1v1h-1zM404.8 121.2h1v1h-1zM390.3 102.0h1v1h-1zM405.0 122.8h1v1h-1zM439.6 115.7h1v1h-1zM426.9 118.5h1v1h-1zM401.0 119.0h1v1h-1zM418.2 125.0h1v1h-1zM382.3 81.5h1v1h-1zM423.1 121.0h1v1h-1zM398.7 118.0h1v1h-1zM441.1 112.0h1v1h-1zM408.2 124.3h1v1h-1zM440.5 111.3h1v1h-1zM403.3 114.4h1v1h-1zM399.4 120.9h1v1h-1zM430.3 112.9h1v1h-1zM437.4 116.7h1v1h-1zM382.1 109.0h1v1h-1zM401.0 118.5h1v1h-1zM397.9 120.2h1v1h-1zM447.7 103.2h1v1h-1zM444.5 97.8h1v1h-1zM385.6 100.1h1v1h-1zM393.0 112.1h1v1h-1zM431.1 107.8h1v1h-1zM388.4 114.6h1v1h-1zM427.2 118.5h1v1h-1zM432.4 117.0h1v1h-1zM401.6 122.0h1v1h-1zM446.6 93.2h1v1h-1zM429.7 112.5h1v1h-1zM428.5 119.6h1v1h-1zM437.0 114.7h1v1h-1zM383.3 94.5h1v1h-1zM395.6 118.3h1v1h-1zM436.4 118.1h1v1h-1zM418.2 126.1h1v1h-1zM449.2 87.8h1v1h-1zM443.5 110.9h1v1h-1zM431.1 116.8h1v1h-1zM399.8 119.9h1v1h-1zM435.3 115.5h1v1h-1zM447.3 98.7h1v1h-1zM424.6 121.9h1v1h-1zM391.4 108.9h1v1h-1zM388.9 100.6h1v1h-1zM396.2 112.3h1v1h-1zM398.0 109.4h1v1h-1zM427.0 115.0h1v1h-1zM413.1 126.1h1v1h-1zM383.9 103.0h1v1h-1zM421.6 122.8h1v1h-1zM406.2 123.4h1v1h-1zM429.7 121.4h1v1h-1zM410.6 125.4h1v1h-1zM408.1 123.6h1v1h-1zM425.6 122.2h1v1h-1zM425.8 122.0h1v1h-1zM384.2 89.7h1v1h-1zM440.7 114.3h1v1h-1zM423.1 124.2h1v1h-1zM389.1 103.0h1v1h-1zM381.5 101.2h1v1h-1zM400.9 116.6h1v1h-1zM407.5 124.4h1v1h-1zM439.3 112.3h1v1h-1zM424.3 122.6h1v1h-1zM406.8 123.5h1v1h-1zM392.4 112.6h1v1h-1zM428.3 118.3h1v1h-1zM432.3 116.8h1v1h-1zM422.3 123.7h1v1h-1zM437.8 114.9h1v1h-1zM416.9 126.2h1v1h-1zM439.7 111.2h1v1h-1zM441.3 115.0h1v1h-1zM430.2 120.9h1v1h-1zM446.7 112.4h1v1h-1zM416.8 126.2h1v1h-1zM406.8 119.8h1v1h-1zM421.1 124.5h1v1h-1zM417.2 125.8h1v1h-1zM399.6 116.5h1v1h-1zM426.0 120.8h1v1h-1zM427.9 115.5h1v1h-1zM403.9 120.9h1v1h-1zM392.0 105.6h1v1h-1zM426.8 122.8h1v1h-1zM423.6 123.0h1v1h-1zM400.7 117.5h1v1h-1zM396.5 119.4h1v1h-1zM419.5 124.9h1v1h-1zM430.4 118.4h1v1h-1zM439.0 110.1h1v1h-1zM393.0 117.2h1v1h-1zM417.1 125.4h1v1h-1zM424.1 122.7h1v1h-1zM426.8 121.2h1v1h-1zM396.8 114.5h1v1h-1zM391.6 110.4h1v1h-1zM426.6 122.1h1v1h-1zM408.9 124.8h1v1h-1zM445.7 106.4h1v1h-1zM388.3 111.3h1v1h-1zM418.5 125.8h1v1h-1zM410.1 124.6h1v1h-1zM385.2 111.0h1v1h-1zM433.2 116.9h1v1h-1zM402.2 119.2h1v1h-1zM395.7 115.8h1v1h-1zM442.6 111.5h1v1h-1zM421.9 123.9h1v1h-1zM387.3 91.7h1v1h-1zM418.5 125.7h1v1h-1zM392.4 116.1h1v1h-1zM424.6 121.4h1v1h-1zM410.4 125.4h1v1h-1zM438.0 109.8h1v1h-1zM426.2 119.2h1v1h-1zM392.5 112.3h1v1h-1zM415.5 126.8h1v1h-1zM406.8 120.6h1v1h-1zM402.2 121.9h1v1h-1zM393.1 116.3h1v1h-1zM430.4 115.7h1v1h-1zM428.0 121.0h1v1h-1zM409.6 125.3h1v1h-1zM414.3 126.7h1v1h-1zM422.3 124.5h1v1h-1zM423.1 122.4h1v1h-1zM402.0 106.5h1v1h-1zM424.8 121.0h1v1h-1zM405.5 123.6h1v1h-1zM418.4 125.8h1v1h-1zM410.4 125.4h1v1h-1zM422.1 124.4h1v1h-1zM415.3 126.6h1v1h-1zM417.8 125.8h1v1h-1zM395.4 108.2h1v1h-1zM405.4 122.1h1v1h-1zM404.2 122.3h1v1h-1zM404.7 121.7h1v1h-1zM399.8 119.1h1v1h-1zM420.9 122.2h1v1h-1zM434.9 111.7h1v1h-1zM389.9 112.1h1v1h-1zM441.8 92.2h1v1h-1zM423.2 121.3h1v1h-1zM410.8 125.6h1v1h-1zM385.1 106.0h1v1h-1zM437.4 117.4h1v1h-1zM417.8 125.6h1v1h-1zM426.7 122.7h1v1h-1zM434.1 118.1h1v1h-1zM408.1 122.1h1v1h-1zM400.6 117.4h1v1h-1zM434.9 117.2h1v1h-1zM409.0 124.4h1v1h-1zM422.8 123.5h1v1h-1zM385.9 107.9h1v1h-1zM401.8 116.7h1v1h-1zM441.5 109.5h1v1h-1zM441.3 115.5h1v1h-1zM434.5 119.2h1v1h-1zM378.3 108.2h1v1h-1zM423.0 123.1h1v1h-1zM428.1 121.9h1v1h-1zM383.7 110.2h1v1h-1zM424.3 123.1h1v1h-1zM412.5 125.4h1v1h-1zM396.6 116.8h1v1h-1zM430.8 108.5h1v1h-1zM409.6 124.8h1v1h-1zM437.7 112.5h1v1h-1zM420.1 125.5h1v1h-1zM423.5 124.2h1v1h-1zM427.0 116.1h1v1h-1zM409.1 125.2h1v1h-1zM400.4 118.7h1v1h-1zM424.9 120.8h1v1h-1zM436.4 107.6h1v1h-1zM420.4 125.1h1v1h-1zM444.1 100.6h1v1h-1zM388.1 114.7h1v1h-1zM402.1 117.0h1v1h-1zM409.2 123.8h1v1h-1zM419.5 124.8h1v1h-1zM412.7 125.7h1v1h-1zM449.5 105.9h1v1h-1zM424.2 122.7h1v1h-1zM419.8 125.1h1v1h-1zM396.9 113.7h1v1h-1zM436.7 115.7h1v1h-1zM392.5 111.7h1v1h-1zM408.7 123.7h1v1h-1zM434.6 116.7h1v1h-1zM413.4 126.2h1v1h-1zM406.1 120.5h1v1h-1zM387.8 102.6h1v1h-1zM395.9 114.2h1v1h-1zM440.0 111.9h1v1h-1zM442.9 103.7h1v1h-1zM401.9 119.6h1v1h-1zM421.0 124.5h1v1h-1zM415.6 126.7h1v1h-1zM415.2 126.8h1v1h-1zM420.3 122.6h1v1h-1zM417.9 126.1h1v1h-1zM400.3 114.3h1v1h-1zM398.4 110.7h1v1h-1zM438.2 98.9h1v1h-1zM414.5 126.4h1v1h-1zM430.7 116.0h1v1h-1zM419.8 124.9h1v1h-1zM411.8 125.5h1v1h-1zM404.3 120.2h1v1h-1zM405.0 119.2h1v1h-1zM433.5 104.3h1v1h-1zM423.1 122.6h1v1h-1zM403.9 120.9h1v1h-1zM409.9 124.0h1v1h-1zM379.5 110.4h1v1h-1zM415.4 126.8h1v1h-1zM441.0 115.8h1v1h-1zM439.7 71.4h1v1h-1zM389.4 100.3h1v1h-1zM411.9 125.8h1v1h-1zM408.4 123.1h1v1h-1zM405.3 123.6h1v1h-1zM428.7 121.1h1v1h-1zM425.6 122.6h1v1h-1zM444.4 110.4h1v1h-1zM398.7 120.6h1v1h-1zM437.3 117.2h1v1h-1zM411.6 125.9h1v1h-1zM386.0 98.7h1v1h-1zM411.6 125.1h1v1h-1zM434.8 117.7h1v1h-1zM398.9 120.3h1v1h-1zM435.7 92.0h1v1h-1zM426.0 116.3h1v1h-1zM406.3 123.6h1v1h-1zM424.6 122.5h1v1h-1zM409.7 125.1h1v1h-1zM403.1 121.3h1v1h-1zM389.4 112.8h1v1h-1zM419.4 125.5h1v1h-1zM426.8 120.6h1v1h-1zM412.6 126.3h1v1h-1zM385.9 112.5h1v1h-1zM406.9 124.0h1v1h-1zM410.8 123.5h1v1h-1zM408.0 124.7h1v1h-1zM416.9 126.2h1v1h-1zM390.8 104.0h1v1h-1zM418.4 125.7h1v1h-1zM441.0 109.5h1v1h-1zM411.9 125.9h1v1h-1zM407.6 124.7h1v1h-1zM415.1 126.8h1v1h-1zM442.1 113.3h1v1h-1zM420.4 124.0h1v1h-1zM393.7 118.2h1v1h-1zM418.3 125.8h1v1h-1zM391.7 115.5h1v1h-1zM430.2 121.0h1v1h-1zM444.7 113.0h1v1h-1zM443.8 104.0h1v1h-1zM420.0 125.3h1v1h-1zM384.9 93.9h1v1h-1zM426.6 122.6h1v1h-1zM398.6 119.1h1v1h-1zM435.2 108.3h1v1h-1zM390.8 112.0h1v1h-1zM420.3 124.2h1v1h-1zM422.7 123.9h1v1h-1zM387.4 111.8h1v1h-1zM429.4 120.7h1v1h-1zM426.5 121.9h1v1h-1zM398.2 111.4h1v1h-1zM384.1 111.5h1v1h-1zM389.4 110.9h1v1h-1zM436.3 114.3h1v1h-1zM419.1 125.7h1v1h-1zM405.8 124.0h1v1h-1zM387.7 106.1h1v1h-1zM436.1 117.0h1v1h-1zM433.6 118.6h1v1h-1zM408.0 123.2h1v1h-1zM413.3 126.4h1v1h-1zM438.6 102.9h1v1h-1zM446.7 111.1h1v1h-1zM426.7 119.9h1v1h-1zM444.0 107.1h1v1h-1zM387.6 112.5h1v1h-1zM406.0 121.0h1v1h-1zM381.6 111.3h1v1h-1zM402.2 121.6h1v1h-1zM422.6 119.9h1v1h-1zM422.9 121.8h1v1h-1zM412.0 125.4h1v1h-1zM437.9 78.5h1v1h-1zM402.4 116.5h1v1h-1zM443.7 109.8h1v1h-1zM426.3 122.6h1v1h-1zM405.2 123.7h1v1h-1zM411.3 125.1h1v1h-1zM416.6 126.0h1v1h-1zM417.2 126.1h1v1h-1zM403.9 119.5h1v1h-1zM425.7 122.9h1v1h-1zM416.9 123.2h1v1h-1zM434.7 118.5h1v1h-1zM430.6 117.7h1v1h-1zM422.9 124.0h1v1h-1zM401.7 113.4h1v1h-1zM413.5 126.4h1v1h-1zM422.2 124.3h1v1h-1zM412.5 126.3h1v1h-1zM422.0 124.2h1v1h-1zM416.5 126.5h1v1h-1zM437.8 104.9h1v1h-1zM423.9 121.7h1v1h-1zM449.0 94.3h1v1h-1zM438.8 115.1h1v1h-1zM419.4 124.2h1v1h-1zM404.3 120.7h1v1h-1zM412.5 125.8h1v1h-1zM393.2 115.9h1v1h-1zM435.1 103.2h1v1h-1zM424.3 122.1h1v1h-1zM424.3 116.0h1v1h-1zM380.0 108.9h1v1h-1zM420.2 125.2h1v1h-1zM426.6 120.2h1v1h-1zM407.6 123.5h1v1h-1zM395.6 118.6h1v1h-1zM441.0 109.8h1v1h-1zM430.9 118.4h1v1h-1zM395.3 117.6h1v1h-1zM383.2 92.3h1v1h-1zM400.8 116.6h1v1h-1zM391.7 111.3h1v1h-1zM447.6 110.8h1v1h-1zM408.9 125.1h1v1h-1zM421.3 121.4h1v1h-1zM446.7 97.2h1v1h-1zM394.3 118.2h1v1h-1zM426.3 119.9h1v1h-1zM407.4 120.2h1v1h-1zM385.6 109.7h1v1h-1zM407.4 124.2h1v1h-1zM404.7 119.8h1v1h-1zM415.0 126.7h1v1h-1zM403.7 122.1h1v1h-1zM381.8 111.7h1v1h-1zM402.2 116.2h1v1h-1zM397.2 119.3h1v1h-1zM433.0 113.9h1v1h-1zM416.6 126.1h1v1h-1zM417.0 126.3h1v1h-1zM432.1 114.5h1v1h-1zM424.9 122.1h1v1h-1zM410.7 125.9h1v1h-1zM407.0 124.1h1v1h-1zM422.8 119.7h1v1h-1zM440.1 108.4h1v1h-1zM388.0 105.7h1v1h-1zM424.6 122.7h1v1h-1zM425.7 118.6h1v1h-1zM399.3 118.1h1v1h-1zM434.7 110.7h1v1h-1zM400.7 121.8h1v1h-1zM434.1 108.5h1v1h-1zM389.1 99.5h1v1h-1zM420.7 123.5h1v1h-1zM424.4 123.9h1v1h-1zM406.2 123.6h1v1h-1zM397.9 118.2h1v1h-1zM407.3 123.2h1v1h-1zM429.5 119.4h1v1h-1zM420.1 125.5h1v1h-1zM436.3 116.5h1v1h-1zM405.7 122.3h1v1h-1zM430.1 118.8h1v1h-1zM394.2 109.0h1v1h-1zM441.7 115.6h1v1h-1zM428.3 120.8h1v1h-1zM404.8 123.5h1v1h-1zM422.3 123.5h1v1h-1zM425.4 120.7h1v1h-1zM429.4 121.4h1v1h-1zM381.1 108.9h1v1h-1zM438.8 116.0h1v1h-1zM424.7 122.2h1v1h-1zM423.0 119.3h1v1h-1zM433.8 112.4h1v1h-1zM413.4 126.3h1v1h-1zM392.6 116.1h1v1h-1zM395.5 104.7h1v1h-1zM423.9 123.1h1v1h-1zM403.1 121.2h1v1h-1zM414.6 126.7h1v1h-1zM402.1 117.4h1v1h-1zM405.6 120.9h1v1h-1zM403.4 120.2h1v1h-1zM428.5 120.8h1v1h-1zM410.7 124.8h1v1h-1zM390.6 113.8h1v1h-1zM389.4 114.7h1v1h-1zM404.3 122.9h1v1h-1zM437.1 110.9h1v1h-1zM394.9 110.5h1v1h-1zM427.0 122.9h1v1h-1zM389.5 108.4h1v1h-1zM442.5 111.4h1v1h-1zM433.6 113.4h1v1h-1zM386.3 108.2h1v1h-1zM421.1 125.0h1v1h-1zM381.1 87.4h1v1h-1zM402.6 120.9h1v1h-1zM390.9 112.0h1v1h-1zM433.0 113.2h1v1h-1zM424.7 122.4h1v1h-1zM399.7 121.2h1v1h-1zM421.1 123.9h1v1h-1zM392.4 108.0h1v1h-1zM420.9 124.8h1v1h-1zM402.0 115.5h1v1h-1zM439.1 101.0h1v1h-1zM412.6 126.0h1v1h-1zM427.9 121.5h1v1h-1zM438.7 114.0h1v1h-1zM394.5 110.4h1v1h-1zM391.2 116.9h1v1h-1zM410.2 125.1h1v1h-1zM390.6 99.6h1v1h-1zM428.3 121.3h1v1h-1zM393.1 113.8h1v1h-1zM414.1 126.6h1v1h-1zM399.1 120.6h1v1h-1zM423.4 123.5h1v1h-1zM431.6 106.5h1v1h-1zM425.8 115.3h1v1h-1zM390.5 106.7h1v1h-1zM402.1 120.9h1v1h-1zM420.1 124.5h1v1h-1zM390.9 102.4h1v1h-1zM395.2 118.0h1v1h-1zM387.0 89.9h1v1h-1zM426.8 121.6h1v1h-1zM442.3 100.9h1v1h-1zM421.3 121.9h1v1h-1zM392.9 117.1h1v1h-1zM418.8 125.0h1v1h-1zM413.1 126.5h1v1h-1zM447.9 111.4h1v1h-1zM398.3 120.4h1v1h-1zM407.7 122.0h1v1h-1zM444.2 88.5h1v1h-1zM421.7 124.2h1v1h-1zM413.2 126.4h1v1h-1zM437.0 117.0h1v1h-1zM443.2 106.4h1v1h-1zM428.5 115.6h1v1h-1zM407.6 124.4h1v1h-1zM381.0 110.6h1v1h-1zM447.1 110.2h1v1h-1zM407.4 123.2h1v1h-1zM395.8 118.9h1v1h-1zM436.0 113.0h1v1h-1zM405.6 120.1h1v1h-1zM402.2 119.2h1v1h-1zM435.6 105.5h1v1h-1zM387.5 110.8h1v1h-1zM411.3 125.4h1v1h-1zM434.2 117.7h1v1h-1zM425.8 121.1h1v1h-1zM419.4 125.5h1v1h-1zM434.0 114.3h1v1h-1zM433.0 113.1h1v1h-1zM383.8 109.6h1v1h-1zM411.6 125.3h1v1h-1zM429.8 120.6h1v1h-1zM441.5 110.4h1v1h-1zM445.1 113.1h1v1h-1zM389.5 96.1h1v1h-1zM413.4 126.3h1v1h-1zM405.7 123.5h1v1h-1zM431.1 120.7h1v1h-1zM398.0 116.9h1v1h-1zM404.1 122.1h1v1h-1zM425.5 123.2h1v1h-1zM428.2 121.7h1v1h-1zM398.7 116.2h1v1h-1zM412.7 126.0h1v1h-1zM439.6 113.9h1v1h-1zM430.8 120.5h1v1h-1zM447.4 98.6h1v1h-1zM440.7 107.3h1v1h-1zM444.4 104.1h1v1h-1zM447.7 111.8h1v1h-1zM395.1 115.6h1v1h-1zM417.9 126.1h1v1h-1zM425.5 123.3h1v1h-1zM437.5 96.8h1v1h-1zM418.9 125.6h1v1h-1zM394.8 116.0h1v1h-1zM393.0 115.5h1v1h-1zM404.3 121.4h1v1h-1zM388.8 114.0h1v1h-1zM401.4 121.3h1v1h-1zM434.9 114.5h1v1h-1zM426.5 116.1h1v1h-1zM386.9 114.1h1v1h-1zM445.9 83.9h1v1h-1zM433.8 114.5h1v1h-1zM428.4 119.4h1v1h-1zM424.1 122.3h1v1h-1zM399.7 120.5h1v1h-1zM428.5 121.0h1v1h-1zM430.2 113.6h1v1h-1zM402.8 91.7h1v1h-1zM437.2 112.0h1v1h-1zM396.5 113.4h1v1h-1zM383.6 111.6h1v1h-1zM419.6 124.7h1v1h-1zM406.1 121.8h1v1h-1zM394.2 109.2h1v1h-1zM420.2 125.4h1v1h-1zM429.8 117.5h1v1h-1zM420.6 124.6h1v1h-1zM393.4 111.3h1v1h-1zM398.2 116.5h1v1h-1zM404.8 120.4h1v1h-1zM398.5 115.6h1v1h-1zM408.2 123.8h1v1h-1zM389.6 115.2h1v1h-1zM424.9 123.6h1v1h-1zM425.9 118.2h1v1h-1zM397.1 118.6h1v1h-1zM439.9 110.3h1v1h-1zM440.5 114.0h1v1h-1zM421.6 122.5h1v1h-1zM441.9 115.0h1v1h-1zM414.6 126.2h1v1h-1zM444.2 113.8h1v1h-1zM433.3 117.4h1v1h-1zM389.1 103.8h1v1h-1zM433.2 118.1h1v1h-1zM426.5 113.8h1v1h-1zM423.0 122.6h1v1h-1zM422.1 124.5h1v1h-1zM432.7 119.6h1v1h-1zM410.8 125.0h1v1h-1zM429.1 119.6h1v1h-1zM434.2 106.5h1v1h-1zM395.6 118.5h1v1h-1zM403.7 121.0h1v1h-1zM432.3 119.6h1v1h-1zM412.2 125.7h1v1h-1zM383.8 86.9h1v1h-1zM409.6 124.9h1v1h-1zM438.8 115.8h1v1h-1zM438.1 113.3h1v1h-1zM424.0 124.1h1v1h-1zM392.1 99.7h1v1h-1zM442.6 105.6h1v1h-1zM439.2 113.9h1v1h-1zM440.7 115.9h1v1h-1zM407.9 124.4h1v1h-1zM421.8 124.6h1v1h-1zM436.0 113.0h1v1h-1zM431.0 112.3h1v1h-1zM429.1 121.2h1v1h-1zM434.9 108.7h1v1h-1zM411.2 125.7h1v1h-1zM440.2 111.6h1v1h-1zM394.5 103.6h1v1h-1zM399.0 114.9h1v1h-1zM393.5 116.4h1v1h-1zM432.8 112.4h1v1h-1zM422.0 124.1h1v1h-1zM396.6 118.9h1v1h-1zM426.5 122.1h1v1h-1zM390.5 114.2h1v1h-1zM418.1 125.8h1v1h-1zM437.8 112.5h1v1h-1zM393.7 116.9h1v1h-1zM406.9 122.3h1v1h-1zM423.5 123.1h1v1h-1zM425.6 118.3h1v1h-1zM425.7 118.4h1v1h-1zM447.0 111.1h1v1h-1zM428.5 119.1h1v1h-1zM428.1 102.4h1v1h-1zM419.2 125.6h1v1h-1zM422.1 121.9h1v1h-1zM441.8 115.4h1v1h-1zM384.6 98.4h1v1h-1zM397.0 119.9h1v1h-1zM405.2 119.8h1v1h-1zM399.2 115.0h1v1h-1zM403.5 119.2h1v1h-1zM404.3 121.7h1v1h-1zM423.7 121.1h1v1h-1zM409.3 124.5h1v1h-1zM392.8 113.9h1v1h-1zM420.4 124.8h1v1h-1zM432.0 110.7h1v1h-1zM384.6 109.0h1v1h-1zM433.0 120.0h1v1h-1zM387.0 87.2h1v1h-1zM425.1 118.6h1v1h-1zM431.0 119.4h1v1h-1zM442.1 114.2h1v1h-1zM424.5 121.5h1v1h-1zM413.6 126.1h1v1h-1zM433.6 119.1h1v1h-1zM393.2 114.7h1v1h-1zM397.4 116.4h1v1h-1zM420.1 125.0h1v1h-1zM411.0 125.1h1v1h-1zM423.6 119.9h1v1h-1zM426.2 122.7h1v1h-1zM417.3 126.0h1v1h-1zM404.0 116.4h1v1h-1zM444.6 113.5h1v1h-1zM438.9 114.2h1v1h-1zM396.1 118.8h1v1h-1zM437.5 97.3h1v1h-1zM444.1 102.4h1v1h-1zM390.4 80.0h1v1h-1zM421.2 123.8h1v1h-1zM421.9 124.2h1v1h-1zM397.7 111.0h1v1h-1zM399.2 117.7h1v1h-1zM406.0 122.6h1v1h-1zM429.1 120.8h1v1h-1zM428.4 117.2h1v1h-1zM401.7 118.0h1v1h-1zM415.0 126.8h1v1h-1zM420.8 124.9h1v1h-1zM418.7 125.9h1v1h-1zM403.3 122.5h1v1h-1zM398.3 118.0h1v1h-1zM444.1 108.2h1v1h-1zM410.6 124.3h1v1h-1zM403.3 120.5h1v1h-1zM412.9 126.3h1v1h-1zM379.4 107.5h1v1h-1zM431.5 115.6h1v1h-1zM406.0 121.3h1v1h-1zM435.4 109.9h1v1h-1zM423.8 122.1h1v1h-1zM429.5 121.0h1v1h-1zM384.1 95.0h1v1h-1zM436.2 116.0h1v1h-1zM420.6 124.0h1v1h-1zM394.2 117.8h1v1h-1zM408.9 124.4h1v1h-1zM408.2 124.2h1v1h-1zM439.5 106.8h1v1h-1zM438.4 112.0h1v1h-1zM427.8 118.9h1v1h-1zM390.2 94.6h1v1h-1zM395.8 117.8h1v1h-1zM430.1 114.3h1v1h-1zM395.8 119.0h1v1h-1zM437.2 115.9h1v1h-1zM422.6 124.4h1v1h-1zM418.7 124.2h1v1h-1zM414.8 82.5h1v1h-1zM434.4 115.5h1v1h-1zM432.8 111.8h1v1h-1zM443.6 87.4h1v1h-1zM406.1 121.9h1v1h-1zM415.8 126.5h1v1h-1zM409.9 125.2h1v1h-1zM432.0 115.9h1v1h-1zM387.2 114.1h1v1h-1zM397.7 119.7h1v1h-1zM399.9 120.5h1v1h-1zM427.5 119.0h1v1h-1zM420.4 113.5h1v1h-1zM448.4 78.6h1v1h-1zM410.9 125.2h1v1h-1zM393.7 106.7h1v1h-1zM404.1 122.6h1v1h-1zM412.9 126.3h1v1h-1zM434.2 119.3h1v1h-1zM398.2 112.0h1v1h-1zM427.4 121.5h1v1h-1zM420.5 124.9h1v1h-1zM389.0 106.8h1v1h-1zM411.0 124.5h1v1h-1zM387.4 93.4h1v1h-1zM404.0 120.5h1v1h-1zM422.3 121.1h1v1h-1zM435.9 117.0h1v1h-1zM423.4 123.0h1v1h-1zM422.0 123.4h1v1h-1zM421.1 115.4h1v1h-1zM385.6 113.0h1v1h-1zM404.1 122.2h1v1h-1zM408.0 123.7h1v1h-1zM404.7 118.8h1v1h-1zM392.8 112.7h1v1h-1zM388.5 112.4h1v1h-1zM403.4 122.2h1v1h-1zM430.9 114.3h1v1h-1zM411.7 125.8h1v1h-1zM419.5 125.1h1v1h-1zM411.5 124.8h1v1h-1zM406.4 118.7h1v1h-1zM406.4 124.2h1v1h-1zM417.0 126.0h1v1h-1zM399.8 119.3h1v1h-1zM438.1 111.7h1v1h-1zM425.4 120.6h1v1h-1zM425.3 122.5h1v1h-1zM382.9 109.0h1v1h-1zM431.0 102.0h1v1h-1zM400.6 121.0h1v1h-1zM425.2 119.9h1v1h-1zM435.1 109.1h1v1h-1zM404.7 122.0h1v1h-1zM448.2 92.3h1v1h-1zM401.5 120.4h1v1h-1zM398.0 114.1h1v1h-1zM421.3 123.9h1v1h-1zM442.8 114.3h1v1h-1zM392.5 107.4h1v1h-1zM397.5 108.0h1v1h-1zM418.6 125.5h1v1h-1zM420.8 125.1h1v1h-1zM408.3 123.9h1v1h-1zM388.5 112.9h1v1h-1zM424.0 122.0h1v1h-1zM420.2 125.3h1v1h-1zM407.9 123.2h1v1h-1zM418.9 125.1h1v1h-1zM381.4 105.9h1v1h-1zM405.0 120.6h1v1h-1zM415.6 126.6h1v1h-1zM432.1 113.7h1v1h-1zM423.9 122.7h1v1h-1zM421.0 121.6h1v1h-1zM393.8 113.6h1v1h-1zM380.9 94.4h1v1h-1zM385.8 113.7h1v1h-1zM413.4 126.5h1v1h-1zM397.9 116.8h1v1h-1zM410.5 124.8h1v1h-1zM429.1 117.9h1v1h-1zM397.7 117.9h1v1h-1zM405.5 123.6h1v1h-1zM435.6 116.4h1v1h-1zM411.3 125.3h1v1h-1zM420.2 125.0h1v1h-1zM432.5 119.1h1v1h-1zM420.6 124.7h1v1h-1zM413.7 126.0h1v1h-1zM423.1 124.3h1v1h-1zM397.2 118.0h1v1h-1zM401.4 117.9h1v1h-1zM432.1 119.7h1v1h-1zM417.4 126.2h1v1h-1zM442.8 113.2h1v1h-1zM402.1 116.1h1v1h-1zM401.9 119.0h1v1h-1zM411.7 125.8h1v1h-1zM403.0 121.7h1v1h-1zM402.3 122.6h1v1h-1zM402.2 122.5h1v1h-1zM390.1 103.0h1v1h-1zM416.2 126.2h1v1h-1zM419.9 123.6h1v1h-1zM395.4 111.3h1v1h-1zM422.3 123.3h1v1h-1zM404.6 122.2h1v1h-1zM418.0 126.1h1v1h-1zM395.1 117.6h1v1h-1zM417.9 126.0h1v1h-1zM411.9 125.4h1v1h-1zM428.4 122.0h1v1h-1zM416.9 126.0h1v1h-1zM407.3 123.9h1v1h-1zM397.2 115.8h1v1h-1zM444.1 110.9h1v1h-1zM441.4 91.0h1v1h-1zM434.7 116.6h1v1h-1zM437.1 113.9h1v1h-1zM429.6 116.0h1v1h-1zM397.0 112.5h1v1h-1zM444.4 103.3h1v1h-1zM395.4 118.6h1v1h-1zM417.0 125.8h1v1h-1zM442.2 115.0h1v1h-1zM405.9 120.1h1v1h-1zM419.8 125.1h1v1h-1zM418.9 125.1h1v1h-1zM415.7 126.7h1v1h-1zM396.4 117.4h1v1h-1zM430.0 120.8h1v1h-1zM446.3 102.3h1v1h-1zM423.2 122.4h1v1h-1zM420.0 124.3h1v1h-1zM429.4 120.4h1v1h-1zM413.0 126.1h1v1h-1zM396.3 113.7h1v1h-1zM401.3 120.1h1v1h-1zM424.1 120.3h1v1h-1zM401.3 121.1h1v1h-1zM408.5 123.6h1v1h-1zM411.2 125.6h1v1h-1zM426.2 122.9h1v1h-1zM430.0 114.3h1v1h-1zM428.7 121.5h1v1h-1zM391.1 96.2h1v1h-1zM427.5 122.4h1v1h-1zM424.5 118.7h1v1h-1zM386.2 105.8h1v1h-1zM424.9 122.6h1v1h-1zM401.9 120.2h1v1h-1zM390.1 113.4h1v1h-1zM434.4 110.0h1v1h-1zM423.2 121.8h1v1h-1zM426.2 121.3h1v1h-1zM405.6 123.1h1v1h-1zM444.5 105.0h1v1h-1zM405.8 123.5h1v1h-1zM435.5 116.5h1v1h-1zM398.8 120.4h1v1h-1zM441.9 100.8h1v1h-1zM428.8 121.7h1v1h-1zM432.9 119.5h1v1h-1zM408.7 124.3h1v1h-1zM434.1 119.3h1v1h-1zM406.6 123.1h1v1h-1zM401.2 119.5h1v1h-1zM422.6 122.7h1v1h-1zM413.4 126.3h1v1h-1zM410.9 125.1h1v1h-1zM429.6 118.2h1v1h-1zM415.6 126.8h1v1h-1zM383.2 111.1h1v1h-1zM437.2 115.2h1v1h-1zM398.0 117.9h1v1h-1zM395.3 116.2h1v1h-1zM399.8 118.8h1v1h-1zM425.2 121.9h1v1h-1zM394.5 115.1h1v1h-1zM402.4 121.7h1v1h-1zM421.0 124.8h1v1h-1zM410.7 125.5h1v1h-1zM448.5 111.4h1v1h-1zM385.8 105.5h1v1h-1zM399.0 114.8h1v1h-1zM428.1 103.5h1v1h-1zM443.5 114.0h1v1h-1zM432.5 114.6h1v1h-1zM442.7 114.3h1v1h-1zM417.5 126.1h1v1h-1zM401.2 121.5h1v1h-1zM424.9 123.1h1v1h-1zM431.7 120.1h1v1h-1zM396.1 111.0h1v1h-1zM379.6 109.5h1v1h-1zM424.6 123.9h1v1h-1zM412.3 125.5h1v1h-1zM407.4 120.0h1v1h-1zM397.6 120.3h1v1h-1zM387.0 112.8h1v1h-1zM422.1 123.8h1v1h-1zM432.2 120.0h1v1h-1zM421.0 124.8h1v1h-1zM427.6 120.8h1v1h-1zM392.8 116.0h1v1h-1zM397.6 118.8h1v1h-1zM399.0 120.6h1v1h-1zM404.7 122.1h1v1h-1zM423.8 123.2h1v1h-1zM429.1 119.4h1v1h-1zM429.6 119.8h1v1h-1zM407.5 124.4h1v1h-1zM446.9 105.2h1v1h-1zM415.6 126.6h1v1h-1zM418.8 125.1h1v1h-1zM452.1 108.3h1v1h-1zM403.1 120.4h1v1h-1zM437.5 111.8h1v1h-1zM422.5 123.5h1v1h-1zM420.1 123.3h1v1h-1zM395.3 112.9h1v1h-1zM412.7 126.4h1v1h-1zM385.2 107.1h1v1h-1zM425.1 119.4h1v1h-1zM425.2 118.6h1v1h-1zM393.0 115.2h1v1h-1zM381.4 109.1h1v1h-1zM399.4 111.8h1v1h-1zM426.1 123.1h1v1h-1zM393.6 103.5h1v1h-1zM425.0 120.8h1v1h-1zM404.9 119.0h1v1h-1zM421.4 124.4h1v1h-1zM393.1 117.7h1v1h-1zM426.4 122.4h1v1h-1zM428.4 117.2h1v1h-1zM417.9 125.7h1v1h-1zM418.9 125.4h1v1h-1zM403.2 120.5h1v1h-1zM412.2 125.7h1v1h-1zM384.7 110.8h1v1h-1zM407.9 122.7h1v1h-1zM387.8 108.1h1v1h-1zM421.6 124.2h1v1h-1zM422.6 124.1h1v1h-1zM419.7 123.2h1v1h-1zM414.2 126.5h1v1h-1zM429.0 121.2h1v1h-1zM410.4 123.1h1v1h-1zM402.2 116.3h1v1h-1zM412.0 125.7h1v1h-1zM419.8 125.0h1v1h-1zM394.9 100.6h1v1h-1zM405.4 120.0h1v1h-1zM401.7 121.5h1v1h-1zM400.1 120.0h1v1h-1zM410.3 124.0h1v1h-1zM410.0 124.7h1v1h-1zM390.6 63.6h1v1h-1zM430.7 67.6h1v1h-1zM442.8 78.7h1v1h-1zM404.6 80.7h1v1h-1zM435.9 90.7h1v1h-1zM394.1 87.7h1v1h-1zM420.2 95.7h1v1h-1z" fill="#4a4a4a" fill-opacity="0.75"/>
<path d="M452.7 98.9h.9v.9h-.9zM451.1 104.3h.9v.9h-.9zM452.0 105.1h.9v.9h-.9zM450.4 79.3h.9v.9h-.9zM450.6 91.0h.9v.9h-.9zM451.2 88.4h.9v.9h-.9zM452.0 103.1h.9v.9h-.9zM451.0 72.7h.9v.9h-.9zM452.1 102.0h.9v.9h-.9zM452.0 87.2h.9v.9h-.9zM450.0 100.8h.9v.9h-.9zM372.3 98.9h.9v.9h-.9zM369.3 104.8h.9v.9h-.9zM375.8 101.0h.9v.9h-.9zM377.1 106.3h.9v.9h-.9zM372.0 104.9h.9v.9h-.9zM366.6 104.6h.9v.9h-.9zM372.1 73.7h.9v.9h-.9zM377.0 94.7h.9v.9h-.9zM375.5 71.2h.9v.9h-.9zM372.8 104.0h.9v.9h-.9zM366.9 89.0h.9v.9h-.9zM372.5 97.8h.9v.9h-.9zM369.8 104.6h.9v.9h-.9zM372.3 78.3h.9v.9h-.9zM379.1 105.0h.9v.9h-.9zM378.6 96.8h.9v.9h-.9zM371.8 104.5h.9v.9h-.9zM373.9 93.7h.9v.9h-.9zM372.4 98.8h.9v.9h-.9zM371.8 105.2h.9v.9h-.9zM371.6 99.8h.9v.9h-.9zM376.4 54.7h.9v.9h-.9zM369.1 92.4h.9v.9h-.9zM376.0 102.9h.9v.9h-.9zM456.5 103.3h.9v.9h-.9zM460.8 99.2h.9v.9h-.9zM452.5 105.1h.9v.9h-.9zM460.9 89.3h.9v.9h-.9zM460.0 63.0h.9v.9h-.9zM453.2 96.7h.9v.9h-.9zM452.3 103.3h.9v.9h-.9zM464.8 104.1h.9v.9h-.9zM451.7 106.0h.9v.9h-.9zM462.7 106.7h.9v.9h-.9z" fill="#f07070" fill-opacity="0.45"/>
<g stroke="#333" stroke-width="0.6" fill="none">
<path d="M357.8 36.6V132.3H468.7"/>
<path d="M355.9 127.4H357.8"/>
<path d="M355.9 117.4H357.8"/>
<path d="M355.9 107.3H357.8"/>
<path d="M355.9 97.2H357.8"/>
<path d="M355.9 87.2H357.8"/>
<path d="M355.9 77.2H357.8"/>
<path d="M355.9 67.1H357.8"/>
<path d="M355.9 57.0H357.8"/>
<path d="M355.9 47.0H357.8"/>
<path d="M355.9 37.0H357.8"/>
<path d="M363.3 132.3V134.2"/>
<path d="M380.7 132.3V134.2"/>
<path d="M398.1 132.3V134.2"/>
<path d="M415.5 132.3V134.2"/>
<path d="M432.9 132.3V134.2"/>
<path d="M450.3 132.3V134.2"/>
<path d="M467.7 132.3V134.2"/>
</g>
<g stroke="#333" stroke-width="0.6" stroke-dasharray="2.3,1.45" fill="none">
<path d="M380.7 36.6V132.3" stroke="#8a8a8a" stroke-width="0.7"/><path d="M450.3 36.6V132.3M357.8 107.3H468.7"/>
</g>
<text transform="translate(355.0,129.5) scale(1,1.05) scale(0.1)" font-size="58.0" text-anchor="end" >0</text>
<text transform="translate(355.0,119.45) scale(1,1.05) scale(0.1)" font-size="58.0" text-anchor="end" >1</text>
<text transform="translate(355.0,109.4) scale(1,1.05) scale(0.1)" font-size="58.0" text-anchor="end" >2</text>
<text transform="translate(355.0,99.35) scale(1,1.05) scale(0.1)" font-size="58.0" text-anchor="end" >3</text>
<text transform="translate(355.0,89.3) scale(1,1.05) scale(0.1)" font-size="58.0" text-anchor="end" >4</text>
<text transform="translate(355.0,79.25) scale(1,1.05) scale(0.1)" font-size="58.0" text-anchor="end" >5</text>
<text transform="translate(355.0,69.19999999999999) scale(1,1.05) scale(0.1)" font-size="58.0" text-anchor="end" >6</text>
<text transform="translate(355.0,59.15) scale(1,1.05) scale(0.1)" font-size="58.0" text-anchor="end" >7</text>
<text transform="translate(355.0,49.1) scale(1,1.05) scale(0.1)" font-size="58.0" text-anchor="end" >8</text>
<text transform="translate(355.0,39.050000000000004) scale(1,1.05) scale(0.1)" font-size="58.0" text-anchor="end" >9</text>
<text transform="translate(362.1,141.3) scale(1,1.05) scale(0.1)" font-size="58.0" text-anchor="middle" >−3</text>
<text transform="translate(379.5,141.3) scale(1,1.05) scale(0.1)" font-size="58.0" text-anchor="middle" >−2</text>
<text transform="translate(396.90000000000003,141.3) scale(1,1.05) scale(0.1)" font-size="58.0" text-anchor="middle" >−1</text>
<text transform="translate(415.5,141.3) scale(1,1.05) scale(0.1)" font-size="58.0" text-anchor="middle" >0</text>
<text transform="translate(432.9,141.3) scale(1,1.05) scale(0.1)" font-size="58.0" text-anchor="middle" >1</text>
<text transform="translate(450.3,141.3) scale(1,1.05) scale(0.1)" font-size="58.0" text-anchor="middle" >2</text>
<text transform="translate(467.7,141.3) scale(1,1.05) scale(0.1)" font-size="58.0" text-anchor="middle" >3</text>
<text transform="translate(386,151.6) scale(1,1.1) scale(0.1)" font-size="60.0">log<tspan font-size="43.0" dy="15.0">2</tspan><tspan dy="-15.0" dx="4.0">(FC</tspan><tspan font-size="44.0" dy="16.0">H3K27ac count</tspan><tspan dy="-16.0">)</tspan></text>
<text transform="translate(451.8,130.6) scale(1,1.05) scale(0.1)" font-size="50.0" >#SEs = 2669</text>
<text transform="translate(346.2,79.7) rotate(-90) scale(1,1.1) scale(0.1)" font-size="60.0" text-anchor="middle">−log<tspan font-size="38.0" dy="13.0">10</tspan><tspan dy="-13.0">(</tspan><tspan font-style="italic">P</tspan>−adj)</text>
<text transform="translate(199.3,80.7) rotate(-90) scale(1,1.1) scale(0.1)" font-size="60.0" text-anchor="middle">−log<tspan font-size="38.0" dy="13.0">10</tspan><tspan dy="-13.0">(</tspan><tspan font-style="italic">P</tspan>−adj)</text>
<g stroke="#333" stroke-width="0.6" fill="none"><path d="M367 28H463M415.3 26.3V29.7"/></g>
<path d="M365.3 28L369.7 26.2V29.8Z" fill="#333"/><path d="M464.8 28L460.4 26.2V29.8Z" fill="#333"/>
<text transform="translate(384.7,15.4) scale(1,1.05) scale(0.1)" font-size="60.0" text-anchor="middle" >SE upregulated</text>
<text transform="translate(384.9,22.6) scale(1,1.05) scale(0.1)" font-size="60.0" text-anchor="middle" >in GC B cells</text>
<text transform="translate(446,15.4) scale(1,1.05) scale(0.1)" font-size="60.0" text-anchor="middle" >SE upregulated</text>
<text transform="translate(445.4,22.6) scale(1,1.05) scale(0.1)" font-size="60.0" text-anchor="middle" >in CLL</text>
<circle cx="372.6" cy="64.8" r="0.95" fill="#6a1818"/>
<text transform="translate(363.2,63.2) scale(1,1.05) scale(0.1)" font-size="50.0" >BCL7A</text>
<circle cx="377.2" cy="103.9" r="0.95" fill="#6a1818"/>
<text transform="translate(360.3,100.4) scale(1,1.05) scale(0.1)" font-size="50.0" >MEF2B</text>
<circle cx="456.8" cy="94" r="0.95" fill="#6a1818"/>
<text transform="translate(458.3,94.1) scale(1,1.05) scale(0.1)" font-size="50.0" >BCL2</text>
<circle cx="455.1" cy="102" r="0.95" fill="#6a1818"/>
<text transform="translate(457.3,102.1) scale(1,1.05) scale(0.1)" font-size="50.0" >LEF1</text>
<text transform="translate(130.5,181.2) scale(1,1.05) scale(0.1)" font-size="60.8" text-anchor="middle" >Enriched KEGG pathways at</text>
<text transform="translate(130.3,188.6) scale(1,1.05) scale(0.1)" font-size="60.8" text-anchor="middle" >differentially regulated</text>
<text transform="translate(130.9,195.9) scale(1,1.05) scale(0.1)" font-size="60.8" text-anchor="middle" >super-enhancers</text>
<rect x="93.2" y="199.1" width="76.5" height="9.7" fill="#595959"/>
<text transform="translate(87.0,205.0) scale(1,1.05) scale(0.1)" font-size="51.0" text-anchor="end" >B cell receptor signaling pathway</text>
<rect x="93.2" y="210.4" width="39.8" height="9.7" fill="#595959"/>
<text transform="translate(87.0,216.35) scale(1,1.05) scale(0.1)" font-size="51.0" text-anchor="end" >p53 signaling pathway</text>
<rect x="93.2" y="221.8" width="34.7" height="9.7" fill="#595959"/>
<text transform="translate(87.0,227.7) scale(1,1.05) scale(0.1)" font-size="51.0" text-anchor="end" >NF−kappa B signaling pathway</text>
<rect x="93.2" y="233.1" width="31.3" height="9.7" fill="#595959"/>
<text transform="translate(87.0,239.04999999999998) scale(1,1.05) scale(0.1)" font-size="51.0" text-anchor="end" >Transcriptional misregulation in cancer</text>
<rect x="93.2" y="244.5" width="31.3" height="9.7" fill="#595959"/>
<text transform="translate(87.0,250.4) scale(1,1.05) scale(0.1)" font-size="51.0" text-anchor="end" >TNF signaling pathway</text>
<rect x="93.2" y="255.8" width="17.2" height="9.7" fill="#595959"/>
<text transform="translate(87.0,261.75) scale(1,1.05) scale(0.1)" font-size="51.0" text-anchor="end" >MAPK signaling pathway</text>
<g stroke="#333" stroke-width="0.55" fill="none">
<path d="M89.6 198V268.5H162.4"/>
<path d="M87.6 203.9H89.6"/>
<path d="M87.6 215.2H89.6"/>
<path d="M87.6 226.6H89.6"/>
<path d="M87.6 237.9H89.6"/>
<path d="M87.6 249.3H89.6"/>
<path d="M87.6 260.6H89.6"/>
<path d="M93.5 268.5V270.3"/>
<path d="M116.2 268.5V270.3"/>
<path d="M138.8 268.5V270.3"/>
<path d="M161.5 268.5V270.3"/>
</g>
<text transform="translate(93.5,278.4) scale(1,1.05) scale(0.1)" font-size="58.0" text-anchor="middle" >0</text>
<text transform="translate(116.16,278.4) scale(1,1.05) scale(0.1)" font-size="58.0" text-anchor="middle" >2</text>
<text transform="translate(138.82,278.4) scale(1,1.05) scale(0.1)" font-size="58.0" text-anchor="middle" >4</text>
<text transform="translate(161.48000000000002,278.4) scale(1,1.05) scale(0.1)" font-size="58.0" text-anchor="middle" >6</text>
<text transform="translate(109.3,288.3) scale(1,1.1) scale(0.1)" font-size="58.0">−log<tspan font-size="38.0" dy="13.0">10</tspan><tspan dy="-13.0">(FDR)</tspan></text>
<text transform="translate(213,177.5) scale(1,1.05) scale(0.1)" font-size="61.2" >De novo motifs, <tspan font-style="italic">n</tspan> = 310</text>
<g fill="none" stroke-width="0.6">
<path d="M208.5 179.2V280.6H329.4" stroke="#444"/>
<path d="M201.8 179.2V274" stroke="#cfcfcf" stroke-width="1"/>
<path d="M215 286.9H329.4" stroke="#cfcfcf" stroke-width="1"/>
</g>
<path d="M201.9 275.6L200.4 271.7H203.4Z" fill="#222"/>
<path d="M213.2 286.7L217.3 285.3V288.1Z" fill="#222"/>
<text transform="translate(207.7,179.2) rotate(-90) scale(1,1.1) scale(0.1)" font-size="60.0" text-anchor="end">0</text>
<text transform="translate(207.4,225.2) rotate(-90) scale(1,1.1) scale(0.1)" font-size="61.0" text-anchor="middle">Rank</text>
<text transform="translate(207.0,272.1) rotate(-90) scale(1,1.1) scale(0.1)" font-size="60.0" text-anchor="start">300</text>
<text transform="translate(222,285.6) scale(1,1.05) scale(0.1)" font-size="58.0" text-anchor="middle" >300</text>
<text transform="translate(279,285.6) scale(1,1.05) scale(0.1)" font-size="58.0" text-anchor="middle" >Rank</text>
<text transform="translate(329.4,285.6) scale(1,1.05) scale(0.1)" font-size="58.0" text-anchor="middle" >0</text>
<text transform="translate(272.8,295.8) scale(1,1.05) scale(0.1)" font-size="62.5" text-anchor="middle" >TF motif enrichement at super-</text>
<text transform="translate(273.2,303) scale(1,1.05) scale(0.1)" font-size="60.5" text-anchor="middle" >enhancers in CLL</text>
<text transform="translate(188.3,227.9) rotate(-90) scale(0.1)" font-size="60.5" text-anchor="middle">TF motif enrichment at super-</text>
<text transform="translate(196.1,227.45) rotate(-90) scale(0.1)" font-size="61.0" text-anchor="middle">enhancers in naive B cells</text>
<path d="M272.9 221.3a1.0 1.0 0 1 0 2.0 0a1.0 1.0 0 1 0 -2.0 0M266.6 226.3a1.0 1.0 0 1 0 2.0 0a1.0 1.0 0 1 0 -2.0 0M311.4 189.2a1.0 1.0 0 1 0 2.0 0a1.0 1.0 0 1 0 -2.0 0M315.0 188.0a1.0 1.0 0 1 0 2.0 0a1.0 1.0 0 1 0 -2.0 0M271.1 218.1a1.0 1.0 0 1 0 2.0 0a1.0 1.0 0 1 0 -2.0 0M239.2 249.1a1.0 1.0 0 1 0 2.0 0a1.0 1.0 0 1 0 -2.0 0M253.6 230.9a1.0 1.0 0 1 0 2.0 0a1.0 1.0 0 1 0 -2.0 0M258.7 225.7a1.0 1.0 0 1 0 2.0 0a1.0 1.0 0 1 0 -2.0 0M230.1 256.2a1.0 1.0 0 1 0 2.0 0a1.0 1.0 0 1 0 -2.0 0M225.1 261.1a1.0 1.0 0 1 0 2.0 0a1.0 1.0 0 1 0 -2.0 0M216.6 271.0a1.0 1.0 0 1 0 2.0 0a1.0 1.0 0 1 0 -2.0 0M289.0 208.0a1.0 1.0 0 1 0 2.0 0a1.0 1.0 0 1 0 -2.0 0M295.0 210.0a1.0 1.0 0 1 0 2.0 0a1.0 1.0 0 1 0 -2.0 0M301.0 200.0a1.0 1.0 0 1 0 2.0 0a1.0 1.0 0 1 0 -2.0 0M305.0 196.0a1.0 1.0 0 1 0 2.0 0a1.0 1.0 0 1 0 -2.0 0M309.0 193.0a1.0 1.0 0 1 0 2.0 0a1.0 1.0 0 1 0 -2.0 0M319.0 186.0a1.0 1.0 0 1 0 2.0 0a1.0 1.0 0 1 0 -2.0 0M257.0 235.0a1.0 1.0 0 1 0 2.0 0a1.0 1.0 0 1 0 -2.0 0M251.0 241.0a1.0 1.0 0 1 0 2.0 0a1.0 1.0 0 1 0 -2.0 0M235.0 252.0a1.0 1.0 0 1 0 2.0 0a1.0 1.0 0 1 0 -2.0 0M221.0 265.0a1.0 1.0 0 1 0 2.0 0a1.0 1.0 0 1 0 -2.0 0M263.0 229.0a1.0 1.0 0 1 0 2.0 0a1.0 1.0 0 1 0 -2.0 0M279.0 215.0a1.0 1.0 0 1 0 2.0 0a1.0 1.0 0 1 0 -2.0 0M285.0 203.0a1.0 1.0 0 1 0 2.0 0a1.0 1.0 0 1 0 -2.0 0" fill="#dedefb"/>
<path d="M305.0 205.4a1.0 1.0 0 1 0 2.0 0a1.0 1.0 0 1 0 -2.0 0M308.5 205.4a1.0 1.0 0 1 0 2.0 0a1.0 1.0 0 1 0 -2.0 0M314.2 197.7a1.0 1.0 0 1 0 2.0 0a1.0 1.0 0 1 0 -2.0 0M293.7 222.8a1.0 1.0 0 1 0 2.0 0a1.0 1.0 0 1 0 -2.0 0M288.8 222.1a1.0 1.0 0 1 0 2.0 0a1.0 1.0 0 1 0 -2.0 0M233.6 266.8a1.0 1.0 0 1 0 2.0 0a1.0 1.0 0 1 0 -2.0 0M239.2 268.2a1.0 1.0 0 1 0 2.0 0a1.0 1.0 0 1 0 -2.0 0M233.6 270.3a1.0 1.0 0 1 0 2.0 0a1.0 1.0 0 1 0 -2.0 0M228.7 272.4a1.0 1.0 0 1 0 2.0 0a1.0 1.0 0 1 0 -2.0 0M223.7 270.3a1.0 1.0 0 1 0 2.0 0a1.0 1.0 0 1 0 -2.0 0M275.4 233.2a1.0 1.0 0 1 0 2.0 0a1.0 1.0 0 1 0 -2.0 0M277.9 234.5a1.0 1.0 0 1 0 2.0 0a1.0 1.0 0 1 0 -2.0 0M273.5 228.8a1.0 1.0 0 1 0 2.0 0a1.0 1.0 0 1 0 -2.0 0M284.0 226.0a1.0 1.0 0 1 0 2.0 0a1.0 1.0 0 1 0 -2.0 0M299.0 220.0a1.0 1.0 0 1 0 2.0 0a1.0 1.0 0 1 0 -2.0 0M309.0 210.0a1.0 1.0 0 1 0 2.0 0a1.0 1.0 0 1 0 -2.0 0M317.0 200.0a1.0 1.0 0 1 0 2.0 0a1.0 1.0 0 1 0 -2.0 0M321.0 192.0a1.0 1.0 0 1 0 2.0 0a1.0 1.0 0 1 0 -2.0 0M261.0 244.0a1.0 1.0 0 1 0 2.0 0a1.0 1.0 0 1 0 -2.0 0M267.0 236.0a1.0 1.0 0 1 0 2.0 0a1.0 1.0 0 1 0 -2.0 0M281.0 228.0a1.0 1.0 0 1 0 2.0 0a1.0 1.0 0 1 0 -2.0 0M229.0 268.0a1.0 1.0 0 1 0 2.0 0a1.0 1.0 0 1 0 -2.0 0M243.0 255.0a1.0 1.0 0 1 0 2.0 0a1.0 1.0 0 1 0 -2.0 0M249.0 248.0a1.0 1.0 0 1 0 2.0 0a1.0 1.0 0 1 0 -2.0 0M257.0 243.0a1.0 1.0 0 1 0 2.0 0a1.0 1.0 0 1 0 -2.0 0" fill="#fcdcd4"/>
<path d="M269.0 211.9a1.1 1.1 0 1 0 2.2 0a1.1 1.1 0 1 0 -2.2 0M272.1 210.3a1.1 1.1 0 1 0 2.2 0a1.1 1.1 0 1 0 -2.2 0M277.8 208.8a1.1 1.1 0 1 0 2.2 0a1.1 1.1 0 1 0 -2.2 0M275.3 212.5a1.1 1.1 0 1 0 2.2 0a1.1 1.1 0 1 0 -2.2 0M265.0 215.0a1.1 1.1 0 1 0 2.2 0a1.1 1.1 0 1 0 -2.2 0M266.5 217.5a1.1 1.1 0 1 0 2.2 0a1.1 1.1 0 1 0 -2.2 0M269.0 218.5a1.1 1.1 0 1 0 2.2 0a1.1 1.1 0 1 0 -2.2 0M270.9 216.5a1.1 1.1 0 1 0 2.2 0a1.1 1.1 0 1 0 -2.2 0M276.5 216.0a1.1 1.1 0 1 0 2.2 0a1.1 1.1 0 1 0 -2.2 0M260.9 223.8a1.1 1.1 0 1 0 2.2 0a1.1 1.1 0 1 0 -2.2 0M262.7 223.6a1.1 1.1 0 1 0 2.2 0a1.1 1.1 0 1 0 -2.2 0M262.1 226.3a1.1 1.1 0 1 0 2.2 0a1.1 1.1 0 1 0 -2.2 0M258.3 230.0a1.1 1.1 0 1 0 2.2 0a1.1 1.1 0 1 0 -2.2 0M252.7 230.7a1.1 1.1 0 1 0 2.2 0a1.1 1.1 0 1 0 -2.2 0M253.9 232.8a1.1 1.1 0 1 0 2.2 0a1.1 1.1 0 1 0 -2.2 0M245.8 236.3a1.1 1.1 0 1 0 2.2 0a1.1 1.1 0 1 0 -2.2 0M249.6 237.0a1.1 1.1 0 1 0 2.2 0a1.1 1.1 0 1 0 -2.2 0M253.3 234.5a1.1 1.1 0 1 0 2.2 0a1.1 1.1 0 1 0 -2.2 0M300.7 194.1a1.1 1.1 0 1 0 2.2 0a1.1 1.1 0 1 0 -2.2 0M303.5 191.3a1.1 1.1 0 1 0 2.2 0a1.1 1.1 0 1 0 -2.2 0M305.9 189.2a1.1 1.1 0 1 0 2.2 0a1.1 1.1 0 1 0 -2.2 0M298.6 198.4a1.1 1.1 0 1 0 2.2 0a1.1 1.1 0 1 0 -2.2 0M294.3 199.8a1.1 1.1 0 1 0 2.2 0a1.1 1.1 0 1 0 -2.2 0M291.5 203.3a1.1 1.1 0 1 0 2.2 0a1.1 1.1 0 1 0 -2.2 0M293.6 205.4a1.1 1.1 0 1 0 2.2 0a1.1 1.1 0 1 0 -2.2 0M278.1 206.1a1.1 1.1 0 1 0 2.2 0a1.1 1.1 0 1 0 -2.2 0M281.9 205.0a1.1 1.1 0 1 0 2.2 0a1.1 1.1 0 1 0 -2.2 0M285.9 207.0a1.1 1.1 0 1 0 2.2 0a1.1 1.1 0 1 0 -2.2 0M284.4 212.5a1.1 1.1 0 1 0 2.2 0a1.1 1.1 0 1 0 -2.2 0M280.9 212.5a1.1 1.1 0 1 0 2.2 0a1.1 1.1 0 1 0 -2.2 0M245.5 237.1a1.1 1.1 0 1 0 2.2 0a1.1 1.1 0 1 0 -2.2 0M249.0 237.1a1.1 1.1 0 1 0 2.2 0a1.1 1.1 0 1 0 -2.2 0M239.9 245.6a1.1 1.1 0 1 0 2.2 0a1.1 1.1 0 1 0 -2.2 0M243.4 244.2a1.1 1.1 0 1 0 2.2 0a1.1 1.1 0 1 0 -2.2 0M246.2 243.5a1.1 1.1 0 1 0 2.2 0a1.1 1.1 0 1 0 -2.2 0M243.1 231.7a1.1 1.1 0 1 0 2.2 0a1.1 1.1 0 1 0 -2.2 0M264.7 215.3a1.1 1.1 0 1 0 2.2 0a1.1 1.1 0 1 0 -2.2 0M266.4 217.0a1.1 1.1 0 1 0 2.2 0a1.1 1.1 0 1 0 -2.2 0" fill="#b8b8f6"/>
<path d="M302.1 213.9a1.1 1.1 0 1 0 2.2 0a1.1 1.1 0 1 0 -2.2 0M294.3 218.8a1.1 1.1 0 1 0 2.2 0a1.1 1.1 0 1 0 -2.2 0M287.9 221.7a1.1 1.1 0 1 0 2.2 0a1.1 1.1 0 1 0 -2.2 0M284.4 220.3a1.1 1.1 0 1 0 2.2 0a1.1 1.1 0 1 0 -2.2 0M278.1 241.2a1.1 1.1 0 1 0 2.2 0a1.1 1.1 0 1 0 -2.2 0M271.0 243.3a1.1 1.1 0 1 0 2.2 0a1.1 1.1 0 1 0 -2.2 0M256.1 259.0a1.1 1.1 0 1 0 2.2 0a1.1 1.1 0 1 0 -2.2 0M253.3 260.4a1.1 1.1 0 1 0 2.2 0a1.1 1.1 0 1 0 -2.2 0M252.6 258.3a1.1 1.1 0 1 0 2.2 0a1.1 1.1 0 1 0 -2.2 0M249.0 262.5a1.1 1.1 0 1 0 2.2 0a1.1 1.1 0 1 0 -2.2 0M246.2 262.5a1.1 1.1 0 1 0 2.2 0a1.1 1.1 0 1 0 -2.2 0M247.6 256.9a1.1 1.1 0 1 0 2.2 0a1.1 1.1 0 1 0 -2.2 0M240.6 262.5a1.1 1.1 0 1 0 2.2 0a1.1 1.1 0 1 0 -2.2 0M237.0 263.2a1.1 1.1 0 1 0 2.2 0a1.1 1.1 0 1 0 -2.2 0M254.7 252.0a1.1 1.1 0 1 0 2.2 0a1.1 1.1 0 1 0 -2.2 0M257.5 249.1a1.1 1.1 0 1 0 2.2 0a1.1 1.1 0 1 0 -2.2 0M251.9 252.7a1.1 1.1 0 1 0 2.2 0a1.1 1.1 0 1 0 -2.2 0M258.9 240.6a1.1 1.1 0 1 0 2.2 0a1.1 1.1 0 1 0 -2.2 0M265.3 240.0a1.1 1.1 0 1 0 2.2 0a1.1 1.1 0 1 0 -2.2 0M265.9 247.7a1.1 1.1 0 1 0 2.2 0a1.1 1.1 0 1 0 -2.2 0M244.8 257.6a1.1 1.1 0 1 0 2.2 0a1.1 1.1 0 1 0 -2.2 0M248.3 266.8a1.1 1.1 0 1 0 2.2 0a1.1 1.1 0 1 0 -2.2 0M280.9 234.8a1.1 1.1 0 1 0 2.2 0a1.1 1.1 0 1 0 -2.2 0M277.4 234.1a1.1 1.1 0 1 0 2.2 0a1.1 1.1 0 1 0 -2.2 0M274.5 233.4a1.1 1.1 0 1 0 2.2 0a1.1 1.1 0 1 0 -2.2 0M290.1 226.4a1.1 1.1 0 1 0 2.2 0a1.1 1.1 0 1 0 -2.2 0M285.9 227.1a1.1 1.1 0 1 0 2.2 0a1.1 1.1 0 1 0 -2.2 0" fill="#f9b4a6"/>
<path d="M270.8 201.5a1.2 1.2 0 1 0 2.4 0a1.2 1.2 0 1 0 -2.4 0M273.3 202.8a1.2 1.2 0 1 0 2.4 0a1.2 1.2 0 1 0 -2.4 0M277.0 201.9a1.2 1.2 0 1 0 2.4 0a1.2 1.2 0 1 0 -2.4 0M255.7 214.0a1.2 1.2 0 1 0 2.4 0a1.2 1.2 0 1 0 -2.4 0M246.3 225.7a1.2 1.2 0 1 0 2.4 0a1.2 1.2 0 1 0 -2.4 0M243.6 232.0a1.2 1.2 0 1 0 2.4 0a1.2 1.2 0 1 0 -2.4 0M247.6 233.6a1.2 1.2 0 1 0 2.4 0a1.2 1.2 0 1 0 -2.4 0M240.7 238.6a1.2 1.2 0 1 0 2.4 0a1.2 1.2 0 1 0 -2.4 0M295.6 189.9a1.2 1.2 0 1 0 2.4 0a1.2 1.2 0 1 0 -2.4 0M283.6 194.8a1.2 1.2 0 1 0 2.4 0a1.2 1.2 0 1 0 -2.4 0M285.4 194.5a1.2 1.2 0 1 0 2.4 0a1.2 1.2 0 1 0 -2.4 0M279.4 198.4a1.2 1.2 0 1 0 2.4 0a1.2 1.2 0 1 0 -2.4 0M278.4 199.5a1.2 1.2 0 1 0 2.4 0a1.2 1.2 0 1 0 -2.4 0M286.5 198.4a1.2 1.2 0 1 0 2.4 0a1.2 1.2 0 1 0 -2.4 0M290.0 197.0a1.2 1.2 0 1 0 2.4 0a1.2 1.2 0 1 0 -2.4 0M292.8 197.2a1.2 1.2 0 1 0 2.4 0a1.2 1.2 0 1 0 -2.4 0M270.2 201.2a1.2 1.2 0 1 0 2.4 0a1.2 1.2 0 1 0 -2.4 0M273.8 202.6a1.2 1.2 0 1 0 2.4 0a1.2 1.2 0 1 0 -2.4 0M277.3 201.9a1.2 1.2 0 1 0 2.4 0a1.2 1.2 0 1 0 -2.4 0M271.6 210.4a1.2 1.2 0 1 0 2.4 0a1.2 1.2 0 1 0 -2.4 0M269.5 211.8a1.2 1.2 0 1 0 2.4 0a1.2 1.2 0 1 0 -2.4 0M275.2 212.8a1.2 1.2 0 1 0 2.4 0a1.2 1.2 0 1 0 -2.4 0M240.5 238.5a1.2 1.2 0 1 0 2.4 0a1.2 1.2 0 1 0 -2.4 0M236.2 244.9a1.2 1.2 0 1 0 2.4 0a1.2 1.2 0 1 0 -2.4 0M230.6 248.4a1.2 1.2 0 1 0 2.4 0a1.2 1.2 0 1 0 -2.4 0M268.0 211.9a1.2 1.2 0 1 0 2.4 0a1.2 1.2 0 1 0 -2.4 0" fill="#8a8af2"/>
<path d="M299.2 213.9a1.2 1.2 0 1 0 2.4 0a1.2 1.2 0 1 0 -2.4 0M305.8 213.9a1.2 1.2 0 1 0 2.4 0a1.2 1.2 0 1 0 -2.4 0M291.4 222.4a1.2 1.2 0 1 0 2.4 0a1.2 1.2 0 1 0 -2.4 0M292.8 223.8a1.2 1.2 0 1 0 2.4 0a1.2 1.2 0 1 0 -2.4 0M290.0 232.7a1.2 1.2 0 1 0 2.4 0a1.2 1.2 0 1 0 -2.4 0M290.7 234.1a1.2 1.2 0 1 0 2.4 0a1.2 1.2 0 1 0 -2.4 0M272.3 240.5a1.2 1.2 0 1 0 2.4 0a1.2 1.2 0 1 0 -2.4 0M276.6 244.0a1.2 1.2 0 1 0 2.4 0a1.2 1.2 0 1 0 -2.4 0M271.6 246.8a1.2 1.2 0 1 0 2.4 0a1.2 1.2 0 1 0 -2.4 0M275.9 248.2a1.2 1.2 0 1 0 2.4 0a1.2 1.2 0 1 0 -2.4 0M280.1 246.8a1.2 1.2 0 1 0 2.4 0a1.2 1.2 0 1 0 -2.4 0M274.4 253.2a1.2 1.2 0 1 0 2.4 0a1.2 1.2 0 1 0 -2.4 0M270.9 253.9a1.2 1.2 0 1 0 2.4 0a1.2 1.2 0 1 0 -2.4 0M269.5 253.2a1.2 1.2 0 1 0 2.4 0a1.2 1.2 0 1 0 -2.4 0M265.2 244.2a1.2 1.2 0 1 0 2.4 0a1.2 1.2 0 1 0 -2.4 0M263.8 256.2a1.2 1.2 0 1 0 2.4 0a1.2 1.2 0 1 0 -2.4 0M264.5 259.7a1.2 1.2 0 1 0 2.4 0a1.2 1.2 0 1 0 -2.4 0M259.5 261.8a1.2 1.2 0 1 0 2.4 0a1.2 1.2 0 1 0 -2.4 0M260.9 250.5a1.2 1.2 0 1 0 2.4 0a1.2 1.2 0 1 0 -2.4 0" fill="#f5806f"/>
<path d="M215.3 273.3L327.4 180.2" stroke="#a8a8a8" stroke-width="0.8" stroke-dasharray="2.2,1.6" fill="none"/>
<circle cx="262.4" cy="193.3" r="1.4" fill="#1515e0"/>
<circle cx="299.8" cy="248.1" r="1.4" fill="#ee2020"/>
<text transform="translate(256.9,189.7) scale(1,1.05) scale(0.1)" font-size="51.0" >PAX5</text>
<text transform="translate(278.9,192) scale(1,1.05) scale(0.1)" font-size="51.0" >OCT2</text>
<text transform="translate(267,197) scale(1,1.05) scale(0.1)" font-size="51.0" >MEF2</text>
<text transform="translate(281.6,241.2) scale(1,1.05) scale(0.1)" font-size="51.0" >BCL6</text>
<text transform="translate(280.9,247.0) scale(1,1.05) scale(0.1)" font-size="51.0" >TCF3</text>
<text transform="translate(302.2,245.8) scale(1,1.05) scale(0.1)" font-size="51.0" >NFAT</text>
<text transform="translate(268.1,259.8) scale(1,1.05) scale(0.1)" font-size="51.0" >TCFL2</text>
<circle cx="184.9" cy="312.2" r="1.2" fill="#2020e0"/>
<text transform="translate(190.3,314.3) scale(1,1.05) scale(0.1)" font-size="52.9" style="fill:#444">Higher enrichment in naive B cells</text>
<circle cx="278.6" cy="311.5" r="1.2" fill="#ee2020"/>
<text transform="translate(283.7,313.2) scale(1,1.05) scale(0.1)" font-size="52.9" style="fill:#444">Higher enrichment in CLL</text>
<circle cx="184.9" cy="319.5" r="1.2" fill="#c8c8f4"/>
<text transform="translate(190.3,321.5) scale(1,1.05) scale(0.1)" font-size="52.9" style="fill:#444">Lower enrichment in naive B cells</text>
<circle cx="278.6" cy="318.8" r="1.2" fill="#f8c8c0"/>
<text transform="translate(283.7,320.5) scale(1,1.05) scale(0.1)" font-size="52.9" style="fill:#444">Lower enrichment in CLL</text>
<text transform="translate(351.7,181) scale(1,1.05) scale(0.1)" font-size="60.5" >NFAT family</text>
<text transform="translate(351.7,188.9) scale(1,1.05) scale(0.1)" font-size="60.5" >differential rank CLL (81) vs. naive B cells (229) = −148</text>
<text transform="translate(464,200.7) scale(1,1.05) scale(0.1)" font-size="60.5" text-anchor="middle" >Motif enrichment</text>
<text transform="translate(463.5,207.5) scale(1,1.05) scale(0.1)" font-size="59.7" text-anchor="middle" ><tspan font-style="italic">P</tspan> &lt; 0.001</text>
<text transform="translate(351.7,222.8) scale(1,1.05) scale(0.1)" font-size="60.5" >TCF/LEF family</text>
<text transform="translate(351.7,230.0) scale(1,1.05) scale(0.1)" font-size="60.5" >differential rank CLL (178) vs. naive B cells (256) = −78</text>
<text transform="translate(464,244.9) scale(1,1.05) scale(0.1)" font-size="60.5" text-anchor="middle" >Motif enrichment</text>
<text transform="translate(463.5,252.3) scale(1,1.05) scale(0.1)" font-size="59.7" text-anchor="middle" ><tspan font-style="italic">P</tspan> &lt; 0.001</text>
<text transform="translate(351.7,264.6) scale(1,1.05) scale(0.1)" font-size="60.5" >BCL6</text>
<text transform="translate(351.7,272.3) scale(1,1.05) scale(0.1)" font-size="60.5" >differential rank CLL (139) vs. naive B cells (206) = −67</text>
<text transform="translate(464,286.5) scale(1,1.05) scale(0.1)" font-size="60.5" text-anchor="middle" >Motif enrichment</text>
<text transform="translate(463.5,293.7) scale(1,1.05) scale(0.1)" font-size="59.7" text-anchor="middle" ><tspan font-style="italic">P</tspan> &lt; 0.001</text>
<text transform="translate(382.84,210.79) scale(0.316,0.085)" font-size="10" class="lg" style="fill:#2a5cc0;stroke:none">C</text>
<text transform="translate(382.99,210.20) scale(0.302,0.131)" font-size="10" class="lg" style="fill:#2ca02c;stroke:none">A</text>
<text transform="translate(384.90,210.80) scale(0.442,0.073)" font-size="10" class="lg" style="fill:#d8263a;stroke:none">T</text>
<text transform="translate(384.99,210.30) scale(0.378,0.073)" font-size="10" class="lg" style="fill:#2ca02c;stroke:none">A</text>
<text transform="translate(387.31,210.79) scale(0.383,0.071)" font-size="10" class="lg" style="fill:#f2a51a;stroke:none">G</text>
<text transform="translate(387.49,210.30) scale(0.378,0.058)" font-size="10" class="lg" style="fill:#2ca02c;stroke:none">A</text>
<text transform="translate(389.99,210.80) scale(0.363,0.058)" font-size="10" class="lg" style="fill:#2ca02c;stroke:none">A</text>
<text transform="translate(389.91,210.40) scale(0.425,0.116)" font-size="10" class="lg" style="fill:#d8263a;stroke:none">T</text>
<text transform="translate(392.39,210.80) scale(0.634,0.044)" font-size="10" class="lg" style="fill:#2ca02c;stroke:none">A</text>
<text transform="translate(392.24,210.50) scale(0.743,1.119)" font-size="10" class="lg" style="fill:#d8263a;stroke:none">T</text>
<text transform="translate(396.41,210.80) scale(0.850,2.282)" font-size="10" class="lg" style="fill:#d8263a;stroke:none">T</text>
<text transform="translate(401.20,210.80) scale(0.903,2.282)" font-size="10" class="lg" style="fill:#d8263a;stroke:none">T</text>
<text transform="translate(406.09,210.61) scale(0.807,2.107)" font-size="10" class="lg" style="fill:#2a5cc0;stroke:none">C</text>
<text transform="translate(411.21,210.62) scale(0.759,2.051)" font-size="10" class="lg" style="fill:#2a5cc0;stroke:none">C</text>
<text transform="translate(416.24,210.80) scale(0.743,0.087)" font-size="10" class="lg" style="fill:#d8263a;stroke:none">T</text>
<text transform="translate(416.08,210.17) scale(0.644,0.283)" font-size="10" class="lg" style="fill:#f2a51a;stroke:none">G</text>
<text transform="translate(416.39,208.20) scale(0.634,0.407)" font-size="10" class="lg" style="fill:#2ca02c;stroke:none">A</text>
<text transform="translate(420.34,210.79) scale(0.521,0.071)" font-size="10" class="lg" style="fill:#f2a51a;stroke:none">G</text>
<text transform="translate(420.59,210.30) scale(0.514,0.102)" font-size="10" class="lg" style="fill:#2ca02c;stroke:none">A</text>
<text transform="translate(423.76,210.79) scale(0.475,0.057)" font-size="10" class="lg" style="fill:#2a5cc0;stroke:none">C</text>
<text transform="translate(423.99,210.40) scale(0.453,0.087)" font-size="10" class="lg" style="fill:#2ca02c;stroke:none">A</text>
<text transform="translate(426.88,210.80) scale(0.566,0.058)" font-size="10" class="lg" style="fill:#d8263a;stroke:none">T</text>
<text transform="translate(426.99,210.40) scale(0.483,0.058)" font-size="10" class="lg" style="fill:#2ca02c;stroke:none">A</text>
<text transform="translate(382.70,252.60) scale(0.442,0.044)" font-size="10" class="lg" style="fill:#d8263a;stroke:none">T</text>
<text transform="translate(382.79,252.30) scale(0.378,0.058)" font-size="10" class="lg" style="fill:#2ca02c;stroke:none">A</text>
<text transform="translate(385.09,252.59) scale(0.414,0.057)" font-size="10" class="lg" style="fill:#f2a51a;stroke:none">G</text>
<text transform="translate(385.29,252.20) scale(0.408,0.073)" font-size="10" class="lg" style="fill:#2ca02c;stroke:none">A</text>
<text transform="translate(387.90,252.60) scale(0.460,0.073)" font-size="10" class="lg" style="fill:#d8263a;stroke:none">T</text>
<text transform="translate(387.80,252.09) scale(0.399,0.085)" font-size="10" class="lg" style="fill:#f2a51a;stroke:none">G</text>
<text transform="translate(387.99,251.50) scale(0.393,0.145)" font-size="10" class="lg" style="fill:#2ca02c;stroke:none">A</text>
<text transform="translate(390.31,252.58) scale(0.570,0.212)" font-size="10" class="lg" style="fill:#2a5cc0;stroke:none">C</text>
<text transform="translate(390.59,251.10) scale(0.544,0.625)" font-size="10" class="lg" style="fill:#2ca02c;stroke:none">A</text>
<text transform="translate(394.04,252.60) scale(0.743,0.203)" font-size="10" class="lg" style="fill:#d8263a;stroke:none">T</text>
<text transform="translate(393.86,251.17) scale(0.665,0.283)" font-size="10" class="lg" style="fill:#2a5cc0;stroke:none">C</text>
<text transform="translate(394.19,249.20) scale(0.634,0.291)" font-size="10" class="lg" style="fill:#2ca02c;stroke:none">A</text>
<text transform="translate(398.11,252.58) scale(0.570,0.212)" font-size="10" class="lg" style="fill:#2a5cc0;stroke:none">C</text>
<text transform="translate(398.26,251.10) scale(0.637,0.160)" font-size="10" class="lg" style="fill:#d8263a;stroke:none">T</text>
<text transform="translate(398.39,250.00) scale(0.544,0.654)" font-size="10" class="lg" style="fill:#2ca02c;stroke:none">A</text>
<text transform="translate(401.99,252.60) scale(0.589,0.029)" font-size="10" class="lg" style="fill:#2ca02c;stroke:none">A</text>
<text transform="translate(401.85,252.40) scale(0.690,2.035)" font-size="10" class="lg" style="fill:#d8263a;stroke:none">T</text>
<text transform="translate(405.55,252.59) scale(0.690,0.156)" font-size="10" class="lg" style="fill:#f2a51a;stroke:none">G</text>
<text transform="translate(405.54,251.42) scale(0.712,0.919)" font-size="10" class="lg" style="fill:#2a5cc0;stroke:none">C</text>
<text transform="translate(410.39,252.60) scale(0.634,2.355)" font-size="10" class="lg" style="fill:#2ca02c;stroke:none">A</text>
<text transform="translate(414.59,252.60) scale(0.634,2.355)" font-size="10" class="lg" style="fill:#2ca02c;stroke:none">A</text>
<text transform="translate(418.79,252.60) scale(0.544,2.355)" font-size="10" class="lg" style="fill:#2ca02c;stroke:none">A</text>
<text transform="translate(422.21,252.60) scale(0.850,0.102)" font-size="10" class="lg" style="fill:#d8263a;stroke:none">T</text>
<text transform="translate(422.03,251.77) scale(0.736,1.485)" font-size="10" class="lg" style="fill:#f2a51a;stroke:none">G</text>
<text transform="translate(426.89,252.59) scale(0.601,0.057)" font-size="10" class="lg" style="fill:#2a5cc0;stroke:none">C</text>
<text transform="translate(427.19,252.20) scale(0.574,0.073)" font-size="10" class="lg" style="fill:#2ca02c;stroke:none">A</text>
<text transform="translate(430.75,252.60) scale(1.133,0.044)" font-size="10" class="lg" style="fill:#d8263a;stroke:none">T</text>
<text transform="translate(430.98,252.30) scale(0.967,0.044)" font-size="10" class="lg" style="fill:#2ca02c;stroke:none">A</text>
<text transform="translate(382.11,294.59) scale(0.570,0.057)" font-size="10" class="lg" style="fill:#2a5cc0;stroke:none">C</text>
<text transform="translate(382.39,294.20) scale(0.544,0.058)" font-size="10" class="lg" style="fill:#2ca02c;stroke:none">A</text>
<text transform="translate(385.99,294.60) scale(0.634,0.044)" font-size="10" class="lg" style="fill:#2ca02c;stroke:none">A</text>
<text transform="translate(385.84,294.30) scale(0.743,1.642)" font-size="10" class="lg" style="fill:#d8263a;stroke:none">T</text>
<text transform="translate(390.08,294.60) scale(0.566,1.642)" font-size="10" class="lg" style="fill:#d8263a;stroke:none">T</text>
<text transform="translate(393.08,294.45) scale(0.633,1.641)" font-size="10" class="lg" style="fill:#2a5cc0;stroke:none">C</text>
<text transform="translate(397.11,294.45) scale(0.570,1.641)" font-size="10" class="lg" style="fill:#2a5cc0;stroke:none">C</text>
<text transform="translate(400.84,294.60) scale(0.743,2.413)" font-size="10" class="lg" style="fill:#d8263a;stroke:none">T</text>
<text transform="translate(404.92,294.59) scale(0.552,0.141)" font-size="10" class="lg" style="fill:#f2a51a;stroke:none">G</text>
<text transform="translate(405.19,293.60) scale(0.544,0.262)" font-size="10" class="lg" style="fill:#2ca02c;stroke:none">A</text>
<text transform="translate(408.49,294.59) scale(0.617,0.113)" font-size="10" class="lg" style="fill:#2a5cc0;stroke:none">C</text>
<text transform="translate(408.50,293.67) scale(0.598,1.471)" font-size="10" class="lg" style="fill:#f2a51a;stroke:none">G</text>
<text transform="translate(412.56,294.60) scale(0.619,0.116)" font-size="10" class="lg" style="fill:#d8263a;stroke:none">T</text>
<text transform="translate(412.43,293.78) scale(0.537,0.226)" font-size="10" class="lg" style="fill:#f2a51a;stroke:none">G</text>
<text transform="translate(412.69,292.20) scale(0.529,1.802)" font-size="10" class="lg" style="fill:#2ca02c;stroke:none">A</text>
<text transform="translate(415.92,294.58) scale(0.552,0.198)" font-size="10" class="lg" style="fill:#f2a51a;stroke:none">G</text>
<text transform="translate(416.19,293.20) scale(0.544,0.494)" font-size="10" class="lg" style="fill:#2ca02c;stroke:none">A</text>
<text transform="translate(419.52,294.58) scale(0.552,0.198)" font-size="10" class="lg" style="fill:#f2a51a;stroke:none">G</text>
<text transform="translate(419.79,293.20) scale(0.544,0.494)" font-size="10" class="lg" style="fill:#2ca02c;stroke:none">A</text>
<text transform="translate(423.26,294.60) scale(0.637,0.174)" font-size="10" class="lg" style="fill:#d8263a;stroke:none">T</text>
<text transform="translate(423.12,293.36) scale(0.552,0.396)" font-size="10" class="lg" style="fill:#f2a51a;stroke:none">G</text>
<text transform="translate(426.68,294.59) scale(0.633,0.057)" font-size="10" class="lg" style="fill:#2a5cc0;stroke:none">C</text>
<text transform="translate(426.99,294.20) scale(0.604,0.073)" font-size="10" class="lg" style="fill:#2ca02c;stroke:none">A</text>
<text transform="translate(430.86,294.60) scale(0.637,0.044)" font-size="10" class="lg" style="fill:#d8263a;stroke:none">T</text>
<text transform="translate(430.99,294.30) scale(0.544,0.044)" font-size="10" class="lg" style="fill:#2ca02c;stroke:none">A</text>
</svg></div></body></html>
